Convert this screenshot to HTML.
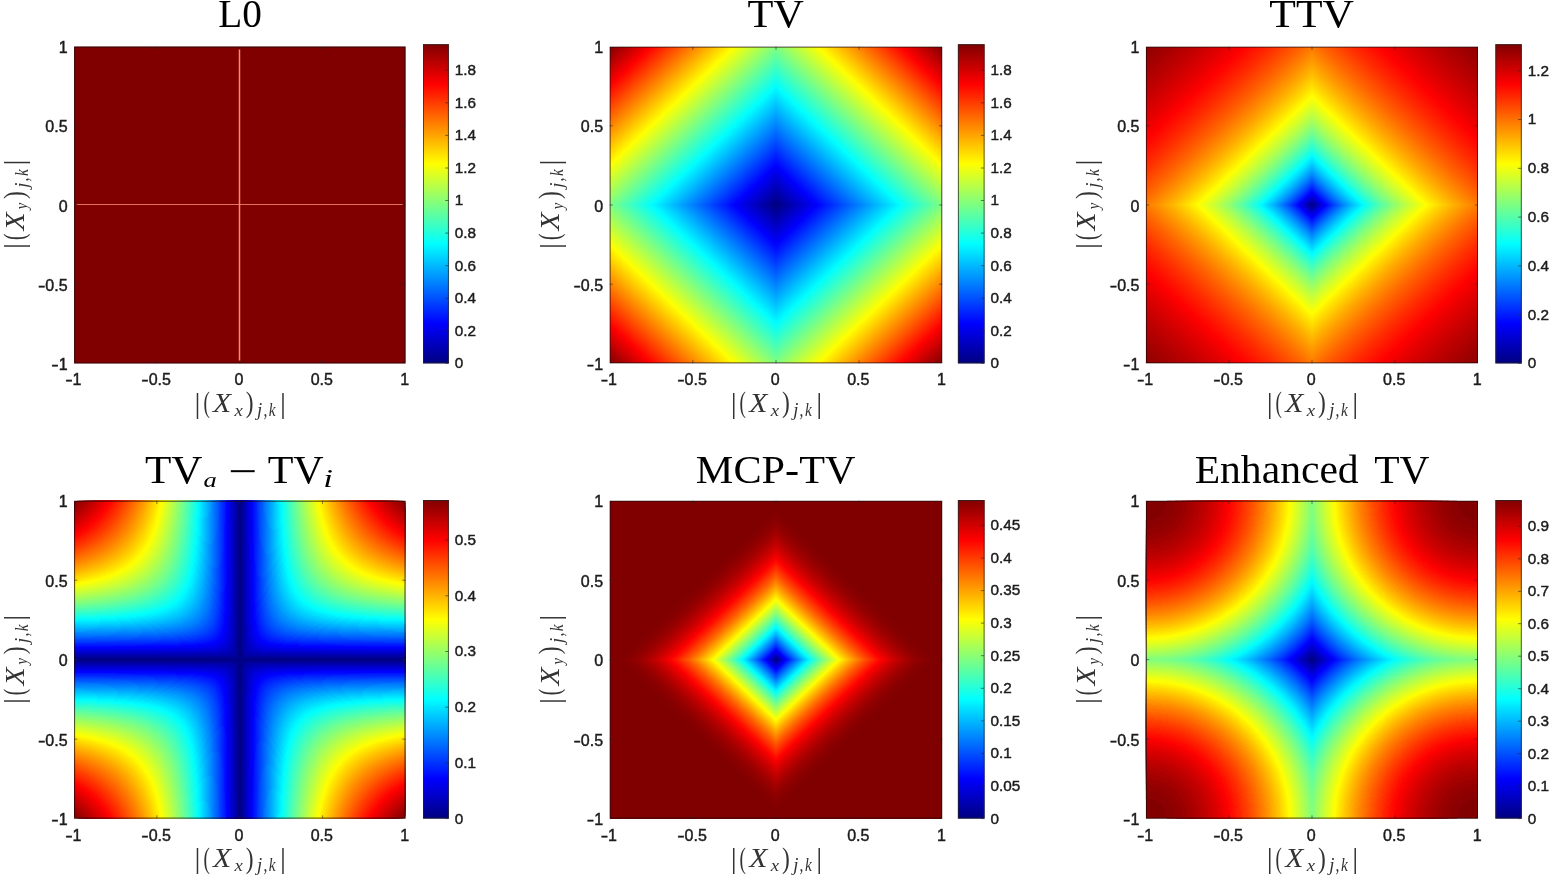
<!DOCTYPE html>
<html lang="en"><head><meta charset="utf-8"><title>Regularizer level sets</title>
<style>html,body{margin:0;padding:0;background:#fff}body{width:1551px;height:879px;overflow:hidden}svg{display:block}.t{font-family:"Liberation Sans",sans-serif;font-size:16px;fill:#1c1c1c;stroke:#1c1c1c;stroke-width:0.45px}.c{font-size:15.3px}.ti{font-family:"Liberation Serif",serif;font-size:39.5px;fill:#000}.lb{font-family:"Liberation Serif",serif;font-size:26.5px;fill:#333}</style></head><body>
<svg width="1551" height="879" viewBox="0 0 1551 879">
<rect width="1551" height="879" fill="#fff"/>
<rect x="74.1" y="46.6" width="331.4" height="316.8" fill="#800000"/>
<path d="M76.7 204.5H402.9" stroke="#e4705c" stroke-width="1.2" fill="none"/>
<path d="M239.5 49.2V360.8" stroke="#f88c6e" stroke-width="1.5" fill="none"/>
<defs>
<linearGradient id="g2_0" x1="0" y1="1" x2="1" y2="0"><stop offset="0.0000" stop-color="#000080"/><stop offset="0.0104" stop-color="#00008a"/><stop offset="0.0208" stop-color="#000095"/><stop offset="0.0312" stop-color="#00009f"/><stop offset="0.0417" stop-color="#0000aa"/><stop offset="0.0521" stop-color="#0000b5"/><stop offset="0.0625" stop-color="#0000bf"/><stop offset="0.0729" stop-color="#0000ca"/><stop offset="0.0833" stop-color="#0000d4"/><stop offset="0.0938" stop-color="#0000df"/><stop offset="0.1042" stop-color="#0000ea"/><stop offset="0.1146" stop-color="#0000f4"/><stop offset="0.1250" stop-color="#0000ff"/><stop offset="0.1250" stop-color="#0000ff"/><stop offset="0.1354" stop-color="#000bff"/><stop offset="0.1458" stop-color="#0015ff"/><stop offset="0.1562" stop-color="#0020ff"/><stop offset="0.1667" stop-color="#002aff"/><stop offset="0.1771" stop-color="#0035ff"/><stop offset="0.1875" stop-color="#0040ff"/><stop offset="0.1979" stop-color="#004aff"/><stop offset="0.2083" stop-color="#0055ff"/><stop offset="0.2188" stop-color="#0060ff"/><stop offset="0.2292" stop-color="#006aff"/><stop offset="0.2396" stop-color="#0075ff"/><stop offset="0.2500" stop-color="#0080ff"/><stop offset="0.2604" stop-color="#008aff"/><stop offset="0.2708" stop-color="#0095ff"/><stop offset="0.2812" stop-color="#009fff"/><stop offset="0.2917" stop-color="#00aaff"/><stop offset="0.3021" stop-color="#00b5ff"/><stop offset="0.3125" stop-color="#00bfff"/><stop offset="0.3229" stop-color="#00caff"/><stop offset="0.3333" stop-color="#00d4ff"/><stop offset="0.3438" stop-color="#00dfff"/><stop offset="0.3542" stop-color="#00eaff"/><stop offset="0.3646" stop-color="#00f4ff"/><stop offset="0.3750" stop-color="#00ffff"/><stop offset="0.3750" stop-color="#00ffff"/><stop offset="0.3854" stop-color="#0bfff4"/><stop offset="0.3958" stop-color="#15ffea"/><stop offset="0.4062" stop-color="#20ffdf"/><stop offset="0.4167" stop-color="#2bffd4"/><stop offset="0.4271" stop-color="#35ffca"/><stop offset="0.4375" stop-color="#40ffbf"/><stop offset="0.4479" stop-color="#4affb5"/><stop offset="0.4583" stop-color="#55ffaa"/><stop offset="0.4688" stop-color="#60ff9f"/><stop offset="0.4792" stop-color="#6aff95"/><stop offset="0.4896" stop-color="#75ff8a"/><stop offset="0.5000" stop-color="#80ff80"/><stop offset="0.5104" stop-color="#8aff75"/><stop offset="0.5208" stop-color="#95ff6a"/><stop offset="0.5312" stop-color="#9fff60"/><stop offset="0.5417" stop-color="#aaff55"/><stop offset="0.5521" stop-color="#b5ff4a"/><stop offset="0.5625" stop-color="#bfff40"/><stop offset="0.5729" stop-color="#caff35"/><stop offset="0.5833" stop-color="#d5ff2a"/><stop offset="0.5938" stop-color="#dfff20"/><stop offset="0.6042" stop-color="#eaff15"/><stop offset="0.6146" stop-color="#f4ff0b"/><stop offset="0.6250" stop-color="#ffff00"/><stop offset="0.6250" stop-color="#ffff00"/><stop offset="0.6354" stop-color="#fff400"/><stop offset="0.6458" stop-color="#ffea00"/><stop offset="0.6562" stop-color="#ffdf00"/><stop offset="0.6667" stop-color="#ffd500"/><stop offset="0.6771" stop-color="#ffca00"/><stop offset="0.6875" stop-color="#ffbf00"/><stop offset="0.6979" stop-color="#ffb500"/><stop offset="0.7083" stop-color="#ffaa00"/><stop offset="0.7188" stop-color="#ff9f00"/><stop offset="0.7292" stop-color="#ff9500"/><stop offset="0.7396" stop-color="#ff8a00"/><stop offset="0.7500" stop-color="#ff8000"/><stop offset="0.7604" stop-color="#ff7500"/><stop offset="0.7708" stop-color="#ff6a00"/><stop offset="0.7812" stop-color="#ff6000"/><stop offset="0.7917" stop-color="#ff5500"/><stop offset="0.8021" stop-color="#ff4a00"/><stop offset="0.8125" stop-color="#ff4000"/><stop offset="0.8229" stop-color="#ff3500"/><stop offset="0.8333" stop-color="#ff2a00"/><stop offset="0.8438" stop-color="#ff2000"/><stop offset="0.8542" stop-color="#ff1500"/><stop offset="0.8646" stop-color="#ff0b00"/><stop offset="0.8750" stop-color="#ff0000"/><stop offset="0.8854" stop-color="#f40000"/><stop offset="0.8958" stop-color="#ea0000"/><stop offset="0.9062" stop-color="#df0000"/><stop offset="0.9167" stop-color="#d50000"/><stop offset="0.9271" stop-color="#ca0000"/><stop offset="0.9375" stop-color="#bf0000"/><stop offset="0.9479" stop-color="#b50000"/><stop offset="0.9583" stop-color="#aa0000"/><stop offset="0.9688" stop-color="#9f0000"/><stop offset="0.9792" stop-color="#950000"/><stop offset="0.9896" stop-color="#8a0000"/><stop offset="1.0000" stop-color="#800000"/></linearGradient>
<linearGradient id="g2_1" x1="1" y1="1" x2="0" y2="0" href="#g2_0"/>
<linearGradient id="g2_2" x1="0" y1="0" x2="1" y2="1" href="#g2_0"/>
<linearGradient id="g2_3" x1="1" y1="0" x2="0" y2="1" href="#g2_0"/>
</defs>
<g shape-rendering="crispEdges">
<rect x="775.95" y="46.60" width="166.35" height="158.40" fill="url(#g2_0)"/>
<rect x="609.60" y="46.60" width="166.35" height="158.40" fill="url(#g2_1)"/>
<rect x="775.95" y="205.00" width="166.35" height="158.40" fill="url(#g2_2)"/>
<rect x="609.60" y="205.00" width="166.35" height="158.40" fill="url(#g2_3)"/>
</g>
<defs>
<linearGradient id="g3_0" x1="0" y1="1" x2="1" y2="0"><stop offset="0.0000" stop-color="#000080"/><stop offset="0.0104" stop-color="#0000a1"/><stop offset="0.0208" stop-color="#0000c2"/><stop offset="0.0312" stop-color="#0000e0"/><stop offset="0.0417" stop-color="#0000fe"/><stop offset="0.0421" stop-color="#0000ff"/><stop offset="0.0521" stop-color="#001bff"/><stop offset="0.0625" stop-color="#0036ff"/><stop offset="0.0729" stop-color="#0050ff"/><stop offset="0.0833" stop-color="#0069ff"/><stop offset="0.0938" stop-color="#0081ff"/><stop offset="0.1042" stop-color="#0098ff"/><stop offset="0.1146" stop-color="#00aeff"/><stop offset="0.1250" stop-color="#00c3ff"/><stop offset="0.1354" stop-color="#00d8ff"/><stop offset="0.1458" stop-color="#00ebff"/><stop offset="0.1562" stop-color="#00feff"/><stop offset="0.1566" stop-color="#00ffff"/><stop offset="0.1667" stop-color="#12ffed"/><stop offset="0.1771" stop-color="#23ffdc"/><stop offset="0.1875" stop-color="#35ffca"/><stop offset="0.1979" stop-color="#45ffba"/><stop offset="0.2083" stop-color="#55ffaa"/><stop offset="0.2188" stop-color="#65ff9a"/><stop offset="0.2292" stop-color="#74ff8b"/><stop offset="0.2396" stop-color="#82ff7d"/><stop offset="0.2500" stop-color="#91ff6e"/><stop offset="0.2604" stop-color="#9eff61"/><stop offset="0.2708" stop-color="#acff53"/><stop offset="0.2812" stop-color="#b9ff46"/><stop offset="0.2917" stop-color="#c5ff3a"/><stop offset="0.3021" stop-color="#d1ff2e"/><stop offset="0.3125" stop-color="#ddff22"/><stop offset="0.3229" stop-color="#e9ff16"/><stop offset="0.3333" stop-color="#f4ff0b"/><stop offset="0.3438" stop-color="#ffff00"/><stop offset="0.3438" stop-color="#ffff00"/><stop offset="0.3542" stop-color="#fff400"/><stop offset="0.3646" stop-color="#ffea00"/><stop offset="0.3750" stop-color="#ffe000"/><stop offset="0.3854" stop-color="#ffd600"/><stop offset="0.3958" stop-color="#ffcd00"/><stop offset="0.4062" stop-color="#ffc300"/><stop offset="0.4167" stop-color="#ffba00"/><stop offset="0.4271" stop-color="#ffb100"/><stop offset="0.4375" stop-color="#ffa900"/><stop offset="0.4479" stop-color="#ffa000"/><stop offset="0.4583" stop-color="#ff9800"/><stop offset="0.4688" stop-color="#ff9000"/><stop offset="0.4792" stop-color="#ff8800"/><stop offset="0.4896" stop-color="#ff8000"/><stop offset="0.5000" stop-color="#ff7900"/><stop offset="0.5104" stop-color="#ff7100"/><stop offset="0.5208" stop-color="#ff6a00"/><stop offset="0.5312" stop-color="#ff6300"/><stop offset="0.5417" stop-color="#ff5c00"/><stop offset="0.5521" stop-color="#ff5500"/><stop offset="0.5625" stop-color="#ff4f00"/><stop offset="0.5729" stop-color="#ff4800"/><stop offset="0.5833" stop-color="#ff4200"/><stop offset="0.5938" stop-color="#ff3b00"/><stop offset="0.6042" stop-color="#ff3500"/><stop offset="0.6146" stop-color="#ff2f00"/><stop offset="0.6250" stop-color="#ff2900"/><stop offset="0.6354" stop-color="#ff2400"/><stop offset="0.6458" stop-color="#ff1e00"/><stop offset="0.6562" stop-color="#ff1900"/><stop offset="0.6667" stop-color="#ff1300"/><stop offset="0.6771" stop-color="#ff0e00"/><stop offset="0.6875" stop-color="#ff0900"/><stop offset="0.6979" stop-color="#ff0300"/><stop offset="0.7049" stop-color="#ff0000"/><stop offset="0.7083" stop-color="#fd0000"/><stop offset="0.7188" stop-color="#f80000"/><stop offset="0.7292" stop-color="#f40000"/><stop offset="0.7396" stop-color="#ef0000"/><stop offset="0.7500" stop-color="#ea0000"/><stop offset="0.7604" stop-color="#e50000"/><stop offset="0.7708" stop-color="#e10000"/><stop offset="0.7812" stop-color="#dd0000"/><stop offset="0.7917" stop-color="#d80000"/><stop offset="0.8021" stop-color="#d40000"/><stop offset="0.8125" stop-color="#d00000"/><stop offset="0.8229" stop-color="#cb0000"/><stop offset="0.8333" stop-color="#c70000"/><stop offset="0.8438" stop-color="#c30000"/><stop offset="0.8542" stop-color="#bf0000"/><stop offset="0.8646" stop-color="#bb0000"/><stop offset="0.8750" stop-color="#b80000"/><stop offset="0.8854" stop-color="#b40000"/><stop offset="0.8958" stop-color="#b00000"/><stop offset="0.9062" stop-color="#ad0000"/><stop offset="0.9167" stop-color="#a90000"/><stop offset="0.9271" stop-color="#a50000"/><stop offset="0.9375" stop-color="#a20000"/><stop offset="0.9479" stop-color="#9e0000"/><stop offset="0.9583" stop-color="#9b0000"/><stop offset="0.9688" stop-color="#980000"/><stop offset="0.9792" stop-color="#940000"/><stop offset="0.9896" stop-color="#910000"/><stop offset="1.0000" stop-color="#8e0000"/></linearGradient>
<linearGradient id="g3_1" x1="1" y1="1" x2="0" y2="0" href="#g3_0"/>
<linearGradient id="g3_2" x1="0" y1="0" x2="1" y2="1" href="#g3_0"/>
<linearGradient id="g3_3" x1="1" y1="0" x2="0" y2="1" href="#g3_0"/>
</defs>
<g shape-rendering="crispEdges">
<rect x="1311.95" y="46.60" width="166.05" height="158.40" fill="url(#g3_0)"/>
<rect x="1145.90" y="46.60" width="166.05" height="158.40" fill="url(#g3_1)"/>
<rect x="1311.95" y="205.00" width="166.05" height="158.40" fill="url(#g3_2)"/>
<rect x="1145.90" y="205.00" width="166.05" height="158.40" fill="url(#g3_3)"/>
</g>
<clipPath id="c4"><rect x="74.1" y="500.7" width="331.4" height="317.9"/></clipPath>
<g clip-path="url(#c4)" shape-rendering="crispEdges">
<rect x="74.1" y="500.7" width="331.4" height="317.9" fill="#830000"/>
<g transform="translate(239.8 659.6)">
<g id="q4">
<path fill="#8b0000" d="M-0.8 -0.8L169 -0.8L169 153.5L164.2 157.9L160.1 162.1L-0.8 162.1Z"/>
<path fill="#930000" d="M-0.8 -0.8L169 -0.8L169 151.2L165.8 154L162.9 156.6L160.1 159.4L157.6 162.1L-0.8 162.1Z"/>
<path fill="#9b0000" d="M-0.8 -0.8L169 -0.8L169 149L165.3 152L161.7 155.3L158.4 158.6L155.3 162.1L-0.8 162.1Z"/>
<path fill="#a30000" d="M-0.8 -0.8L169 -0.8L169 146.7L164.6 150.3L160.5 154L156.7 157.9L153 162.1L-0.8 162.1Z"/>
<path fill="#ab0000" d="M-0.8 -0.8L169 -0.8L169 144.5L163.9 148.5L159.1 152.8L154.8 157.2L150.7 162.1L-0.8 162.1Z"/>
<path fill="#b30000" d="M-0.8 -0.8L169 -0.8L169 142.4L165.9 144.6L163 147L160.3 149.3L157.8 151.6L155.2 154.2L152.9 156.7L150.6 159.4L148.4 162.1L-0.8 162.1Z"/>
<path fill="#bb0000" d="M-0.8 -0.8L169 -0.8L169 140.3L165.8 142.5L162.5 145L159.3 147.7L156.5 150.4L153.7 153.2L151.2 155.9L148.6 159L146.2 162.1L-0.8 162.1Z"/>
<path fill="#c30000" d="M-0.8 -0.8L169 -0.8L169 138.2L165.3 140.7L161.7 143.4L158.4 146.2L155.2 149.1L152.3 152L149.5 155.1L146.7 158.5L144 162.1L-0.8 162.1Z"/>
<path fill="#cb0000" d="M-0.8 -0.8L169 -0.8L169 136.1L165 138.8L161.3 141.5L157.5 144.6L154 147.8L150.8 151L147.5 154.7L144.7 158.2L141.9 162.1L-0.8 162.1Z"/>
<path fill="#d30000" d="M-0.8 -0.8L169 -0.8L169 134.1L164.6 137L160.4 140L156.5 143.1L152.7 146.6L149.2 150.2L145.8 154L142.7 158L139.8 162.1L-0.8 162.1Z"/>
<path fill="#db0000" d="M-0.8 -0.8L169 -0.8L169 132.1L164.2 135.1L159.5 138.4L155.2 141.8L151.3 145.4L147.5 149.3L144.2 153.2L140.9 157.5L137.7 162.1L-0.8 162.1Z"/>
<path fill="#e30000" d="M-0.8 -0.8L169 -0.8L169 130.1L163.7 133.3L158.9 136.7L154.2 140.4L150 144.2L145.9 148.4L142.3 152.7L139 157.1L135.7 162.1L-0.8 162.1Z"/>
<path fill="#eb0000" d="M-0.8 -0.8L169 -0.8L169 128.2L163.3 131.5L158.1 135.1L153.2 138.9L148.7 142.9L144.4 147.4L140.6 151.9L137 156.9L133.7 162.1L-0.8 162.1Z"/>
<path fill="#f30000" d="M-0.8 -0.8L169 -0.8L169 126.3L162.9 129.8L157.5 133.4L152.4 137.2L150 139.3L147.5 141.6L145.2 143.9L143.1 146.2L139 151.1L135.3 156.3L131.7 162.1L-0.8 162.1Z"/>
<path fill="#fb0000" d="M-0.8 -0.8L169 -0.8L169 124.4L165.8 126.2L162.5 128L159.5 129.9L156.7 131.8L154 133.7L151.2 135.9L148.7 138L146.2 140.4L143.9 142.7L141.5 145.3L139.4 147.7L137.3 150.5L135.3 153.2L133.3 156.1L131.5 159L129.7 162.1L-0.8 162.1Z"/>
<path fill="#ff0400" d="M-0.8 -0.8L169 -0.8L169 122.6L165.5 124.4L162.1 126.3L158.9 128.2L155.8 130.2L152.8 132.4L150.1 134.5L147.4 136.9L144.8 139.2L142.3 141.8L140 144.2L137.8 146.9L135.6 149.7L133.7 152.4L131.6 155.5L129.7 158.7L127.8 162.1L-0.8 162.1Z"/>
<path fill="#ff0c00" d="M-0.8 -0.8L169 -0.8L169 120.8L165.4 122.6L161.7 124.5L158.5 126.5L155 128.7L152 130.8L149.2 133L146.3 135.4L143.5 138L141 140.5L138.6 143.1L136.2 146L134 148.9L131.8 152L129.7 155.3L127.8 158.6L125.9 162.1L-0.8 162.1Z"/>
<path fill="#ff1400" d="M-0.8 -0.8L169 -0.8L169 119L165 120.9L161.3 122.8L157.9 124.8L154.4 127L151.2 129.2L147.9 131.7L145 134.1L142.3 136.7L139.4 139.6L137 142.3L134.6 145.2L132.4 148.1L130.1 151.4L128 154.7L126.1 158.2L124 162.1L-0.8 162.1Z"/>
<path fill="#ff1c00" d="M-0.8 -0.8L169 -0.8L169 117.2L165 119.1L160.9 121.1L157.2 123.2L153.6 125.4L150 127.9L146.9 130.2L143.9 132.8L141 135.4L138.2 138.2L135.6 141.1L133.1 144.2L130.8 147.4L128.5 150.7L126.3 154.4L124.1 158.2L122.2 162.1L-0.8 162.1Z"/>
<path fill="#ff2400" d="M-0.8 -0.8L169 -0.8L169 115.5L164.7 117.4L160.5 119.5L156.5 121.7L152.8 123.9L149.2 126.4L145.9 128.8L142.7 131.4L139.8 134.1L137 136.9L134.2 140.1L131.7 143.1L129.2 146.6L126.9 150.1L124.5 154L122.4 157.9L120.4 162.1L-0.8 162.1Z"/>
<path fill="#ff2c00" d="M-0.8 -0.8L169 -0.8L169 113.7L164.6 115.7L160.1 117.8L156 120L152 122.4L148.3 124.8L144.7 127.5L141.5 130.2L138.4 133L135.4 136L132.5 139.2L129.8 142.7L127.3 146.2L125.1 149.7L122.8 153.6L120.6 157.9L118.6 162.1L-0.8 162.1Z"/>
<path fill="#ff3400" d="M-0.8 -0.8L169 -0.8L169 112.1L164.2 114.1L159.5 116.2L155.2 118.5L151.2 120.9L147.5 123.2L143.8 126L140.2 128.9L137 131.8L134 134.9L130.9 138.4L128.2 141.9L125.7 145.4L123.3 149.3L121.1 153.2L118.9 157.5L116.8 162.1L-0.8 162.1Z"/>
<path fill="#ff3c00" d="M-0.8 -0.8L169 -0.8L169 110.4L164.1 112.4L159.3 114.5L154.8 116.8L150.4 119.3L146.3 121.9L142.7 124.6L139 127.5L135.8 130.5L132.6 133.7L129.7 137.1L126.8 140.7L124.2 144.6L121.7 148.5L119.4 152.8L117.1 157.4L115.1 162.1L-0.8 162.1Z"/>
<path fill="#ff4400" d="M-0.8 -0.8L169 -0.8L169 108.7L163.7 110.8L158.9 112.9L154 115.3L149.6 117.8L145.5 120.4L141.5 123.2L137.8 126.2L134.6 129.2L131.3 132.5L128.5 135.7L125.5 139.6L122.8 143.5L120.2 147.7L117.7 152.4L115.5 157.1L113.3 162.1L-0.8 162.1Z"/>
<path fill="#ff4c00" d="M-0.8 -0.8L169 -0.8L169 107.1L163.7 109.1L158.5 111.3L153.6 113.7L148.9 116.2L144.7 118.8L140.6 121.7L136.7 124.8L133.3 127.9L129.9 131.4L126.9 134.9L123.9 138.8L121.2 142.8L118.5 147.4L116 152L113.7 157.1L111.6 162.1L-0.8 162.1Z"/>
<path fill="#ff5400" d="M-0.8 -0.8L169 -0.8L169 105.5L163.3 107.5L158.1 109.7L152.8 112.2L148.2 114.7L143.7 117.4L139.4 120.4L135.4 123.6L131.9 126.7L128.5 130.3L125.2 134.1L122.3 138L119.6 142.1L117 146.6L114.4 151.6L112.1 156.7L110 162.1L-0.8 162.1Z"/>
<path fill="#ff5c00" d="M-0.8 -0.8L169 -0.8L169 103.9L162.9 106L157.3 108.3L152 110.8L147.1 113.3L142.7 116L138.2 119.1L134.2 122.3L130.6 125.6L127.2 129.1L123.9 133L120.8 137.1L117.9 141.5L115.3 146.2L112.7 151.2L110.4 156.7L108.3 162.1L-0.8 162.1Z"/>
<path fill="#ff6400" d="M-0.8 -0.8L169 -0.8L169 102.3L162.5 104.5L156.9 106.8L151.3 109.2L146.3 111.8L141.5 114.7L137.4 117.5L133.1 120.9L129.3 124.3L125.8 127.9L122.4 131.9L119.4 136.1L116.4 140.7L113.6 145.8L111.1 150.9L108.8 156.3L106.7 162.1L-0.8 162.1Z"/>
<path fill="#ff6c00" d="M-0.8 -0.8L169 -0.8L169 100.8L162.5 102.9L156.5 105.2L150.8 107.7L145.5 110.4L140.6 113.2L136.2 116.2L132.1 119.4L128.1 123L124.4 126.7L120.9 131L117.8 135.3L114.8 140L112.1 145L109.5 150.5L107.3 155.9L105.1 162.1L-0.8 162.1Z"/>
<path fill="#ff7400" d="M-0.8 -0.8L169 -0.8L169 99.2L162.1 101.4L156 103.7L150.3 106.1L144.8 108.9L139.8 111.7L135.3 114.7L130.9 118.1L126.8 121.7L123.1 125.6L119.6 129.8L116.4 134.1L113.5 138.9L110.7 144.1L108.1 149.7L105.7 155.5L103.5 162.1L-0.8 162.1Z"/>
<path fill="#ff7c00" d="M-0.8 -0.8L169 -0.8L169 97.7L161.9 99.9L155.4 102.2L149.6 104.7L143.9 107.4L138.6 110.4L133.9 113.5L129.4 117L125.5 120.5L121.7 124.4L118.2 128.7L114.9 133.4L111.9 138.3L109 143.7L106.5 149.3L104.1 155.5L101.9 162.1L-0.8 162.1Z"/>
<path fill="#ff8300" d="M-0.8 -0.8L169 -0.8L169 96.2L161.9 98.4L155.1 100.7L148.7 103.3L143.1 106L137.8 108.9L132.9 112.1L128.5 115.5L124.1 119.4L120.4 123.2L116.7 127.7L113.3 132.6L110.3 137.6L107.5 143.1L104.9 148.9L102.5 155.2L100.3 162.1L-0.8 162.1Z"/>
<path fill="#ff8b00" d="M-0.8 -0.8L169 -0.8L169 94.8L161.3 97L154.4 99.3L148 101.9L142.2 104.6L136.6 107.6L131.7 110.8L127.1 114.3L122.8 118.1L119 122.1L115.5 126.4L112.2 131L109 136.5L106.2 141.9L103.5 148.1L101.1 154.7L98.8 162.1L-0.8 162.1Z"/>
<path fill="#ff9300" d="M-0.8 -0.8L169 -0.8L169 93.3L161.3 95.4L154 97.8L147.5 100.3L141.5 103.1L135.8 106.1L130.9 109.2L128.5 111L126.1 112.8L123.9 114.7L121.6 116.8L119.6 118.8L117.5 121L113.9 125.5L110.7 130.2L109 133L107.4 135.8L104.6 141.5L102 147.7L99.5 154.7L97.3 162.1L-0.8 162.1Z"/>
<path fill="#ff9b00" d="M-0.8 -0.8L169 -0.8L169 91.9L160.9 94L153.6 96.3L146.7 98.9L140.6 101.6L135 104.6L129.7 107.9L127.3 109.7L124.8 111.5L122.5 113.5L120.4 115.5L118.4 117.5L116.3 119.7L114.3 122.1L112.5 124.4L110.9 126.7L109.1 129.5L106 134.9L103.1 140.7L100.4 147.4L98 154.4L95.8 162.1L-0.8 162.1Z"/>
<path fill="#ffa300" d="M-0.8 -0.8L169 -0.8L169 90.4L160.9 92.5L153.2 94.9L145.9 97.6L139.7 100.3L136.6 101.8L133.8 103.4L128.5 106.7L126.1 108.4L123.6 110.2L121.2 112.3L119 114.3L117.1 116.2L114.9 118.6L113 120.9L111.1 123.4L109.3 126L107.5 128.7L104.5 134.1L101.5 140.4L98.9 147L96.5 154.3L94.3 162.1L-0.8 162.1Z"/>
<path fill="#ffab00" d="M-0.8 -0.8L169 -0.8L169 89L160.5 91.1L152.4 93.6L145.1 96.2L138.6 99L135.4 100.6L132.5 102.1L127.3 105.4L124.8 107.1L122.4 108.9L120 111L117.6 113.1L115.5 115.3L113.5 117.5L111.5 120L109.6 122.5L107.8 125L106.2 127.6L104.6 130.4L103 133.4L100.1 139.6L97.4 146.6L95 154L92.8 162.1L-0.8 162.1Z"/>
<path fill="#ffb300" d="M-0.8 -0.8L169 -0.8L169 87.6L160.1 89.8L152 92.1L144.7 94.7L141.3 96L137.8 97.6L134.6 99.1L131.6 100.7L128.9 102.3L126.1 104.1L123.6 105.8L121.1 107.7L118.8 109.7L116.3 111.9L114.3 114L112.2 116.2L110.2 118.6L108.2 121.3L106.4 124L104.7 126.7L103.1 129.5L101.5 132.6L98.7 138.8L96 145.8L93.6 153.6L91.3 162.1L-0.8 162.1Z"/>
<path fill="#ffbb00" d="M-0.8 -0.8L169 -0.8L169 86.2L160.1 88.3L151.6 90.7L143.9 93.3L140.2 94.8L137 96.2L134 97.6L130.9 99.2L128.1 100.8L125.1 102.6L122.4 104.5L120 106.3L117.4 108.5L115.1 110.6L113 112.7L110.9 115.1L108.9 117.4L106.9 120.1L105.1 122.9L103.4 125.6L101.7 128.5L100.1 131.7L97.3 138L95.9 141.5L94.6 145.4L92.1 153.6L89.9 162.1L-0.8 162.1Z"/>
<path fill="#ffc300" d="M-0.8 -0.8L169 -0.8L169 84.9L159.3 87.1L150.8 89.4L143.1 92L139.6 93.3L136.2 94.7L132.9 96.3L129.7 97.9L126.8 99.5L124 101.3L121.5 103L118.8 105L116.3 107.1L113.9 109.3L111.6 111.6L109.5 113.9L107.4 116.5L105.6 119L103.8 121.7L102.1 124.4L100.3 127.5L98.8 130.6L97.3 133.9L95.9 137.2L94.6 140.7L93.2 144.6L90.8 152.8L88.5 162.1L-0.8 162.1Z"/>
<path fill="#ffcb00" d="M-0.8 -0.8L169 -0.8L169 83.5L159.7 85.5L150.8 87.9L146.7 89.1L142.7 90.5L139 91.8L135.4 93.3L132.1 94.9L128.9 96.4L125.6 98.2L122.8 100L120.1 101.9L117.5 103.8L115.1 105.7L112.6 108.1L110.2 110.4L108.2 112.7L106.2 115.2L104.2 117.9L102.4 120.5L100.5 123.6L98.9 126.7L97.3 129.9L95.7 133.4L94.3 136.9L92.9 140.7L91.6 144.6L89.2 153.2L87.1 162.1L-0.8 162.1Z"/>
<path fill="#ffd300" d="M-0.8 -0.8L169 -0.8L169 82.2L158.9 84.3L149.7 86.7L145.5 87.9L141.5 89.3L137.8 90.6L134.2 92.1L130.7 93.7L127.6 95.2L124.4 97L121.6 98.7L118.8 100.6L116.1 102.6L113.5 104.8L111.2 106.9L108.9 109.2L106.6 111.8L104.6 114.4L102.6 117L100.9 119.7L99 122.9L97.4 126L95.9 129.1L94.3 132.6L92.9 136.1L91.6 139.8L90.3 143.9L87.9 152.4L85.7 162.1L-0.8 162.1Z"/>
<path fill="#ffdb00" d="M-0.8 -0.8L169 -0.8L169 80.9L158.5 83L149.2 85.3L145.1 86.5L141 87.9L137 89.3L133.3 90.7L129.7 92.4L126.5 94L123.4 95.6L120.4 97.4L117.5 99.3L114.7 101.5L112.3 103.5L109.8 105.7L107.5 108.1L105.4 110.5L103.3 113.1L101.3 115.8L99.6 118.6L97.7 121.7L96.1 124.8L94.4 128.2L92.9 131.8L91.6 135.3L90.2 139.2L88.9 143.5L87.6 147.7L86.4 152.4L84.3 162.1L-0.8 162.1Z"/>
<path fill="#ffe300" d="M-0.8 -0.8L169 -0.8L169 79.6L158.4 81.6L153.3 82.8L148.8 84L144.3 85.2L140.2 86.5L136.4 87.9L132.5 89.4L128.9 90.9L125.6 92.5L122.4 94.2L119.4 96L116.5 98L113.8 99.9L111.1 102.2L108.6 104.4L106.2 106.9L104.2 109.2L102.1 111.7L100.1 114.5L98.2 117.4L96.5 120.5L94.8 123.6L93.2 127.1L91.6 130.8L90.2 134.5L88.9 138.4L87.5 142.7L86.3 147L85.1 151.9L82.9 162.1L-0.8 162.1Z"/>
<path fill="#ffeb00" d="M-0.8 -0.8L169 -0.8L169 78.3L158.1 80.3L148.3 82.6L143.9 83.8L139.6 85.1L135.4 86.6L131.7 88L128.3 89.4L124.8 91.1L121.6 92.8L118.4 94.6L115.5 96.5L112.7 98.6L110 100.7L107.4 103.1L105 105.5L102.7 108.1L100.6 110.8L98.7 113.5L96.7 116.6L94.9 119.7L93.2 123.1L91.7 126.4L90.3 129.9L88.8 133.9L87.4 138L86.1 142.3L84.9 147L83.7 151.6L81.6 162.1L-0.8 162.1Z"/>
<path fill="#fff300" d="M-0.8 -0.8L169 -0.8L169 77L158.1 79L152.9 80.1L147.9 81.3L143.5 82.4L139 83.8L134.9 85.1L130.7 86.7L127 88.2L123.6 89.8L120.4 91.5L117.1 93.4L114.2 95.2L111.5 97.3L108.7 99.5L106.1 101.9L103.8 104.2L101.4 106.9L99.3 109.6L97.3 112.4L95.4 115.5L93.6 118.6L92 121.8L90.4 125.4L88.9 129.1L87.5 133L86.1 137.2L84.7 141.9L83.5 146.6L82.3 151.6L80.3 162.1L-0.8 162.1Z"/>
<path fill="#fffb00" d="M-0.8 -0.8L169 -0.8L169 75.7L157.5 77.7L152 78.9L147.1 80L142.3 81.3L137.8 82.6L133.6 84L129.7 85.4L126.1 86.9L122.4 88.6L119.2 90.2L115.9 92.1L112.9 94.1L109.8 96.3L107.3 98.4L104.7 100.7L102.4 103L100.1 105.7L98.1 108.2L96 111.2L94.1 114.3L92.3 117.4L90.6 120.9L89 124.4L87.6 128.1L86.1 132.2L84.7 136.6L83.4 141.1L82.2 145.8L81.1 151L78.9 162.1L-0.8 162.1Z"/>
<path fill="#fbff04" d="M-0.8 -0.8L169 -0.8L169 74.5L157.3 76.5L152 77.5L146.7 78.7L141.9 79.9L137.2 81.2L132.9 82.6L128.9 84.1L125.2 85.5L121.6 87.1L117.9 89L114.7 90.8L111.5 92.9L108.6 95L105.9 97.2L103.4 99.5L100.9 102L98.7 104.6L96.5 107.5L94.4 110.4L92.6 113.5L90.8 116.7L89.1 120.1L87.6 123.8L86 127.9L84.6 131.8L83.3 136.1L82 140.7L80.8 145.8L79.7 150.9L77.6 162.1L-0.8 162.1Z"/>
<path fill="#f3ff0c" d="M-0.8 -0.8L169 -0.8L169 73.2L156.9 75.2L151.2 76.3L145.9 77.5L141 78.7L136.2 80L131.7 81.4L127.8 82.8L124 84.3L120.4 85.9L116.7 87.7L113.5 89.6L110.2 91.6L107.4 93.7L104.6 96L102.1 98.2L99.7 100.7L97.3 103.4L95.3 106.1L93.2 109.1L91.2 112.4L89.6 115.5L87.9 119L86.2 122.9L84.7 126.8L83.3 131L81.9 135.7L80.7 140.3L79.5 145.4L78.4 150.5L76.3 162.1L-0.8 162.1Z"/>
<path fill="#ebff14" d="M-0.8 -0.8L169 -0.8L169 72L156.5 74L150.8 75L145.3 76.2L140.2 77.4L135.4 78.7L131 80.1L126.9 81.5L122.8 83.1L119.2 84.7L115.5 86.5L112.4 88.2L109.3 90.2L106.2 92.4L103.6 94.5L100.9 96.9L98.5 99.4L96.3 101.9L94 104.8L92 107.8L90.2 110.8L88.3 114.3L86.6 117.8L85 121.7L83.5 125.6L82.1 129.9L80.7 134.5L79.4 139.4L78.2 144.6L77.1 150.1L76.1 155.9L75.1 162.1L-0.8 162.1Z"/>
<path fill="#e3ff1c" d="M-0.8 -0.8L169 -0.8L169 70.8L162.1 71.8L156 72.7L150 73.9L144.7 74.9L139.4 76.2L134.9 77.4L130.5 78.7L126.1 80.2L122 81.7L117.9 83.5L114.5 85.1L111.1 87L107.9 89L105 91.1L102.2 93.3L99.6 95.6L97.3 98L95 100.7L92.8 103.5L90.7 106.5L88.8 109.8L87 113.1L85.2 117L83.6 120.9L82 125.2L80.7 129.4L79.4 133.7L78.1 138.8L77 143.9L75.8 149.7L74.7 155.9L73.8 162.1L-0.8 162.1Z"/>
<path fill="#dbff24" d="M-0.8 -0.8L169 -0.8L169 69.6L162.1 70.5L155.6 71.5L149.6 72.6L144.3 73.7L139 74.8L133.8 76.2L129.3 77.5L124.8 79L120.8 80.5L116.7 82.2L113.1 84L109.8 85.8L106.6 87.8L103.8 89.8L100.9 92.1L98.3 94.5L95.7 97.2L93.3 99.9L91.2 102.7L89.2 105.7L87.4 108.9L85.5 112.4L83.9 115.9L82.3 119.9L80.8 124L79.3 128.7L78 133.4L76.8 138.4L75.6 143.9L74.6 149.3L73.5 155.5L72.5 162.1L-0.8 162.1Z"/>
<path fill="#d3ff2c" d="M-0.8 -0.8L169 -0.8L169 68.4L162.1 69.3L155.2 70.3L149.2 71.4L143.5 72.5L138.2 73.6L132.9 74.9L128.1 76.3L123.7 77.7L119.6 79.3L115.8 80.9L112.3 82.5L108.6 84.5L105.4 86.5L102.4 88.6L99.5 91L96.9 93.3L94.4 95.8L92 98.7L89.9 101.5L88 104.4L86.1 107.7L84.3 111.2L82.5 115.1L80.9 119L79.4 123.2L78 127.9L76.6 133L75.4 138L74.3 143.5L73.2 149.3L72.2 155.5L71.3 162.1L-0.8 162.1Z"/>
<path fill="#cbff34" d="M-0.8 -0.8L169 -0.8L169 67.2L155.2 69.1L149.2 70.1L143.1 71.2L137.4 72.4L132.1 73.7L127.3 75L122.8 76.5L118.8 77.9L114.7 79.6L111.1 81.3L107.5 83.2L104.3 85.1L101.3 87.2L98.5 89.4L95.7 92L93.2 94.5L90.8 97.4L88.6 100.3L86.6 103.4L84.6 106.9L82.8 110.4L81.1 114.3L79.6 118.2L78.1 122.5L76.7 127.1L75.4 132.1L74.2 137.4L73 143.1L72 148.9L71 155.5L70.1 162.1L-0.8 162.1Z"/>
<path fill="#c3ff3c" d="M-0.8 -0.8L169 -0.8L169 66L161.7 66.9L154.8 67.9L148.3 68.9L142.4 70L136.8 71.1L131.7 72.3L126.9 73.6L122 75.1L117.5 76.7L113.5 78.4L109.8 80.1L106.2 82L103 84L100.1 85.9L97.2 88.2L94.4 90.7L91.9 93.3L89.6 96L87.3 99.1L85.2 102.2L83.3 105.7L81.5 109.2L79.9 113.1L78.3 117L76.8 121.7L75.4 126.4L74.2 131.1L73 136.5L71.8 142.3L70.7 148.5L69.8 155.1L68.8 162.1L-0.8 162.1Z"/>
<path fill="#bbff44" d="M-0.8 -0.8L169 -0.8L169 64.9L161.7 65.7L154.4 66.7L147.9 67.7L141.9 68.7L136.2 69.9L130.8 71.1L125.6 72.5L121.1 73.9L116.7 75.4L112.7 77L109 78.6L105.4 80.5L102.1 82.4L98.9 84.6L96.1 86.8L93.2 89.4L90.5 92.1L88.2 94.9L85.9 98L83.9 101.1L82 104.6L80.3 108.1L78.6 112L77 116.1L75.6 120.5L74.2 125.4L72.9 130.6L71.7 136.1L70.6 141.9L69.5 148.1L68.5 155.1L67.6 162.1L-0.8 162.1Z"/>
<path fill="#b3ff4c" d="M-0.8 -0.8L169 -0.8L169 63.7L161.3 64.6L154 65.5L147.5 66.5L141 67.6L135 68.8L129.7 70L124.8 71.2L120 72.7L115.5 74.2L111.5 75.8L107.8 77.4L104.1 79.3L100.5 81.4L97.4 83.6L94.4 85.9L91.8 88.2L89.2 91L86.9 93.7L84.7 96.7L82.7 99.8L80.7 103.4L79 106.9L77.3 110.8L75.7 115.1L74.2 119.7L72.9 124.4L71.7 129.5L70.4 135.3L69.3 141.4L68.3 147.7L67.3 154.7L66.4 162.1L-0.8 162.1Z"/>
<path fill="#abff54" d="M-0.8 -0.8L169 -0.8L169 62.6L160.9 63.4L153.6 64.4L146.7 65.3L140.2 66.4L134.2 67.6L128.6 68.8L123.6 70.1L118.8 71.5L114.3 73L110 74.6L106.2 76.3L102.5 78.2L99.3 80.1L96.1 82.3L93.2 84.6L90.4 87.1L88 89.6L85.5 92.5L83.3 95.6L81.3 98.7L79.4 102.2L77.5 106.1L75.9 110L74.4 114.3L72.9 119L71.6 124L70.3 129.5L69.2 134.9L68.1 141.1L67 147.7L66.1 154.7L65.2 162.1L-0.8 162.1Z"/>
<path fill="#a3ff5c" d="M-0.8 -0.8L169 -0.8L169 61.4L160.9 62.3L153.2 63.2L146.3 64.2L139.8 65.2L133.8 66.3L128.1 67.5L122.8 68.8L117.9 70.2L113.5 71.6L109 73.3L105 75.1L101.3 77L98 78.9L94.8 81.1L92 83.3L89.2 85.8L86.7 88.3L84.3 91.2L82 94.5L80 97.6L78.1 101.1L76.3 105L74.6 109.1L73 113.5L71.6 118.2L70.3 123.2L69 128.7L67.9 134.5L66.8 140.7L65.8 147.4L64.9 154.4L64 162.1L-0.8 162.1Z"/>
<path fill="#9bff64" d="M-0.8 -0.8L169 -0.8L169 60.3L160.9 61.1L153.2 62L145.9 63L139.4 64L133.3 65L127.7 66.2L122 67.6L117.1 68.9L112.6 70.4L108.2 72L104.2 73.7L100.5 75.5L96.9 77.6L93.7 79.7L90.7 82L88 84.5L85.5 87.1L83.1 89.9L80.9 92.9L78.7 96.4L76.8 99.9L75 103.8L73.4 107.9L71.8 112.4L70.4 117L69 122.5L67.8 127.9L66.7 133.7L65.6 140L64.6 147L63.7 154.4L62.9 162.1L-0.8 162.1Z"/>
<path fill="#93ff6c" d="M-0.8 -0.8L169 -0.8L169 59.2L160.5 60L152.8 60.9L145.5 61.8L138.6 62.8L132.1 64L126.5 65.1L120.8 66.4L115.9 67.7L111.3 69.2L107 70.8L103 72.5L99.3 74.3L95.7 76.3L92.4 78.5L89.6 80.7L86.7 83.2L84.1 85.9L81.8 88.6L79.6 91.7L77.4 95.2L75.6 98.7L73.8 102.6L72.2 106.7L70.6 111.2L69.2 115.9L67.9 121.3L66.7 126.7L65.5 133L64.4 139.6L63.5 146.6L62.6 154L61.7 162.1L-0.8 162.1Z"/>
<path fill="#8bff74" d="M-0.8 -0.8L169 -0.8L169 58.1L160.1 58.9L152 59.8L144.7 60.7L137.8 61.7L131.3 62.8L125.6 63.9L120 65.2L115.1 66.5L110.2 68L105.8 69.6L101.7 71.2L97.9 73.1L94.4 75.1L91.2 77.2L88 79.7L85.3 82L82.7 84.7L80.5 87.5L78.2 90.6L76.1 94.1L74.3 97.6L72.5 101.5L70.8 105.7L69.3 110.3L68 115.1L66.6 120.5L65.4 126L64.3 132.2L63.3 138.8L62.3 145.8L61.4 153.6L60.6 162.1L-0.8 162.1Z"/>
<path fill="#83ff7c" d="M-0.8 -0.8L169 -0.8L169 57L160.1 57.8L152 58.6L144.3 59.5L137.4 60.5L130.9 61.5L124.8 62.7L119.2 63.9L113.9 65.3L109 66.8L104.6 68.3L100.5 70L96.6 71.9L92.8 74L89.6 76.2L86.7 78.4L84 80.9L81.4 83.6L79 86.4L76.9 89.4L74.8 92.9L73 96.5L71.3 100.3L69.6 104.6L68.1 109.2L66.7 114.3L65.4 119.7L64.2 125.6L63.1 131.8L62 138.8L61.1 145.8L60.2 153.6L59.4 162.1L-0.8 162.1Z"/>
<path fill="#7cff83" d="M-0.8 -0.8L169 -0.8L169 55.9L160.1 56.7L151.6 57.5L143.9 58.4L136.6 59.4L129.7 60.5L123.6 61.6L117.9 62.8L112.7 64.2L107.8 65.6L103.4 67.1L99.3 68.8L95.3 70.7L91.7 72.7L88.4 74.9L85.5 77.1L82.7 79.6L80.3 82.1L77.8 85.1L75.6 88.2L73.5 91.7L71.5 95.6L69.8 99.5L68.3 103.8L66.8 108.5L65.4 113.5L64.1 119L63 124.8L61.9 131L60.9 138L60 145.4L59.1 153.6L58.3 162.1L-0.8 162.1Z"/>
<path fill="#74ff8b" d="M-0.8 -0.8L169 -0.8L169 54.8L159.7 55.6L151.2 56.4L143.1 57.3L135.8 58.3L128.9 59.3L122.8 60.4L117.1 61.6L111.6 63L106.6 64.4L102.1 66L97.9 67.6L94 69.5L90.4 71.5L87.4 73.5L84.3 75.8L81.5 78.3L79 80.9L76.5 84L74.3 87.1L72.2 90.6L70.3 94.5L68.6 98.4L67 102.6L65.6 107.3L64.2 112.4L63 117.8L61.8 123.6L60.7 130.2L59.7 137.2L58.8 145L58 153.2L57.2 162.1L-0.8 162.1Z"/>
<path fill="#6cff93" d="M-0.8 -0.8L169 -0.8L169 53.8L159.7 54.5L150.8 55.3L142.7 56.2L135 57.1L128.1 58.2L122 59.2L115.9 60.5L110.7 61.7L105.8 63.1L101.3 64.6L97.3 66.2L93.2 68L89.6 70L86.3 72L83.1 74.5L80.3 77L77.6 79.7L75.1 82.8L73 85.9L70.9 89.4L69 93.3L67.4 97.2L65.8 101.5L64.4 106.1L63 111.2L61.7 117L60.6 122.9L59.6 129.5L58.6 136.9L57.7 144.6L56.8 153.2L56.1 162.1L-0.8 162.1Z"/>
<path fill="#64ff9b" d="M-0.8 -0.8L169 -0.8L169 52.7L152.8 54L139 55.4L126.9 57.1L121.6 58L116.3 59L111.5 60.1L107 61.3L103 62.5L99.2 63.7L95.7 65.1L92.4 66.6L89.2 68.3L86.3 70L82.7 72.5L79.4 75.3L76.6 78.2L73.8 81.7L71.2 85.5L68.9 89.7L66.9 94.1L65 99.1L63.2 104.8L61.7 110.8L60.3 117.4L59 124.8L57.8 133L56.8 141.9L55.8 151.6L55 162.1L-0.8 162.1Z"/>
<path fill="#5cffa3" d="M-0.8 -0.8L169 -0.8L169 51.7L152.4 52.9L138.2 54.3L126 56L120.4 56.9L115.1 57.9L110.2 59L105.8 60.1L101.7 61.3L97.7 62.7L94 64.1L90.8 65.6L87.6 67.2L84.7 69L81.1 71.5L77.8 74.3L74.9 77.4L72.2 80.9L69.7 84.6L67.6 88.6L65.5 93.3L63.6 98.4L62 103.8L60.4 110L59.1 116.6L57.8 124L56.7 132.2L55.7 141.1L54.7 151.2L53.9 162.1L-0.8 162.1Z"/>
<path fill="#54ffab" d="M-0.8 -0.8L169 -0.8L169 50.6L152 51.9L137.4 53.3L124.8 54.9L119.2 55.8L113.9 56.8L108.7 57.9L104.2 59.1L100.1 60.2L96.1 61.6L92.4 63L89.1 64.5L85.9 66.2L83 68L79.4 70.6L76.1 73.5L73.2 76.6L70.6 80.1L68.1 84L66.1 87.9L64.1 92.5L62.3 97.6L60.7 103L59.2 109.4L57.8 116.2L56.6 123.6L55.5 131.8L54.5 141.1L53.6 151.2L52.8 162.1L-0.8 162.1Z"/>
<path fill="#4cffb3" d="M-0.8 -0.8L169 -0.8L169 49.6L151.6 50.8L136.6 52.2L129.7 53L123.6 53.8L117.5 54.8L112.3 55.8L107.4 56.8L102.5 58L98.5 59.2L94.4 60.6L90.8 62L87.6 63.5L84.3 65.2L81.5 66.9L77.8 69.6L74.8 72.3L71.9 75.4L69.2 78.9L66.8 82.8L64.6 87.1L62.7 91.7L61 96.8L59.4 102.2L58 108.5L56.6 115.5L55.4 123.2L54.3 131.8L53.4 140.7L52.5 150.9L51.7 162.1L-0.8 162.1Z"/>
<path fill="#44ffbb" d="M-0.8 -0.8L169 -0.8L169 48.6L150.8 49.8L135.4 51.2L122.4 52.8L116.7 53.6L111.1 54.7L106.2 55.7L101.3 56.9L96.9 58.2L93 59.5L89.2 61L85.9 62.4L82.7 64.1L79.9 65.9L76.5 68.4L73.4 71.2L70.5 74.3L67.9 77.7L65.5 81.6L63.4 85.9L61.5 90.6L59.8 95.6L58.1 101.5L56.8 107.7L55.5 114.7L54.3 122.2L53.3 130.6L52.3 140.2L51.4 150.5L50.6 162.1L-0.8 162.1Z"/>
<path fill="#3cffc3" d="M-0.8 -0.8L169 -0.8L169 47.6L150.4 48.7L134.6 50.1L127.7 50.9L121.2 51.7L115.5 52.6L109.8 53.6L105 54.6L100.1 55.7L95.7 57L91.6 58.3L87.7 59.9L84.3 61.4L81.1 63.1L78.2 64.9L74.6 67.6L71.6 70.4L68.9 73.5L66.3 77L64 80.8L62 84.9L60.1 89.8L58.4 94.9L56.9 100.7L55.5 106.9L54.3 113.9L53.1 122L52.1 130.6L51.2 140L50.3 150.5L49.6 162.1L-0.8 162.1Z"/>
<path fill="#34ffcb" d="M-0.8 -0.8L169 -0.8L169 46.6L150 47.7L134.2 49L126.9 49.8L120.4 50.6L114.3 51.5L108.6 52.5L103.4 53.5L98.5 54.7L94 55.9L90 57.3L86.3 58.7L82.7 60.4L79.4 62.1L76.6 63.9L73.2 66.5L70.1 69.4L67.3 72.6L64.9 76L62.7 79.7L60.7 84L58.9 88.6L57.2 94L55.6 99.9L54.3 106.1L53.1 113.2L52 121.3L51 129.9L50.1 139.6L49.3 150.5L48.5 162.1L-0.8 162.1Z"/>
<path fill="#2cffd3" d="M-0.8 -0.8L169 -0.8L169 45.6L149.6 46.7L132.9 48L125.6 48.8L118.8 49.6L112.7 50.5L107 51.4L101.7 52.5L96.9 53.6L92.4 54.9L88.4 56.2L84.7 57.6L81.1 59.3L77.9 61L75 62.9L71.8 65.3L68.9 68L66.2 71.1L63.6 74.7L61.4 78.5L59.4 82.8L57.6 87.7L55.9 92.9L54.5 98.7L53.1 105.4L51.9 112.7L50.8 120.5L49.9 129.5L49 139.2L48.2 150.1L47.5 162.1L-0.8 162.1Z"/>
<path fill="#24ffdb" d="M-0.8 -0.8L169 -0.8L169 44.6L149.2 45.7L132.1 47L124.8 47.7L117.9 48.5L111.8 49.4L105.8 50.4L100.5 51.4L95.7 52.5L91.2 53.7L86.7 55.2L82.7 56.8L79.4 58.3L76.2 60.1L73.5 61.8L70.1 64.4L67.2 67.2L64.5 70.4L62.1 73.9L59.9 77.7L58 82L56.3 86.7L54.6 92.1L53.2 98L51.9 104.6L50.7 112L49.7 119.7L48.8 128.7L47.9 138.8L47.1 150.1L46.5 162.1L-0.8 162.1Z"/>
<path fill="#1cffe3" d="M-0.8 -0.8L169 -0.8L169 43.6L148.3 44.7L131.3 45.9L123.6 46.7L116.7 47.5L110.2 48.4L104.6 49.3L99.3 50.3L94.4 51.4L90 52.6L85.5 54L81.9 55.4L78.2 57L75 58.8L72.1 60.6L68.9 63.1L65.8 66.1L63.2 69.2L60.8 72.7L58.7 76.6L56.8 80.9L55.1 85.5L53.5 91L52.1 96.8L50.8 103.4L49.6 110.8L48.6 119L47.7 128.3L46.8 138.4L46.1 149.7L45.4 162.1L-0.8 162.1Z"/>
<path fill="#14ffeb" d="M-0.8 -0.8L169 -0.8L169 42.6L147.9 43.7L130.5 44.9L122.8 45.6L115.9 46.4L109.4 47.2L103.3 48.2L97.7 49.2L92.8 50.3L88.4 51.5L84.2 52.9L80.3 54.3L76.7 56L73.4 57.8L70.5 59.6L67.3 62.2L64.4 64.9L61.9 68L59.5 71.5L57.4 75.4L55.5 79.7L53.7 84.7L52.2 90.2L50.8 96.4L49.5 103L48.5 110.4L47.5 118.6L46.6 127.5L45.8 138L45 149.7L44.4 162.1L-0.8 162.1Z"/>
<path fill="#0cfff3" d="M-0.8 -0.8L169 -0.8L169 41.6L147.1 42.7L129.3 43.9L121.6 44.6L114.3 45.4L107.7 46.3L101.7 47.2L96.2 48.2L91.2 49.3L86.6 50.5L82.3 51.9L78.6 53.3L75 55L71.7 56.7L68.9 58.6L65.7 61.2L62.8 64L60.2 67.2L58 70.7L55.9 74.6L54.1 78.9L52.4 84L50.9 89.4L49.5 95.6L48.4 102.2L47.3 109.6L46.3 118.2L45.5 127.5L44.7 138L44 149.3L43.4 162.1L-0.8 162.1Z"/>
<path fill="#04fffb" d="M-0.8 -0.8L169 -0.8L169 40.7L147.1 41.7L128.5 42.9L120.8 43.6L113.5 44.3L106.6 45.2L100.5 46.1L94.8 47.1L89.9 48.2L85.4 49.4L81.1 50.7L77.4 52.1L73.8 53.7L70.5 55.5L67.7 57.3L64.5 59.9L61.7 62.6L59.2 65.7L56.9 69.2L54.8 73.1L53 77.4L51.3 82.4L49.8 87.9L48.5 94.1L47.3 100.7L46.2 108.5L45.3 117L44.4 126.7L43.7 137.2L43 148.9L42.4 162.1L-0.8 162.1Z"/>
<path fill="#00fbff" d="M-0.8 -0.8L169 -0.8L169 39.7L146.3 40.7L127.3 41.9L119.2 42.6L111.9 43.3L105 44.2L98.9 45.1L93.2 46.1L88.4 47.1L83.9 48.3L79.4 49.7L75.8 51L72.2 52.7L69 54.4L66.1 56.3L62.8 58.9L60 61.8L57.6 64.9L55.4 68.4L53.4 72.3L51.6 76.6L50 81.6L48.6 87.1L47.3 93.3L46.2 99.9L45.1 107.7L44.2 116.4L43.4 126L42.6 136.9L42 148.9L41.4 162.1L-0.8 162.1Z"/>
<path fill="#00f3ff" d="M-0.8 -0.8L169 -0.8L169 38.8L145.9 39.7L126.9 40.9L118.4 41.5L110.7 42.3L103.8 43.1L97.7 44L92 45L86.7 46.1L82.3 47.2L77.9 48.6L74.2 50L70.5 51.6L67.6 53.3L64.6 55.2L61.6 57.6L58.8 60.5L56.2 63.7L54.1 67.2L52.1 71.1L50.4 75.4L48.8 80.5L47.4 85.9L46.1 92.1L45 99.1L44 106.9L43.1 115.5L42.3 125.2L41.6 136.1L41 148.5L40.4 162.1L-0.8 162.1Z"/>
<path fill="#00ebff" d="M-0.8 -0.8L169 -0.8L169 37.8L145.1 38.8L125.6 39.9L117.5 40.5L109.8 41.2L103 42L96.5 42.9L90.7 43.9L85.5 45L80.7 46.2L76.7 47.4L73 48.8L69.3 50.4L66.1 52.2L63.2 54L61.6 55.3L60 56.7L57.3 59.5L54.9 62.6L52.8 66.1L50.9 70L49 74.6L47.5 79.7L46.2 84.9L45 91.1L43.9 98L42.9 105.7L42.1 114.7L41.3 124.4L40.6 135.7L40 148.1L39.4 162.1L-0.8 162.1Z"/>
<path fill="#00e3ff" d="M-0.8 -0.8L169 -0.8L169 36.9L144.7 37.8L124.8 38.9L115.9 39.6L108.2 40.3L101.3 41L94.8 41.9L89.2 42.9L83.9 43.9L79.3 45.1L75 46.4L71.2 47.8L67.7 49.4L64.5 51.1L61.6 53L58.6 55.6L56 58.3L53.6 61.4L51.5 64.9L49.6 68.8L47.8 73.4L46.3 78.5L45 84L43.8 90.5L42.7 97.6L41.8 105.4L41 114.3L40.2 124.4L39.6 135.3L39 148.1L38.4 162.1L-0.8 162.1Z"/>
<path fill="#00dbff" d="M-0.8 -0.8L169 -0.8L169 35.9L143.9 36.8L123.6 37.9L115.1 38.5L107 39.3L99.9 40L93.6 40.9L88 41.8L82.7 42.8L77.8 44L73.4 45.3L69.7 46.7L66.1 48.3L62.8 50.1L60 52L57.2 54.4L55.6 56L54.3 57.5L52 60.6L50 64.1L48.2 68L46.5 72.7L45 77.7L43.8 83.2L42.7 89.4L41.7 96.4L40.7 104.6L39.9 113.5L39.2 123.6L38.5 134.9L38 147.7L37.5 162.1L-0.8 162.1Z"/>
<path fill="#00d3ff" d="M-0.8 -0.8L169 -0.8L169 35L143.5 35.9L123 36.9L114.3 37.5L106.2 38.2L98.9 39L92.4 39.8L86.3 40.8L81.1 41.8L76.2 43L72.2 44.2L68.5 45.5L64.9 47.1L61.6 48.9L58.8 50.8L55.8 53.3L53.2 56L50.9 59.1L48.9 62.6L47 66.6L45.4 71.1L44 76.2L42.7 81.6L41.6 87.9L40.6 95.2L39.7 103.4L38.9 112.4L38.2 122.5L37.6 134.1L37 147.4L36.5 162.1L-0.8 162.1Z"/>
<path fill="#00cbff" d="M-0.8 -0.8L169 -0.8L169 34.1L142.7 34.9L121.6 36L112.7 36.6L104.6 37.2L97.3 38L90.8 38.8L84.7 39.7L79.4 40.8L74.6 41.9L70.5 43.1L66.5 44.6L63.2 46L60 47.8L57.2 49.8L54.3 52.2L52.9 53.6L51.6 55.2L49.4 58.3L47.4 61.8L45.7 65.7L44.2 70L42.8 75L41.5 80.9L40.4 87.1L39.5 94.5L38.6 102.6L37.8 112L37.1 122.5L36.5 134.1L35.5 162.1L-0.8 162.1Z"/>
<path fill="#00c3ff" d="M-0.8 -0.8L169 -0.8L169 33.2L142.7 34L121 35L111.9 35.6L103.8 36.2L96.4 36.9L89.6 37.7L83.5 38.7L78.3 39.6L73.4 40.8L69.2 42L65.3 43.4L61.6 45L58.6 46.6L55.8 48.6L53.1 50.9L50.5 53.6L48.2 56.8L46.2 60.5L44.4 64.5L43 68.8L41.6 73.9L40.4 79.7L39.3 86.3L38.3 93.7L37.5 101.9L36.8 111.2L36.1 121.7L35.6 133.4L34.6 162.1L-0.8 162.1Z"/>
<path fill="#00bbff" d="M-0.8 -0.8L169 -0.8L169 32.3L141.5 33.1L119.6 34L110.7 34.6L102.1 35.2L94.8 35.9L88 36.7L81.9 37.7L76.6 38.6L72.2 39.6L67.7 40.9L63.6 42.3L60.4 43.8L57.2 45.5L54.3 47.5L51.5 50L49 52.7L47 55.6L45 59.2L43.4 63L41.8 67.6L40.4 72.7L39.3 78.5L38.2 85.1L37.3 92.5L36.5 100.7L35.8 110.4L35.1 120.9L34.6 133L33.6 162.1L-0.8 162.1Z"/>
<path fill="#00b3ff" d="M-0.8 -0.8L169 -0.8L169 31.4L141 32.1L118.8 33.1L109.4 33.6L100.9 34.2L93.2 35L86.7 35.7L80.7 36.6L75.4 37.5L70.5 38.6L66.1 39.9L62.3 41.2L58.8 42.7L55.9 44.3L53 46.3L50.3 48.6L47.8 51.3L45.7 54.4L43.8 57.9L42.1 61.8L40.6 66.5L39.3 71.5L38.1 77.4L37.1 84L36.2 91.4L35.4 99.9L34.8 109.2L34.1 120.1L33.6 132.2L32.7 162.1L-0.8 162.1Z"/>
<path fill="#00abff" d="M-0.8 -0.8L169 -0.8L169 30.5L140.2 31.2L117.5 32.1L107.8 32.7L99.3 33.3L92 33.9L85.1 34.7L79 35.6L73.6 36.5L68.9 37.6L64.5 38.8L60.8 40.1L57.2 41.7L54.3 43.3L51.5 45.2L48.9 47.4L46.5 50.1L44.4 53.3L42.5 56.8L40.9 60.6L39.4 65.3L38.1 70.4L37 76.2L36 82.8L35.2 90.2L34.4 98.7L33.7 108.5L33.2 119.4L32.6 131.8L31.8 162.1L-0.8 162.1Z"/>
<path fill="#00a3ff" d="M-0.8 -0.8L169 -0.8L169 29.6L139.8 30.3L116.7 31.2L107 31.7L98.5 32.3L90.8 32.9L83.9 33.7L77.8 34.5L72.6 35.4L67.7 36.4L63.2 37.6L59.6 38.9L56 40.4L53.1 42L50.3 43.9L47.6 46.3L45.2 49L43.1 52.1L41.2 55.6L39.6 59.5L38.2 64.1L37 69.2L35.9 75L35 81.6L34.1 89.4L33.4 98L32.7 107.7L32.2 119L31.7 131.4L30.8 162.1L-0.8 162.1Z"/>
<path fill="#009bff" d="M-0.8 -0.8L169 -0.8L169 28.7L139 29.4L115.5 30.2L105.8 30.7L96.9 31.3L89.2 32L82.3 32.7L76.2 33.5L70.5 34.5L65.7 35.5L61.6 36.6L57.6 38L54.3 39.4L51.5 41L48.6 42.9L46.2 45.1L45 46.4L43.8 47.9L41.7 50.9L40 54.4L38.4 58.3L37 63L35.8 68L34.8 73.9L33.9 80.5L33.1 88.2L32.4 96.8L31.7 106.9L31.2 118.2L30.7 131L29.9 162.1L-0.8 162.1Z"/>
<path fill="#0093ff" d="M-0.8 -0.8L169 -0.8L169 27.8L138.2 28.5L114.3 29.3L104.6 29.8L95.7 30.3L87.6 31L80.7 31.7L74.6 32.5L69 33.4L64 34.5L60 35.6L56 36.9L52.7 38.4L49.7 40L47 41.9L44.5 44.3L42.2 47L40.2 50.1L38.5 53.6L37.1 57.5L35.7 62.2L34.6 67.2L33.6 73L32.8 79.7L32 87.5L31.3 96.4L30.7 106.1L30.2 117.4L29.7 130.6L29 162.1L-0.8 162.1Z"/>
<path fill="#008bff" d="M-0.8 -0.8L169 -0.8L169 27L137.8 27.6L113.5 28.4L103.4 28.8L94 29.4L86.3 30L79.2 30.7L73 31.5L67.7 32.3L62.8 33.3L58.4 34.5L54.7 35.8L51.1 37.3L48.3 38.9L45.8 40.6L43.4 42.8L41.1 45.5L39.1 48.6L37.4 52.1L36 56L34.7 60.6L33.6 65.7L32.6 71.5L31.7 78.1L31 85.9L30.3 94.9L29.8 105L29.2 116.6L28.8 129.9L28.1 162.1L-0.8 162.1Z"/>
<path fill="#0083ff" d="M-0.8 -0.8L169 -0.8L169 26.1L137 26.7L111.9 27.5L101.3 27.9L92.4 28.5L84.3 29.1L77.4 29.7L71.3 30.5L65.7 31.4L60.8 32.4L56.8 33.5L53.1 34.7L49.8 36.1L46.9 37.7L44.2 39.6L41.8 41.9L39.7 44.4L37.8 47.4L36.2 50.9L34.8 54.8L33.5 59.5L32.4 64.5L31.5 70.4L30.7 77L30 84.7L29.3 93.7L28.8 103.8L28.3 115.5L27.9 129.1L27.2 162.1L-0.8 162.1Z"/>
<path fill="#007cff" d="M-0.8 -0.8L169 -0.8L169 25.2L136.2 25.8L111.1 26.5L100.5 27L91.2 27.5L83.1 28.1L76.2 28.7L69.7 29.5L64.5 30.3L59.6 31.3L55.5 32.3L51.9 33.5L48.4 35L45.6 36.5L43 38.4L40.5 40.6L38.5 43.1L36.6 46.3L34.9 49.8L33.6 53.6L32.4 57.9L31.3 63.4L30.4 69.2L29.6 76.2L28.9 84L28.3 92.9L27.8 103L26.9 128.7L26.3 162.1L-0.8 162.1Z"/>
<path fill="#0074ff" d="M-0.8 -0.8L169 -0.8L169 24.4L135.4 24.9L109.4 25.6L90 26.5L81.9 27.1L74.6 27.7L68.5 28.4L62.8 29.3L58 30.2L53.9 31.3L50.3 32.5L47 33.8L44.2 35.4L41.5 37.3L40.1 38.5L39 39.6L38 40.8L36.9 42.3L35.3 45.1L33.7 48.6L32.4 52.5L31.2 56.9L30.2 62.2L29.3 68L28.6 75L27.9 82.8L27.3 91.7L26.8 102.2L26 127.9L25.4 162.1L-0.8 162.1Z"/>
<path fill="#006cff" d="M-0.8 -0.8L169 -0.8L169 23.5L134.6 24L108.6 24.7L88.4 25.6L80.3 26.1L73 26.8L66.5 27.5L61.2 28.3L56.6 29.1L52.3 30.2L48.6 31.4L45.4 32.8L42.6 34.3L40.1 36.1L38.9 37.2L37.7 38.4L35.8 40.8L34.1 43.8L32.6 47L31.3 50.9L30.1 55.6L29.1 60.6L28.3 66.5L27.6 73.3L26.9 81.2L26.4 90.6L25.9 101.1L25.1 127.1L24.5 162.1L-0.8 162.1Z"/>
<path fill="#0064ff" d="M-0.8 -0.8L169 -0.8L169 22.7L134.2 23.2L107.4 23.8L87.1 24.7L79 25.2L71.7 25.8L65.5 26.4L60 27.2L55.1 28.1L50.8 29.1L47 30.4L43.8 31.7L40.9 33.3L38.7 35L36.5 37.1L34.5 39.6L32.8 42.5L31.4 45.9L30.1 49.8L29 54L28 59.5L27.2 65.3L26.5 72.3L25.9 80.1L25.4 89.4L24.9 99.9L24.2 126.4L23.6 162.1L-0.8 162.1Z"/>
<path fill="#005cff" d="M-0.8 -0.8L169 -0.8L169 21.8L132.9 22.3L105.9 22.9L85.5 23.7L77 24.2L69.7 24.8L63.2 25.5L58 26.3L53.1 27.1L49 28.1L45.4 29.3L42.2 30.7L39.4 32.3L37.3 33.8L36.1 34.9L34.9 36.1L33.2 38.5L31.6 41.2L30.1 44.7L28.9 48.6L27.9 52.9L27 57.9L26.2 64.1L25.5 70.7L24.9 78.9L24.4 88.2L24 99.1L23.3 126L22.8 162.1L-0.8 162.1Z"/>
<path fill="#0054ff" d="M-0.8 -0.8L169 -0.8L169 21L132.5 21.4L105 22L84.3 22.8L75.8 23.3L68.5 23.8L62 24.5L56.8 25.2L51.9 26L47.8 27L44.2 28.1L40.9 29.5L38.5 30.8L36.1 32.5L33.9 34.6L32 37L30.4 39.9L29 43.1L27.8 47L26.8 51.3L25.9 56.4L25.2 62.6L24.5 69.6L23.9 77.7L23.5 87.1L23 98L22.4 125.2L21.9 162.1L-0.8 162.1Z"/>
<path fill="#004cff" d="M-0.8 -0.8L169 -0.8L169 20.2L131.7 20.6L103.8 21.1L82.7 21.9L74.2 22.3L66.9 22.9L60.4 23.5L55.1 24.2L50.3 25L46.2 25.9L42.6 27.1L39.4 28.4L36.9 29.8L34.6 31.5L32.6 33.4L30.8 35.8L29.2 38.6L27.8 42L26.6 45.9L25.7 50.1L24.8 55.6L24.1 61.4L23.5 68.4L22.9 76.6L22.5 85.9L22.1 96.8L21.5 124.4L21 162.1L-0.8 162.1Z"/>
<path fill="#0044ff" d="M-0.8 -0.8L169 -0.8L169 19.3L130.9 19.7L102.5 20.2L81.1 21L72.6 21.4L65.3 21.9L58.8 22.5L53.5 23.2L48.6 24L44.8 24.9L40.9 26L38.1 27.2L35.7 28.5L33.2 30.2L31.2 32.3L29.5 34.6L28 37.3L26.7 40.4L25.6 44.3L24.6 48.6L23.8 53.6L23.1 59.9L22.5 66.9L22 75L21.5 84.7L21.2 95.6L20.6 123.6L20.2 162.1L-0.8 162.1Z"/>
<path fill="#003cff" d="M-0.8 -0.8L169 -0.8L169 18.5L129.7 18.9L100.5 19.4L79 20.1L70.5 20.5L63.3 21L57.2 21.5L51.9 22.2L47 23L43 23.9L39.6 24.9L36.5 26.1L33.9 27.6L31.8 29.1L29.9 31.1L28.1 33.4L26.7 36.1L25.5 39.3L24.4 43.1L23.5 47.4L22.7 52.7L22 58.7L21.5 65.7L21 73.9L20.3 94.5L19.7 122.9L19.3 162.1L-0.8 162.1Z"/>
<path fill="#0034ff" d="M-0.8 -0.8L169 -0.8L169 17.7L128.9 18L99.3 18.5L77.4 19.2L68.9 19.6L61.6 20L55.2 20.6L49.9 21.2L45.4 21.9L41.3 22.8L38.1 23.8L35.3 24.9L32.5 26.4L30.4 28L28.5 29.9L26.8 32.3L25.4 35L24.3 38.1L23.2 42L22.4 46.3L21.7 51.3L21 57.1L20.5 64.1L20.1 72.3L19.3 93.3L18.8 122.1L18.4 162.1L-0.8 162.1Z"/>
<path fill="#002cff" d="M-0.8 -0.8L169 -0.8L169 16.9L128.5 17.2L98.5 17.6L76.2 18.2L67.7 18.6L60.4 19.1L53.9 19.6L48.6 20.2L44.2 20.9L40.1 21.7L36.9 22.6L34 23.7L31.2 25.2L29.2 26.7L27.5 28.4L25.8 30.7L24.3 33.4L23.2 36.5L22.2 40L21.4 44.3L20.7 49.4L20.1 55.6L19.5 62.6L19.1 71.1L18.4 92.1L17.9 121.7L17.6 162.1L-0.8 162.1Z"/>
<path fill="#0024ff" d="M-0.8 -0.8L169 -0.8L169 16.1L126.9 16.4L96.5 16.8L74.2 17.4L65.7 17.7L58.4 18.1L52 18.6L46.6 19.2L42.2 19.9L38.1 20.8L34.9 21.7L32 22.8L29.7 24.1L27.7 25.6L25.8 27.6L24.3 29.7L23.1 32.3L22 35.4L21.1 38.9L20.3 43.1L19.6 48.2L19.1 54L18.6 61L18.2 69.6L17.5 91L17.1 120.9L16.8 162.1L-0.8 162.1Z"/>
<path fill="#001cff" d="M-0.8 -0.8L169 -0.8L169 15.3L126.5 15.5L95.3 15.9L73 16.5L64 16.8L56.8 17.2L50.3 17.7L45 18.2L40.5 18.9L36.9 19.6L33.6 20.5L30.8 21.6L28.4 22.9L26.4 24.4L24.7 26.1L23.1 28.4L21.9 30.9L20.9 33.8L20 37.3L19.2 41.6L18.6 46.6L18 52.9L17.6 59.9L17.2 68.4L16.6 89.8L16.2 119.7L15.9 162.1L-0.8 162.1Z"/>
<path fill="#0014ff" d="M-0.8 -0.8L169 -0.8L169 14.5L124.8 14.7L93.6 15.1L71.3 15.6L55.1 16.3L48.6 16.7L43.4 17.3L39 17.9L35.3 18.6L32 19.5L29.2 20.6L27 21.8L25.1 23.1L23.5 24.7L22.1 26.8L20.9 29.1L19.8 32.3L18.9 35.8L18.2 40L17.6 45.1L17.1 50.9L16.7 57.9L16.3 66.5L15.8 87.9L15.4 118.6L15.1 162.1L-0.8 162.1Z"/>
<path fill="#000cff" d="M-0.8 -0.8L169 -0.8L169 13.7L124 13.9L92.4 14.2L69.7 14.7L53.5 15.3L47.4 15.7L42.2 16.2L37.7 16.8L34 17.5L30.8 18.3L28 19.3L25.9 20.4L23.9 21.8L22.3 23.4L21.5 24.5L20.8 25.6L19.7 28L18.7 30.7L17.9 34.2L17.2 38.1L16.6 43.1L16.1 49L15.7 56L15.4 64.1L14.9 86.3L14.5 117.4L14.2 162.1L-0.8 162.1Z"/>
<path fill="#0004ff" d="M-0.8 -0.8L169 -0.8L169 12.9L122.8 13.1L90.4 13.4L67.7 13.8L51.5 14.4L45.4 14.8L40.1 15.3L35.7 15.9L32 16.5L28.8 17.4L26.4 18.3L24.2 19.4L22.3 20.8L20.7 22.5L19.5 24.5L18.4 26.8L17.4 29.9L16.7 33.4L16.1 37.3L15.5 42.4L15.1 48.2L14.5 63.4L14 85.5L13.7 117L13.4 162.1L-0.8 162.1Z"/>
<path fill="#0000fb" d="M-0.8 -0.8L169 -0.8L169 12.1L121.6 12.3L88.8 12.6L65.7 13L49.5 13.5L43.4 13.9L38.1 14.4L34.1 14.9L30.4 15.5L27.6 16.2L25.1 17.1L22.8 18.3L21.1 19.5L19.7 21L18.4 22.9L17.3 25.3L16.5 28L15.7 31.5L15.1 35.4L14.6 40.2L14.2 45.9L13.8 52.9L13.6 61.4L13.1 83.6L12.8 115.9L12.6 162.1L-0.8 162.1Z"/>
<path fill="#0000f3" d="M-0.8 -0.8L169 -0.8L169 11.3L120.8 11.5L87.1 11.7L64 12.1L47.8 12.6L41.8 13L36.5 13.4L32.4 13.9L28.8 14.5L25.9 15.2L23.5 16L21.5 17L19.8 18.3L18.3 19.8L17.1 21.8L16.2 23.7L15.4 26.4L14.6 29.9L14.1 33.8L13.6 38.5L13.2 44.3L12.6 59.9L12.2 82L12 114.7L11.8 162.1L-0.8 162.1Z"/>
<path fill="#0000eb" d="M-0.8 -0.8L169 -0.8L169 10.5L119.6 10.7L85.5 10.9L62 11.2L45.8 11.7L39.7 12L34.8 12.4L30.8 12.9L27.2 13.4L24.3 14.1L21.9 15L20 15.9L18.4 17.1L17 18.6L15.8 20.6L15 22.5L14.2 25.3L13.6 28.4L13.1 32.3L12.6 36.9L12.3 42.8L11.7 57.9L11.4 80.5L11.1 113.5L11 162.1L-0.8 162.1Z"/>
<path fill="#0000e3" d="M-0.8 -0.8L169 -0.8L169 9.7L118.4 9.9L83.5 10.1L59.6 10.4L43.8 10.8L37.7 11.1L32.8 11.5L28.8 11.9L25.5 12.4L22.7 13.1L20.3 13.9L18.7 14.8L17.1 15.9L15.8 17.3L14.7 19L13.8 21.3L13.1 23.7L12.5 26.8L12.1 30.7L11.7 35.4L11.3 40.8L10.9 56L10.5 78.5L10.3 112.4L10.2 162.1L-0.8 162.1Z"/>
<path fill="#0000db" d="M-0.8 -0.8L169 -0.8L169 9L115.9 9.1L80.7 9.3L57.2 9.6L41.3 10L30.8 10.6L26.8 11L23.5 11.5L21.1 12L18.8 12.8L17 13.7L15.7 14.8L14.3 16.3L13.4 17.9L12.7 19.8L12.1 22.1L11.5 25.3L11 29.1L10.7 33.8L10.4 39.3L10 54.4L9.7 77L9.5 111.2L9.4 162.1L-0.8 162.1Z"/>
<path fill="#0000d3" d="M-0.8 -0.8L169 -0.8L169 8.2L78.6 8.5L55.1 8.7L39.3 9.1L28.8 9.6L25.1 10L21.9 10.5L19.5 11L17.4 11.7L15.8 12.5L14.3 13.6L13.3 14.8L12.4 16.3L11.6 18.3L11 20.8L10.5 23.7L10.1 27.2L9.7 31.9L9.5 37.3L9.1 52.5L8.8 75L8.6 162.1L-0.8 162.1Z"/>
<path fill="#0000cb" d="M-0.8 -0.8L169 -0.8L169 7.4L76.6 7.7L53.1 7.9L37.3 8.2L27.2 8.7L23.5 9L20.3 9.4L17.8 10L15.8 10.6L14.2 11.4L13 12.4L12 13.6L11.1 15.1L10.4 17.1L9.9 19.4L9.4 22.1L9.1 25.6L8.6 35.4L8.2 50.1L8 73.1L7.8 162.1L-0.8 162.1Z"/>
<path fill="#0000c3" d="M-0.8 -0.8L169 -0.8L169 6.7L74.2 6.9L50.3 7.1L34.9 7.3L25.1 7.8L21.5 8.1L18.7 8.4L16.2 8.9L14.6 9.4L13 10.2L11.8 11.1L10.9 12L10 13.6L9.3 15.5L8.9 17.5L8.5 20.2L8.1 23.7L7.7 33L7.4 47.8L7.2 70.7L7 162.1L-0.8 162.1Z"/>
<path fill="#0000bb" d="M-0.8 -0.8L169 -0.8L169 5.9L72.6 6.1L48.6 6.2L33.2 6.5L23.1 6.9L19.9 7.1L17 7.4L15 7.8L13 8.4L11.8 8.9L10.5 9.8L9.6 10.9L8.9 12L8.3 13.6L7.8 15.9L7.4 18.6L7.2 21.8L6.8 30.7L6.5 45.1L6.3 68L6.2 162.1L-0.8 162.1Z"/>
<path fill="#0000b3" d="M-0.8 -0.8L169 -0.8L169 5.2L69.7 5.3L45.8 5.4L30.8 5.6L21.5 5.9L15.4 6.4L13.4 6.8L11.8 7.2L10.4 7.8L9.2 8.5L8.5 9.3L7.7 10.7L7.3 12L6.8 14L6.5 16.3L6.3 19.4L5.9 28.4L5.7 42.4L5.5 65.7L5.4 162.1L-0.8 162.1Z"/>
<path fill="#0000ab" d="M-0.8 -0.8L169 -0.8L169 4.4L66.5 4.5L42.6 4.6L28 4.8L19.1 5L13.4 5.5L11.4 5.8L10 6.2L8.9 6.6L7.9 7.4L7.2 8.1L6.6 9.3L6.1 10.8L5.8 12.4L5.3 17.5L5 26L4.8 40L4.7 63L4.6 162.1L-0.8 162.1Z"/>
<path fill="#0000a3" d="M-0.8 -0.8L169 -0.8L169 3.7L63.2 3.8L25.1 4L16.6 4.2L11.4 4.5L9.7 4.8L8.5 5.1L7.3 5.6L6.5 6.2L5.9 7L5.3 8.1L5 9.3L4.7 10.9L4.4 15.5L4.1 23.7L3.9 59.9L3.8 162.1L-0.8 162.1Z"/>
<path fill="#00009b" d="M-0.8 -0.8L169 -0.8L169 2.9L59.6 3L22.3 3.1L14.2 3.3L9.7 3.6L8.1 3.8L6.9 4.1L6.1 4.4L5.3 4.9L4.8 5.4L4.4 6.2L4 7.4L3.8 8.9L3.5 13.2L3.3 20.6L3.1 56L3.1 162.1L-0.8 162.1Z"/>
<path fill="#000093" d="M-0.8 -0.8L169 -0.8L169 2.2L53.9 2.2L18.2 2.3L11 2.5L7.1 2.7L5.7 2.9L4.9 3.1L4.2 3.5L3.8 3.9L3.5 4.3L3.1 5L2.8 7.4L2.5 11.6L2.4 18.6L2.3 53.6L2.3 162.1L-0.8 162.1Z"/>
<path fill="#00008b" d="M-0.8 -0.8L169 -0.8L169 1.5L14.2 1.5L8.1 1.6L4.9 1.8L3.3 2.1L2.8 2.3L2.4 2.7L2 3.6L1.8 5.4L1.7 8.9L1.6 15.1L1.5 162.1L-0.8 162.1Z"/>
<path fill="#000083" d="M-0.8 -0.8L169 -0.7L169 0.7L9.7 0.8L2.8 0.9L1.6 1.1L1.2 1.3L1 1.9L0.9 3.1L0.8 10.5L0.8 162.1L-0.8 162.1Z"/>
</g>
<use href="#q4" transform="scale(-1 1)"/><use href="#q4" transform="scale(1 -1)"/><use href="#q4" transform="scale(-1 -1)"/>
</g></g>
<defs>
<linearGradient id="g5_0" x1="0" y1="1" x2="1" y2="0"><stop offset="0.0000" stop-color="#000080"/><stop offset="0.0104" stop-color="#0000aa"/><stop offset="0.0208" stop-color="#0000d4"/><stop offset="0.0312" stop-color="#0000fd"/><stop offset="0.0316" stop-color="#0000ff"/><stop offset="0.0417" stop-color="#0027ff"/><stop offset="0.0521" stop-color="#004eff"/><stop offset="0.0625" stop-color="#0074ff"/><stop offset="0.0729" stop-color="#0099ff"/><stop offset="0.0833" stop-color="#00beff"/><stop offset="0.0938" stop-color="#00e1ff"/><stop offset="0.1026" stop-color="#00ffff"/><stop offset="0.1042" stop-color="#05fffa"/><stop offset="0.1146" stop-color="#27ffd8"/><stop offset="0.1250" stop-color="#48ffb7"/><stop offset="0.1354" stop-color="#67ff98"/><stop offset="0.1458" stop-color="#86ff79"/><stop offset="0.1562" stop-color="#a4ff5b"/><stop offset="0.1667" stop-color="#c1ff3e"/><stop offset="0.1771" stop-color="#deff21"/><stop offset="0.1875" stop-color="#f9ff06"/><stop offset="0.1899" stop-color="#ffff00"/><stop offset="0.1979" stop-color="#ffeb00"/><stop offset="0.2083" stop-color="#ffd200"/><stop offset="0.2188" stop-color="#ffb900"/><stop offset="0.2292" stop-color="#ffa200"/><stop offset="0.2396" stop-color="#ff8b00"/><stop offset="0.2500" stop-color="#ff7500"/><stop offset="0.2604" stop-color="#ff6000"/><stop offset="0.2708" stop-color="#ff4d00"/><stop offset="0.2812" stop-color="#ff3a00"/><stop offset="0.2917" stop-color="#ff2800"/><stop offset="0.3021" stop-color="#ff1700"/><stop offset="0.3125" stop-color="#ff0600"/><stop offset="0.3168" stop-color="#ff0000"/><stop offset="0.3229" stop-color="#f60000"/><stop offset="0.3333" stop-color="#e80000"/><stop offset="0.3438" stop-color="#da0000"/><stop offset="0.3542" stop-color="#ce0000"/><stop offset="0.3646" stop-color="#c20000"/><stop offset="0.3750" stop-color="#b80000"/><stop offset="0.3854" stop-color="#ae0000"/><stop offset="0.3958" stop-color="#a50000"/><stop offset="0.4062" stop-color="#9d0000"/><stop offset="0.4167" stop-color="#960000"/><stop offset="0.4271" stop-color="#900000"/><stop offset="0.4375" stop-color="#8b0000"/><stop offset="0.4479" stop-color="#870000"/><stop offset="0.4583" stop-color="#840000"/><stop offset="0.4688" stop-color="#810000"/><stop offset="0.4792" stop-color="#800000"/><stop offset="0.4896" stop-color="#800000"/><stop offset="0.5000" stop-color="#800000"/><stop offset="0.5104" stop-color="#800000"/><stop offset="0.5208" stop-color="#800000"/><stop offset="0.5312" stop-color="#800000"/><stop offset="0.5417" stop-color="#800000"/><stop offset="0.5521" stop-color="#800000"/><stop offset="0.5625" stop-color="#800000"/><stop offset="0.5729" stop-color="#800000"/><stop offset="0.5833" stop-color="#800000"/><stop offset="0.5938" stop-color="#800000"/><stop offset="0.6042" stop-color="#800000"/><stop offset="0.6146" stop-color="#800000"/><stop offset="0.6250" stop-color="#800000"/><stop offset="0.6354" stop-color="#800000"/><stop offset="0.6458" stop-color="#800000"/><stop offset="0.6562" stop-color="#800000"/><stop offset="0.6667" stop-color="#800000"/><stop offset="0.6771" stop-color="#800000"/><stop offset="0.6875" stop-color="#800000"/><stop offset="0.6979" stop-color="#800000"/><stop offset="0.7083" stop-color="#800000"/><stop offset="0.7188" stop-color="#800000"/><stop offset="0.7292" stop-color="#800000"/><stop offset="0.7396" stop-color="#800000"/><stop offset="0.7500" stop-color="#800000"/><stop offset="0.7604" stop-color="#800000"/><stop offset="0.7708" stop-color="#800000"/><stop offset="0.7812" stop-color="#800000"/><stop offset="0.7917" stop-color="#800000"/><stop offset="0.8021" stop-color="#800000"/><stop offset="0.8125" stop-color="#800000"/><stop offset="0.8229" stop-color="#800000"/><stop offset="0.8333" stop-color="#800000"/><stop offset="0.8438" stop-color="#800000"/><stop offset="0.8542" stop-color="#800000"/><stop offset="0.8646" stop-color="#800000"/><stop offset="0.8750" stop-color="#800000"/><stop offset="0.8854" stop-color="#800000"/><stop offset="0.8958" stop-color="#800000"/><stop offset="0.9062" stop-color="#800000"/><stop offset="0.9167" stop-color="#800000"/><stop offset="0.9271" stop-color="#800000"/><stop offset="0.9375" stop-color="#800000"/><stop offset="0.9479" stop-color="#800000"/><stop offset="0.9583" stop-color="#800000"/><stop offset="0.9688" stop-color="#800000"/><stop offset="0.9792" stop-color="#800000"/><stop offset="0.9896" stop-color="#800000"/><stop offset="1.0000" stop-color="#800000"/></linearGradient>
<linearGradient id="g5_1" x1="1" y1="1" x2="0" y2="0" href="#g5_0"/>
<linearGradient id="g5_2" x1="0" y1="0" x2="1" y2="1" href="#g5_0"/>
<linearGradient id="g5_3" x1="1" y1="0" x2="0" y2="1" href="#g5_0"/>
</defs>
<g shape-rendering="crispEdges">
<rect x="775.95" y="500.70" width="166.35" height="158.95" fill="url(#g5_0)"/>
<rect x="609.60" y="500.70" width="166.35" height="158.95" fill="url(#g5_1)"/>
<rect x="775.95" y="659.65" width="166.35" height="158.95" fill="url(#g5_2)"/>
<rect x="609.60" y="659.65" width="166.35" height="158.95" fill="url(#g5_3)"/>
</g>
<clipPath id="c6"><rect x="1145.9" y="500.7" width="332.1" height="317.9"/></clipPath>
<g clip-path="url(#c6)" shape-rendering="crispEdges">
<rect x="1145.9" y="500.7" width="332.1" height="317.9" fill="#830000"/>
<g transform="translate(1312 659.6)">
<g id="q6">
<path fill="#8b0000" d="M-0.8 -0.8L169.4 -0.8L169.4 139.3L166.9 139.1L164.5 139.1L162.1 139.5L159.6 140.1L157.2 141L155.2 142L153.1 143.4L151.3 145L149.5 147L148.3 148.7L147.1 150.9L146.3 152.8L145.7 155.1L145.4 157.5L145.3 159.8L145.6 162.1L-0.8 162.1Z"/>
<path fill="#930000" d="M-0.8 -0.8L169.4 -0.8L169.4 131L166.1 130.9L162.9 131L159.6 131.5L156.4 132.4L153.1 133.7L150.3 135.2L147.4 137.2L145.2 139.2L143 141.6L141 144.2L139.5 147L138.3 149.7L137.4 152.8L136.9 155.9L136.7 159L136.9 162.1L-0.8 162.1Z"/>
<path fill="#9b0000" d="M-0.8 -0.8L169.4 -0.8L169.4 124.7L165.7 124.5L161.7 124.8L157.6 125.5L153.9 126.5L150.3 128L146.9 129.9L143.4 132.2L140.5 134.7L137.8 137.6L135.7 140.6L133.7 143.9L132.2 147.4L131.1 150.9L130.4 154.7L130.1 158.2L130.3 162.1L-0.8 162.1Z"/>
<path fill="#a30000" d="M-0.8 -0.8L169.4 -0.8L169.4 119.3L164.9 119.2L160.4 119.6L156 120.4L153.9 120.9L151.5 121.7L147.4 123.4L143.5 125.6L141.7 126.7L139.7 128.2L136.5 131L133.6 134.1L131 137.6L129.8 139.6L128.8 141.5L127 145.4L125.8 149.3L125.3 151.2L124.9 153.6L124.7 155.5L124.6 157.9L124.7 162.1L-0.8 162.1Z"/>
<path fill="#ab0000" d="M-0.8 -0.8L169.4 -0.8L169.4 114.6L166.9 114.5L164.5 114.5L162.1 114.7L159.6 115L157.2 115.3L154.8 115.9L152.3 116.5L149.9 117.3L147.6 118.2L145.4 119.2L143 120.4L140.9 121.6L138.9 122.9L136.9 124.4L135 126L133.2 127.5L131.6 129.2L130 131L128.4 133L127 134.9L125.8 136.9L124.5 139.2L123.5 141.3L122.5 143.5L121.7 145.8L121 148.1L120.5 150.5L120.1 152.8L119.8 155.1L119.7 157.5L119.6 159.8L119.8 162.1L-0.8 162.1Z"/>
<path fill="#b30000" d="M-0.8 -0.8L169.4 -0.8L169.4 110.4L166.5 110.3L163.7 110.3L161.2 110.5L158.4 110.8L156 111.2L153.1 111.9L150.3 112.7L147.8 113.5L145.4 114.5L143 115.6L140.5 116.9L138.3 118.2L136.1 119.6L134 121.1L131.9 122.9L130 124.7L127.9 126.7L126.3 128.6L124.7 130.6L123.3 132.6L121.9 134.9L120.6 137.1L119.4 139.6L118.4 141.9L117.6 144.2L116.8 147L116.2 149.5L115.7 152L115.4 154.7L115.2 157.1L115.2 159.4L115.3 162.1L-0.8 162.1Z"/>
<path fill="#bb0000" d="M-0.8 -0.8L169.4 -0.8L169.4 106.5L166.5 106.4L163.7 106.4L160.8 106.6L158 107L155.2 107.4L152.3 108.1L149.5 108.8L146.6 109.8L144 110.8L141.3 112L138.5 113.5L136.1 114.9L133.6 116.5L131.4 118.2L129.2 120L127.1 121.9L125.1 123.9L123.3 126L121.4 128.3L119.8 130.6L118.3 133L117 135.3L115.8 137.8L114.7 140.4L113.7 143.1L112.9 145.8L112.2 148.5L111.7 151.2L111.4 154L111.2 156.7L111.1 159.4L111.2 162.1L-0.8 162.1Z"/>
<path fill="#c30000" d="M-0.8 -0.8L169.4 -0.8L169.4 102.8L166.5 102.8L163.3 102.8L160 103L157.1 103.4L153.9 104L151.1 104.6L148.3 105.4L145 106.5L142.2 107.6L139.3 108.9L136.5 110.4L134 111.8L131.5 113.5L128.9 115.5L126.5 117.4L124.4 119.4L122.3 121.5L120.4 123.6L118.5 126L116.8 128.3L115.3 130.6L113.8 133.4L112.4 136.1L111.2 138.8L110.1 141.9L109.3 144.6L108.6 147.4L108 150.3L107.7 153.2L107.4 156.3L107.3 159L107.4 162.1L-0.8 162.1Z"/>
<path fill="#cb0000" d="M-0.8 -0.8L169.4 -0.8L169.4 99.4L166.1 99.3L162.9 99.4L159.6 99.7L156.4 100.1L153.1 100.6L149.9 101.4L146.9 102.2L143.8 103.3L140.5 104.6L137.7 105.9L134.8 107.4L132 109L129.3 110.8L126.7 112.7L124.3 114.7L121.9 117L119.5 119.4L117.4 121.7L115.6 124L113.7 126.6L112.1 129.2L110.5 132.1L109.1 134.9L107.9 137.6L106.8 140.5L105.9 143.5L105.1 146.6L104.5 149.7L104.1 152.8L103.9 155.9L103.8 159L103.9 162.1L-0.8 162.1Z"/>
<path fill="#d30000" d="M-0.8 -0.8L169.4 -0.8L169.4 96.2L166.1 96.1L162.5 96.2L159.2 96.5L155.6 96.9L152.3 97.5L149.1 98.3L145.8 99.2L142.5 100.3L139.3 101.6L136.1 103L133.2 104.5L130.4 106.2L127.5 108.1L124.7 110.2L122 112.4L119.5 114.7L117.2 117L114.9 119.5L112.9 122.1L111 124.8L109.2 127.5L107.6 130.3L106.1 133.4L104.8 136.5L103.6 139.6L102.7 142.7L101.9 145.8L101.3 148.9L100.8 152.4L100.5 155.5L100.4 159L100.5 162.1L-0.8 162.1Z"/>
<path fill="#db0000" d="M-0.8 -0.8L169.4 -0.8L169.4 93.1L165.7 93.1L162.1 93.2L158.4 93.5L155.2 93.9L151.9 94.5L148.3 95.3L144.6 96.3L141.3 97.4L138.1 98.7L134.7 100.3L131.6 101.9L128.4 103.8L125.5 105.7L122.7 107.8L119.9 110L117.4 112.4L114.9 114.8L112.6 117.4L110.4 120.1L108.5 122.9L106.5 126L104.8 128.9L103.2 132.1L101.8 135.3L100.6 138.4L99.6 141.9L98.7 145.3L98.1 148.5L97.6 151.6L97.3 155.1L97.2 158.6L97.3 162.1L-0.8 162.1Z"/>
<path fill="#e30000" d="M-0.8 -0.8L169.4 -0.8L169.4 90.2L165.3 90.1L161.7 90.3L158 90.6L154.3 91L150.7 91.7L147 92.6L143.4 93.6L140.1 94.8L136.5 96.2L133.2 97.7L130 99.4L126.7 101.3L123.6 103.4L120.6 105.6L117.8 107.9L115.1 110.4L112.4 113.1L110 115.9L107.6 118.8L105.6 121.7L103.6 124.8L102 127.8L100.3 131L99 134.1L97.8 137.2L96.7 140.7L95.8 144.2L95.1 147.7L94.6 151.2L94.3 154.7L94.2 158.2L94.2 162.1L-0.8 162.1Z"/>
<path fill="#eb0000" d="M-0.8 -0.8L169.4 -0.8L169.4 87.4L165.7 87.3L161.7 87.4L157.6 87.8L153.9 88.3L149.9 89L146.2 89.9L142.6 90.9L138.9 92.2L135.3 93.7L131.8 95.2L128.4 97.1L125.1 99L121.9 101.1L118.8 103.4L115.8 105.9L113 108.5L110.3 111.2L107.6 114.2L105.4 117L103.2 120.1L101.2 123.2L99.4 126.4L97.8 129.5L96.3 133.1L95 136.5L93.9 140L93 143.5L92.2 147.4L91.7 150.9L91.3 154.7L91.2 158.2L91.3 162.1L-0.8 162.1Z"/>
<path fill="#f30000" d="M-0.8 -0.8L169.4 -0.8L169.4 84.7L165.3 84.6L161.2 84.8L157.2 85.1L153.1 85.6L149.5 86.3L145.4 87.3L141.3 88.5L137.7 89.7L134 91.2L130.4 92.9L126.7 94.8L123.5 96.8L120.2 98.9L117 101.3L114 103.8L111 106.5L108.3 109.2L105.6 112.3L103.2 115.3L100.8 118.6L98.7 121.9L96.9 125.2L95.1 128.7L93.6 132.2L92.2 135.9L91.1 139.6L90.2 143.1L89.4 147L88.9 150.5L88.5 154.4L88.4 158.2L88.5 162.1L-0.8 162.1Z"/>
<path fill="#fb0000" d="M-0.8 -0.8L169.4 -0.8L169.4 82.1L164.9 82L160.8 82.2L156.8 82.5L152.7 83.1L148.7 83.8L144.6 84.8L140.7 85.9L136.9 87.2L132.8 88.9L129.2 90.6L125.5 92.5L122.2 94.5L118.6 96.8L115.4 99.2L112.2 101.9L109.2 104.6L106.4 107.3L103.6 110.5L101.1 113.6L98.7 116.9L96.6 120.1L94.6 123.6L92.9 127.1L91.1 131L89.8 134.7L88.6 138.4L87.6 142.3L86.8 146.2L86.2 150.1L85.8 154L85.7 157.9L85.7 162.1L-0.8 162.1Z"/>
<path fill="#ff0400" d="M-0.8 -0.8L169.4 -0.8L169.4 79.5L164.9 79.5L160.8 79.6L156.4 80L152.3 80.6L147.8 81.4L143.8 82.4L139.7 83.6L135.7 85L131.6 86.6L127.9 88.3L124.3 90.3L120.5 92.5L117 94.8L113.7 97.2L110.5 99.9L107.2 102.9L104.4 105.7L101.5 108.9L99.1 112L96.6 115.5L94.3 119L92.2 122.6L90.3 126.4L88.6 130.2L87.2 134.1L86 138L85 141.9L84.2 145.8L83.6 149.7L83.2 154L83 158.2L83.1 162.1L-0.8 162.1Z"/>
<path fill="#ff0c00" d="M-0.8 -0.8L169.4 -0.8L169.4 77.1L164.9 77L160.4 77.2L156 77.6L151.9 78.2L147.8 78.9L143.4 80L138.9 81.2L134.8 82.7L130.8 84.3L126.7 86.2L122.8 88.2L119 90.5L115.4 92.9L112.1 95.4L108.9 98L105.5 101.1L102.4 104.2L99.5 107.4L96.8 110.8L94.3 114.3L92.1 117.8L89.8 121.7L88.1 125.2L86.4 129.1L84.9 133L83.5 137.2L82.5 141.4L81.6 145.4L81.1 149.3L80.7 153.6L80.5 157.9L80.5 162.1L-0.8 162.1Z"/>
<path fill="#ff1400" d="M-0.8 -0.8L169.4 -0.8L169.4 74.7L164.9 74.7L160 74.9L155.6 75.3L151.1 75.9L146.6 76.7L142.2 77.8L137.7 79.1L133.6 80.6L129.6 82.2L125.5 84.1L121.4 86.3L117.5 88.6L113.7 91.1L110.3 93.7L106.8 96.6L103.6 99.5L100.5 102.6L97.5 106.1L94.6 109.6L92.2 113L89.9 116.6L87.7 120.5L85.7 124.4L84 128.3L82.5 132.4L81.2 136.5L80.1 140.7L79.2 145L78.6 149.3L78.2 153.6L78 157.9L78.1 162.1L-0.8 162.1Z"/>
<path fill="#ff1c00" d="M-0.8 -0.8L169.4 -0.8L169.4 72.4L164.5 72.4L160 72.5L155.2 73L150.7 73.6L146.2 74.4L141.8 75.5L137.3 76.8L132.8 78.4L128.7 80.1L124.3 82.1L120.2 84.3L116.2 86.7L112.5 89.1L108.9 91.8L105.2 94.9L102 97.8L98.7 101.1L95.9 104.3L93 107.8L90.3 111.6L87.8 115.5L85.6 119.4L83.6 123.2L81.7 127.5L80.1 131.8L78.8 136.1L77.7 140.4L76.8 144.6L76.2 148.9L75.8 153.2L75.6 157.5L75.6 162.1L-0.8 162.1Z"/>
<path fill="#ff2400" d="M-0.8 -0.8L169.4 -0.8L169.4 70.2L164.5 70.1L159.6 70.3L154.8 70.7L150.3 71.4L145.5 72.3L140.9 73.4L136.5 74.7L132 76.3L127.5 78.1L123.3 80.1L119 82.3L115 84.7L110.9 87.5L107.3 90.2L103.6 93.2L100.3 96.2L97 99.5L93.9 103L91 106.7L88.3 110.4L85.8 114.3L83.6 118.2L81.6 122.1L79.7 126.4L78.1 130.6L76.7 134.9L75.6 139.2L74.6 143.9L73.9 148.1L73.4 152.8L73.2 157.5L73.3 162.1L-0.8 162.1Z"/>
<path fill="#ff2c00" d="M-0.8 -0.8L169.4 -0.8L169.4 68L164.5 67.9L159.6 68.1L154.8 68.5L149.9 69.2L145 70.2L140.5 71.2L135.7 72.7L131.2 74.2L126.7 76L122.3 78.1L117.8 80.5L113.9 82.8L109.8 85.5L106 88.3L102.3 91.4L98.7 94.7L95.4 98L92.2 101.6L89.4 105.1L86.5 109L84.1 112.8L81.6 117L79.4 121.3L77.6 125.6L75.9 129.9L74.4 134.5L73.3 138.8L72.3 143.5L71.6 148.1L71.2 152.8L70.9 157.5L71 162.1L-0.8 162.1Z"/>
<path fill="#ff3400" d="M-0.8 -0.8L169.4 -0.8L169.4 65.8L164.5 65.8L159.2 66L154.3 66.4L149.5 67.1L144.6 68L139.7 69.2L134.8 70.7L130.2 72.3L125.5 74.2L121 76.3L116.9 78.5L112.5 81.1L108.5 83.8L104.4 86.8L100.7 89.8L97.1 93.2L93.5 96.8L90.4 100.3L87.3 104.1L84.5 108.1L82 112L79.5 116.2L77.4 120.5L75.5 124.8L73.8 129.1L72.3 133.7L71.1 138.4L70.1 143.1L69.4 147.7L68.9 152.4L68.7 157.5L68.8 162.1L-0.8 162.1Z"/>
<path fill="#ff3c00" d="M-0.8 -0.8L169.4 -0.8L169.4 63.7L164.1 63.7L159.2 63.9L153.9 64.4L149.1 65.1L143.8 66.1L139 67.2L134 68.7L129.4 70.4L124.7 72.3L120.2 74.4L115.8 76.7L111.3 79.4L107.2 82.1L103.1 85.1L99.1 88.4L95.5 91.7L92 95.2L88.6 99.1L85.5 103L82.7 106.9L80 111L77.6 115.3L75.3 119.7L73.4 124L71.7 128.7L70.2 133.4L68.9 138L68 142.7L67.2 147.4L66.7 152.4L66.5 157.1L66.6 162.1L-0.8 162.1Z"/>
<path fill="#ff4400" d="M-0.8 -0.8L169.4 -0.8L169.4 61.7L164.1 61.6L158.8 61.9L153.5 62.4L148.7 63L143.4 64.1L138.5 65.3L133.6 66.7L128.7 68.4L123.9 70.4L119 72.7L114.5 75L110.1 77.7L105.9 80.5L101.7 83.6L97.9 86.7L94.1 90.2L90.6 93.7L87.1 97.6L84 101.5L80.9 105.7L78.1 110L75.7 114.3L73.5 118.6L71.5 123.2L69.7 127.9L68.2 132.6L66.9 137.2L65.9 142.3L65.1 147L64.6 152L64.4 157.1L64.4 162.1L-0.8 162.1Z"/>
<path fill="#ff4c00" d="M-0.8 -0.8L169.4 -0.8L169.4 59.7L164.1 59.6L158.8 59.8L153.5 60.3L148.3 61.1L143 62.1L138.1 63.3L132.8 64.8L127.9 66.5L123.1 68.5L118.3 70.7L113.7 73.2L109.3 75.8L104.8 78.8L100.7 81.7L96.6 85.1L92.6 88.8L88.9 92.5L85.4 96.4L82.3 100.3L79.2 104.6L76.4 108.9L73.9 113.2L71.6 117.8L69.5 122.5L67.7 127.1L66.1 132.2L64.9 136.9L63.8 141.9L63 147L62.5 152L62.3 157.1L62.3 162.1L-0.8 162.1Z"/>
<path fill="#ff5400" d="M-0.8 -0.8L169.4 -0.8L169.4 57.7L163.7 57.7L158.4 57.9L153.1 58.4L147.8 59.1L142.6 60.2L137.3 61.5L132.2 63L127.1 64.7L122.3 66.7L117.4 69L112.6 71.5L108 74.2L103.6 77.2L99.1 80.5L95 83.8L91 87.5L87.3 91.2L83.8 95.2L80.6 99.1L77.5 103.4L74.7 107.7L72.1 112.4L69.7 117L67.6 121.7L65.8 126.5L64.2 131.4L62.9 136.5L61.8 141.5L61 146.6L60.5 151.6L60.2 157.1L60.3 162.1L-0.8 162.1Z"/>
<path fill="#ff5c00" d="M-0.8 -0.8L169.4 -0.8L169.4 55.8L163.7 55.7L158.4 56L152.7 56.5L147.4 57.3L142.2 58.3L136.9 59.6L131.6 61.1L126.3 63L121 65.1L116.2 67.4L111.4 70L106.8 72.7L102.4 75.6L97.9 78.9L93.8 82.3L89.8 86L86 89.8L82.5 93.7L79 98L75.9 102.2L72.9 106.9L70.3 111.5L67.9 116.2L65.8 120.9L63.8 126L62.2 131L60.9 136.1L59.8 141.1L59 146.2L58.5 151.6L58.2 156.7L58.2 162.1L-0.8 162.1Z"/>
<path fill="#ff6400" d="M-0.8 -0.8L169.4 -0.8L169.4 53.9L163.7 53.8L158 54.1L152.3 54.6L147 55.4L141.3 56.5L136.1 57.8L130.8 59.4L125.5 61.2L120.3 63.4L115.4 65.7L110.5 68.3L105.6 71.2L101.1 74.1L96.7 77.4L92.5 80.9L88.2 84.7L84.4 88.6L80.8 92.6L77.5 96.8L74.3 101.1L71.3 105.7L68.6 110.4L66.2 115.1L64 120.1L62 125.2L60.4 130.2L59 135.3L57.9 140.7L57.1 145.8L56.5 151.2L56.2 156.7L56.3 162.1L-0.8 162.1Z"/>
<path fill="#ff6c00" d="M-0.8 -0.8L169.4 -0.8L169.4 52L163.7 52L158 52.2L152.3 52.8L146.6 53.6L140.9 54.7L135.7 56L130 57.7L124.7 59.5L119.4 61.7L114.2 64.1L109.3 66.8L104.6 69.6L99.9 72.7L95.5 76L91 79.7L86.9 83.4L82.9 87.5L79.2 91.6L75.6 96L72.6 100.3L69.5 105L66.9 109.6L64.3 114.7L62.2 119.5L60.1 124.8L58.5 129.9L57.1 134.9L56 140.4L55.1 145.8L54.6 151.2L54.3 156.7L54.3 162.1L-0.8 162.1Z"/>
<path fill="#ff7400" d="M-0.8 -0.8L169.4 -0.8L169.4 50.2L163.3 50.2L157.6 50.4L151.9 51L146.2 51.8L140.5 52.9L134.8 54.3L129.3 56L123.9 57.9L118.6 60.1L113.3 62.5L108.5 65.1L103.6 68L98.9 71.1L94.2 74.6L89.8 78.3L85.6 82L81.6 86L77.9 90.2L74.3 94.6L71.1 99.1L68 103.8L65.3 108.5L62.7 113.5L60.5 118.6L58.5 123.7L56.7 129.1L55.3 134.5L54.1 140L53.2 145.4L52.7 150.9L52.4 156.3L52.4 162.1L-0.8 162.1Z"/>
<path fill="#ff7c00" d="M-0.8 -0.8L169.4 -0.8L169.4 48.4L163.3 48.4L157.6 48.6L151.5 49.2L145.8 50L140.1 51.1L134.4 52.5L128.8 54.2L123.1 56.3L117.8 58.4L112.5 60.9L107.2 63.7L102.4 66.6L97.5 69.9L93 73.2L88.5 76.9L84.2 80.9L80 85.1L76.4 89.2L72.7 93.7L69.4 98.4L66.2 103.2L63.4 108.1L60.9 113.1L58.6 118.2L56.7 123.2L54.9 128.7L53.4 134.1L52.3 139.6L51.4 145L50.8 150.9L50.5 156.3L50.5 162.1L-0.8 162.1Z"/>
<path fill="#ff8300" d="M-0.8 -0.8L169.4 -0.8L169.4 46.6L163.3 46.6L157.6 46.8L151.5 47.4L145.8 48.2L140 49.4L134 50.8L128.4 52.5L122.7 54.5L117.2 56.8L111.7 59.3L106.4 62.1L101.5 65L96.7 68.3L91.8 71.9L87.3 75.6L82.9 79.6L78.9 83.6L75.1 87.9L71.3 92.5L67.9 97.2L64.9 101.9L62 106.9L59.3 112.1L56.9 117.4L54.9 122.9L53.1 128.3L51.6 133.9L50.4 139.6L49.5 145L48.9 150.9L48.7 156.3L48.7 162.1L-0.8 162.1Z"/>
<path fill="#ff8b00" d="M-0.8 -0.8L169.4 -0.8L169.4 44.9L163.3 44.8L157.2 45.1L151.1 45.7L145 46.6L138.9 47.8L133.2 49.2L127.5 50.9L121.9 52.9L116.4 55.2L110.9 57.8L105.6 60.6L100.3 63.7L95.5 67L90.6 70.6L86.1 74.3L81.6 78.3L77.6 82.4L73.5 87L69.9 91.5L66.3 96.4L63 101.5L60.1 106.5L57.6 111.6L55.2 116.8L53.2 122.1L51.3 127.9L49.9 133.4L48.6 139.2L47.8 144.6L47.1 150.5L46.8 156.3L46.9 162.1L-0.8 162.1Z"/>
<path fill="#ff9300" d="M-0.8 -0.8L169.4 -0.8L169.4 43.1L163.3 43.1L157.2 43.4L151.1 44L145 44.9L138.9 46L132.8 47.5L127.1 49.2L121.3 51.3L115.6 53.6L110.1 56.2L104.8 59L99.5 62.2L94.2 65.7L89.5 69.2L84.9 73L80.4 77.1L76.3 81.2L72.3 85.7L68.6 90.2L65 95.2L61.7 100.3L58.7 105.4L56.1 110.6L53.6 116.1L51.5 121.7L49.7 127.1L48.1 133L46.9 138.8L45.9 144.6L45.3 150.5L45.1 156.3L45.1 162.1L-0.8 162.1Z"/>
<path fill="#ff9b00" d="M-0.8 -0.8L169.4 -0.8L169.4 41.4L162.9 41.4L156.8 41.7L150.7 42.3L144.6 43.2L138.5 44.4L132.4 45.9L126.3 47.7L120.6 49.7L114.9 52.1L109.3 54.7L104 57.5L98.7 60.7L93.5 64.1L88.5 67.8L83.7 71.8L79.2 75.8L75 80.1L70.8 84.7L67 89.4L63.4 94.5L60.1 99.5L57.2 104.6L54.4 110L52 115.5L49.9 120.9L48 126.7L46.4 132.6L45.1 138.4L44.2 144.2L43.6 150.1L43.3 155.9L43.3 162.1L-0.8 162.1Z"/>
<path fill="#ffa300" d="M-0.8 -0.8L169.4 -0.8L169.4 39.8L164.1 39.8L158.8 39.9L153.5 40.3L148.7 40.9L143.4 41.7L138.5 42.7L133.4 43.9L128.4 45.3L123.5 46.9L118.6 48.7L113.7 50.8L109.2 52.9L104.7 55.2L99.9 57.9L95.6 60.6L91.4 63.5L85.5 68L80 72.8L74.7 77.9L69.9 83.2L65.4 88.7L61.3 94.5L57.4 100.7L54 106.9L50.9 113.5L48.3 120.1L46.1 126.7L44.3 133.7L43 140.7L42.1 147.7L41.6 154.7L41.6 162.1L-0.8 162.1Z"/>
<path fill="#ffab00" d="M-0.8 -0.8L169.4 -0.8L169.4 38.1L164.1 38.1L158.8 38.3L153.5 38.7L148.3 39.3L143 40.1L137.7 41.2L132.4 42.5L127.3 43.9L122.3 45.6L117.4 47.4L112.5 49.5L107.6 51.8L103.2 54.1L98.7 56.8L94.2 59.5L89.8 62.6L84.1 67L78.5 71.9L73.3 77L68.3 82.4L63.8 88.1L59.5 94.1L55.7 100.3L52.3 106.5L49.2 113.1L46.6 119.7L44.4 126.7L42.6 133.7L41.2 140.7L40.3 147.7L39.9 154.7L39.8 162.1L-0.8 162.1Z"/>
<path fill="#ffb300" d="M-0.8 -0.8L169.4 -0.8L169.4 36.5L163.7 36.5L158.4 36.7L152.7 37.1L147.4 37.8L142.2 38.6L136.9 39.7L131.6 41L126.3 42.5L121 44.3L116.2 46.2L111.3 48.3L106.4 50.6L101.5 53.2L97.1 55.8L92.6 58.7L88.1 61.8L82.2 66.5L76.8 71.2L71.5 76.4L66.6 81.9L62.2 87.5L57.8 93.7L53.9 99.9L50.6 106.1L47.6 112.7L45 119.4L42.7 126.4L40.9 133.4L39.6 140.4L38.6 147.7L38.2 154.7L38.1 162.1L-0.8 162.1Z"/>
<path fill="#ffbb00" d="M-0.8 -0.8L169.4 -0.8L169.4 34.9L163.7 34.9L158 35.1L152.3 35.6L147 36.2L141.3 37.1L136.1 38.2L130.8 39.5L125.5 41.1L120.6 42.8L115.4 44.8L110.1 47L105.2 49.4L100.3 52L95.6 54.8L91 57.8L86.4 61L80.5 65.7L75.1 70.5L69.9 75.8L65 81.2L60.5 86.9L56.3 92.9L52.5 99.1L48.9 105.7L45.9 112.4L43.2 119.4L41 126.4L39.2 133.4L37.9 140.4L37 147.7L36.5 154.7L36.5 162.1L-0.8 162.1Z"/>
<path fill="#ffc300" d="M-0.8 -0.8L169.4 -0.8L169.4 33.3L163.7 33.3L158 33.5L152.3 34L146.6 34.7L140.9 35.6L135.3 36.8L129.6 38.2L124.3 39.8L119 41.6L113.7 43.7L108.5 46L103.6 48.4L98.7 51.1L93.8 54L89.1 57.1L84.5 60.5L78.5 65.3L73.1 70.2L67.8 75.6L63 81.1L58.5 86.9L54.4 92.9L50.6 99.1L47.1 105.7L44.1 112.4L41.5 119.4L39.3 126.4L37.5 133.4L36.2 140.4L35.3 147.7L34.8 154.7L34.8 162.1L-0.8 162.1Z"/>
<path fill="#ffcb00" d="M-0.8 -0.8L169.4 -0.8L169.4 31.8L163.3 31.8L157.6 32L151.9 32.5L146.2 33.2L140.5 34.1L134.8 35.3L129.2 36.7L123.5 38.4L117.8 40.4L112.5 42.5L107.2 44.9L102.1 47.4L97.1 50.2L92.2 53.2L87.4 56.4L82.9 59.7L77 64.5L71.5 69.5L66.2 75L61.4 80.5L56.9 86.4L52.7 92.5L49 98.7L45.5 105.4L42.5 112L39.9 119L37.7 126L35.9 133L34.6 140L33.7 147.4L33.2 154.7L33.2 162.1L-0.8 162.1Z"/>
<path fill="#ffd300" d="M-0.8 -0.8L169.4 -0.8L169.4 30.2L163.3 30.2L157.6 30.4L151.5 30.9L145.8 31.7L139.9 32.6L134 33.9L128.4 35.3L122.7 37.1L117 39.1L111.7 41.2L106.4 43.5L101 46.3L95.9 49.1L91 52.1L86.1 55.4L81.2 59L75.5 63.7L69.9 68.9L64.6 74.4L59.7 80.1L55.2 85.9L51.1 92.1L47.4 98.4L43.9 105L41 111.6L38.3 118.6L36.1 125.6L34.3 133L33 140L32.1 147.4L31.6 154.7L31.6 162.1L-0.8 162.1Z"/>
<path fill="#ffdb00" d="M-0.8 -0.8L169.4 -0.8L169.4 28.7L163.3 28.7L157.2 28.9L151.1 29.5L145.4 30.2L139.3 31.2L133.6 32.4L127.5 34L121.8 35.8L116.2 37.7L110.5 40L104.8 42.6L99.5 45.3L94.4 48.2L89.4 51.3L84.5 54.6L79.6 58.3L73.9 63L68.2 68.3L63 73.9L58.1 79.6L53.6 85.5L49.4 91.7L45.6 98.4L42.3 104.8L39.3 111.6L36.6 118.6L34.5 125.6L32.7 133L31.4 140L30.5 147.4L30 154.7L30 162.1L-0.8 162.1Z"/>
<path fill="#ffe300" d="M-0.8 -0.8L169.4 -0.8L169.4 27.2L163.3 27.2L157.2 27.4L151.1 27.9L145 28.7L138.9 29.7L132.8 31.1L126.7 32.6L121 34.4L115.1 36.5L109.3 38.9L103.6 41.5L98.3 44.2L93 47.2L87.8 50.5L82.9 53.9L78.1 57.5L72.3 62.4L66.8 67.6L61.6 73.1L56.7 78.9L52 85.1L47.9 91.4L44 98L40.6 104.6L37.7 111.2L35.1 118.2L33 125.2L31.2 132.6L29.8 140L28.9 147.4L28.4 154.7L28.4 162.1L-0.8 162.1Z"/>
<path fill="#ffeb00" d="M-0.8 -0.8L169.4 -0.8L169.4 25.7L163.3 25.7L156.8 26L150.7 26.5L144.6 27.3L138.5 28.3L132.4 29.6L126.3 31.2L120.2 33.1L114.1 35.3L108.5 37.6L102.8 40.2L97.1 43.1L91.8 46.2L86.5 49.5L81.6 52.9L76.7 56.8L70.7 61.8L65.4 66.9L60.1 72.4L55 78.5L50.4 84.7L46.3 91L42.5 97.6L39.1 104.2L36.1 111.2L33.5 118.2L31.4 125.2L29.6 132.6L28.2 140L27.3 147.4L26.9 154.7L26.9 162.1L-0.8 162.1Z"/>
<path fill="#fff300" d="M-0.8 -0.8L169.4 -0.8L169.4 24.2L162.9 24.2L156.4 24.5L149.9 25.1L143.8 25.9L137.7 27L131.3 28.4L125.1 30L119.2 31.9L113.3 34L107.2 36.5L101.5 39.2L96.2 42L90.6 45.2L85.3 48.6L80 52.3L75.1 56.1L69.3 61L63.8 66.4L58.6 71.9L53.6 77.9L49.1 84L44.7 90.6L40.9 97.2L37.6 103.8L34.6 110.8L32 117.8L29.9 124.8L28.1 132.2L26.7 139.6L25.8 147L25.4 154.4L25.3 162.1L-0.8 162.1Z"/>
<path fill="#fffb00" d="M-0.8 -0.8L169.4 -0.8L169.4 22.8L162.9 22.8L156.4 23.1L149.9 23.6L143.4 24.5L136.9 25.6L130.8 27L124.3 28.7L118.2 30.7L112.1 32.9L106.2 35.4L100.3 38.1L94.6 41.1L89 44.5L83.7 47.9L78.4 51.6L73.5 55.5L67.6 60.6L62.2 65.9L56.9 71.5L52 77.5L47.5 83.6L43.2 90.2L39.4 96.8L36.1 103.4L33.1 110.4L30.5 117.4L28.3 124.8L26.5 132.2L25.2 139.6L24.3 147L23.8 154.4L23.8 162.1L-0.8 162.1Z"/>
<path fill="#fbff04" d="M-0.8 -0.8L169.4 -0.8L169.4 21.3L162.5 21.3L156 21.6L149.5 22.2L143 23.1L136.5 24.2L130 25.7L123.5 27.5L117.4 29.4L111.3 31.7L105.2 34.2L99.1 37.1L93.4 40.1L87.7 43.5L82.3 47L77.2 50.7L72 54.8L66.2 59.9L60.7 65.3L55.3 71.1L50.5 77L46 83.2L41.8 89.6L38.2 96L34.6 103L31.6 110L29.1 117L26.8 124.4L25.1 131.8L23.7 139.2L22.8 147L22.3 154.4L22.3 162.1L-0.8 162.1Z"/>
<path fill="#f3ff0c" d="M-0.8 -0.8L169.4 -0.8L169.4 19.9L162.5 19.9L156 20.2L149.1 20.8L142.6 21.7L136.1 22.9L129.6 24.3L123.1 26.1L116.6 28.2L110.1 30.6L104 33.2L97.9 36.1L92.2 39.2L86.5 42.6L80.9 46.3L75.6 50.1L70.7 54L64.9 59.1L59.3 64.6L54 70.4L49.2 76.4L44.7 82.5L40.5 89L36.7 95.6L33.2 102.6L30.2 109.6L27.5 117L25.3 124.4L23.6 131.8L22.2 139.2L21.3 147L20.8 154.4L20.8 162.1L-0.8 162.1Z"/>
<path fill="#ebff14" d="M-0.8 -0.8L169.4 -0.8L169.4 18.5L162.5 18.5L155.6 18.8L148.9 19.4L142.2 20.3L135.3 21.6L128.8 23.1L122.3 24.9L115.8 27L109.3 29.4L103.2 32L97.1 34.9L91.2 38.1L85.3 41.6L79.6 45.4L74.2 49.4L69.1 53.5L63.2 58.7L57.7 64.2L52.5 70L47.5 76.1L43 82.4L38.8 89L35 95.6L31.6 102.6L28.6 109.6L26 117L23.8 124.4L22 131.8L20.7 139.2L19.8 147L19.4 154.4L19.3 162.1L-0.8 162.1Z"/>
<path fill="#e3ff1c" d="M-0.8 -0.8L169.4 -0.8L169.4 17.1L162.5 17.1L155.6 17.4L148.7 18L141.8 19L134.8 20.2L128.2 21.8L121.4 23.6L114.9 25.8L108.5 28.2L102 31L95.9 34L89.8 37.3L84 40.8L78.2 44.7L72.7 48.7L67.4 53L61.6 58.3L56.1 63.8L50.8 69.7L45.9 75.8L41.4 82.1L37.3 88.6L33.6 95.2L30.2 102.2L27.2 109.2L24.6 116.6L22.4 124L20.6 131.4L19.3 138.8L18.4 146.6L17.9 154.4L17.9 162.1L-0.8 162.1Z"/>
<path fill="#dbff24" d="M-0.8 -0.8L169.4 -0.8L169.4 15.7L162.1 15.7L155.2 16.1L148.3 16.7L141.3 17.6L134.4 18.9L127.5 20.5L120.6 22.4L114.1 24.6L107.6 27L101.1 29.8L94.6 33L88.5 36.4L82.6 40L76.8 43.9L71.1 48.2L65.9 52.5L60.1 57.7L54.6 63.4L49.4 69.2L44.4 75.4L39.8 82L35.8 88.4L32 95.2L28.6 102.2L25.7 109.2L23.1 116.6L20.9 124L19.2 131.4L17.9 138.8L16.9 146.6L16.5 154.4L16.4 162.1L-0.8 162.1Z"/>
<path fill="#d3ff2c" d="M-0.8 -0.8L169.4 -0.8L169.4 14.3L162.1 14.4L155.2 14.7L147.8 15.4L140.9 16.3L134 17.6L127.1 19.2L120.2 21.1L113.3 23.4L106.8 25.9L100.2 28.8L93.8 31.9L87.5 35.4L81.2 39.2L75.6 43.1L69.9 47.4L64.6 51.8L58.7 57.1L53.2 62.7L47.9 68.7L43.1 74.9L38.6 81.2L34.5 87.9L30.6 94.9L27.2 101.9L24.3 108.9L21.7 116.2L19.5 123.7L17.7 131.4L16.4 138.8L15.5 146.6L15 154.4L15 162.1L-0.8 162.1Z"/>
<path fill="#cbff34" d="M-0.8 -0.8L169.4 -0.8L169.4 13L162.1 13L154.8 13.3L147.4 14L140.5 15L133.5 16.3L126.3 18L119.4 19.9L112.5 22.2L105.7 24.9L99.1 27.8L92.6 31L86.1 34.6L80 38.4L74.2 42.4L68.6 46.6L63 51.3L57.1 56.8L51.6 62.4L46.4 68.4L41.5 74.6L37 81.2L32.9 87.7L29.2 94.5L25.8 101.5L22.9 108.5L20.3 115.9L18.2 123.2L16.3 131L15 138.8L14.1 146.6L13.6 154.4L13.6 162.1L-0.8 162.1Z"/>
<path fill="#c3ff3c" d="M-0.8 -0.8L169.4 -0.8L169.4 11.6L162.1 11.6L154.8 12L147.4 12.7L140.1 13.7L132.8 15.1L125.9 16.7L118.6 18.8L111.7 21.1L105 23.7L98.3 26.6L91.8 29.9L85.3 33.5L79.2 37.3L73.1 41.5L67.4 45.9L61.7 50.6L55.9 56L50.3 61.8L45.1 67.8L40.2 74.1L35.8 80.5L31.7 87.1L27.8 94.1L24.4 101.3L21.4 108.5L18.8 115.9L16.7 123.2L14.9 131L13.6 138.8L12.7 146.6L12.2 154.4L12.2 162.1L-0.8 162.1Z"/>
<path fill="#bbff44" d="M-0.8 -0.8L169.4 -0.8L169.4 10.3L161.7 10.3L154.3 10.7L146.6 11.4L139.3 12.5L132 13.9L124.7 15.6L117.4 17.8L110.5 20.1L103.6 22.8L96.7 25.9L90.2 29.2L83.7 32.9L77.6 36.7L71.5 41L65.7 45.5L60.1 50.2L54.4 55.6L48.7 61.5L43.5 67.6L38.7 73.9L34.1 80.5L30.1 87.1L26.3 94.1L23 101.1L20 108.5L17.4 115.9L15.3 123.2L13.5 131L12.2 138.8L11.3 146.6L10.8 154.4L10.8 162.1L-0.8 162.1Z"/>
<path fill="#b3ff4c" d="M-0.8 -0.8L169.4 -0.8L169.4 9L161.7 9L153.9 9.4L146.2 10.2L138.9 11.2L131.6 12.6L124.3 14.4L117 16.5L109.7 19L102.8 21.7L95.8 24.9L89 28.4L82.5 32.1L76.1 36.1L70 40.4L64.2 45L58.6 49.8L53.7 54.4L49.1 59.1L44.7 64.1L40.5 69.2L36.4 74.6L32.8 80.1L29.3 85.8L26.2 91.4L24 95.6L22.2 99.5L20.3 103.8L18.6 108.1L17.1 112.4L15.7 116.6L14.5 120.9L13.3 125.6L12.2 130.2L11.4 134.5L10.7 139.2L10.1 143.9L9.8 148.1L9.5 152.8L9.4 157.5L9.4 162.1L-0.8 162.1Z"/>
<path fill="#abff54" d="M-0.8 -0.8L169.4 -0.8L169.4 7.7L161.7 7.7L153.9 8.1L146.2 8.8L138.5 9.9L130.8 11.4L123.5 13.2L116.2 15.4L108.9 17.9L102 20.6L95 23.8L88.1 27.3L81.5 31.1L75.1 35.2L68.8 39.6L63 44.2L57.3 49.2L52.4 53.8L47.5 58.8L43.1 63.9L38.8 69.2L34.8 74.6L30.9 80.5L27.4 86.3L24.2 92.1L22.3 96L20.3 100.3L18.5 104.6L16.9 108.9L15.4 113.1L14 117.4L12.8 121.7L11.7 126.4L10.8 130.6L9.9 135.3L9.3 139.6L8.7 144.2L8.4 148.5L8.1 153.2L8 157.5L8 162.1L-0.8 162.1Z"/>
<path fill="#a3ff5c" d="M-0.8 -0.8L169.4 -0.8L169.4 6.4L161.7 6.4L153.9 6.8L146.2 7.5L138.5 8.6L130.8 10.1L123.1 12L115.8 14.1L108.3 16.7L101.1 19.6L93.8 22.9L87 26.4L80.4 30.2L73.9 34.4L67.7 38.9L61.7 43.5L55.9 48.6L50.8 53.5L45.9 58.6L41.4 63.8L37 69.4L32.9 75L29.1 80.9L25.6 86.7L22.3 92.9L20.3 97.1L18.5 101.1L16.8 105.4L15.2 109.6L13.7 113.9L12.4 118.2L11.2 122.5L10.2 126.7L9.3 131L8.5 135.3L7.9 139.6L7.4 144.2L7 148.9L6.7 153.2L6.6 157.9L6.7 162.1L-0.8 162.1Z"/>
<path fill="#9bff64" d="M-0.8 -0.8L169.4 -0.8L169.4 5.1L161.2 5.1L153.5 5.5L145.8 6.3L138.1 7.4L130.4 8.9L122.7 10.8L114.9 13L107.6 15.6L100.3 18.5L93 21.8L86.1 25.4L79.2 29.4L72.7 33.6L66.2 38.3L60.2 43.1L54.4 48.2L49.2 53.3L44.3 58.5L39.7 63.7L35.2 69.6L31 75.4L27 81.6L23.5 87.9L20.3 94.1L18.3 98.3L16.6 102.2L15 106.1L13.5 110.4L12.2 114.3L10.9 118.6L9.8 122.9L8.7 127.1L7.9 131.4L7.1 135.7L6.5 140L6 144.6L5.6 148.9L5.4 153.2L5.3 157.5L5.3 162.1L-0.8 162.1Z"/>
<path fill="#93ff6c" d="M-0.8 -0.8L169.4 -0.8L169.4 3.8L161.2 3.8L153.1 4.3L145 5.1L137.3 6.2L129.6 7.8L121.7 9.7L113.9 12L106.4 14.6L99.1 17.6L91.8 21L84.9 24.6L78 28.7L71.3 33L65 37.6L58.9 42.5L52.9 47.8L47.7 52.9L42.7 58.3L37.8 64.1L33.2 70L29.2 75.8L25.2 82.1L21.5 88.6L18.2 95.2L14.8 103L13.3 106.9L11.8 111.2L10.6 115.1L9.3 119.4L8.2 123.6L7.2 127.9L6.4 132.2L5.6 136.5L5.1 140.7L4.6 145L4.3 149.3L4 153.6L3.9 157.9L4 162.1L-0.8 162.1Z"/>
<path fill="#8bff74" d="M-0.8 -0.8L169.4 -0.8L169.4 2.5L161.2 2.6L153.1 3L145 3.8L136.9 5L128.8 6.6L121 8.6L113.3 10.9L105.6 13.6L98.3 16.6L91 20L83.7 23.8L76.8 27.9L70.2 32.3L63.8 36.9L57.5 42L51.6 47.3L46.3 52.5L40.9 58.3L36 64.1L31.3 70.4L27.1 76.6L23.2 83L19.5 89.7L16.2 96.4L13 104.2L11.4 108.4L10 112.4L7.6 120.5L5.7 128.7L4.3 136.9L3.7 141.1L3.2 145.4L2.7 153.6L2.6 157.9L2.6 162.1L-0.8 162.1Z"/>
<path fill="#83ff7c" d="M-0.8 -0.8L169.4 -0.8L169.4 1.3L160.8 1.3L152.7 1.8L144.6 2.6L136.5 3.8L128.4 5.4L120.6 7.4L112.9 9.7L105.1 12.4L97.5 15.6L90.2 19L82.9 22.8L76 26.9L69.1 31.5L62.7 36.1L56.5 41.2L50.4 46.7L44.7 52.3L39.4 58.1L34.4 64.1L29.8 70.4L25.6 76.6L21.5 83.2L17.8 90.2L14.5 97.2L11.7 103.8L9.3 110.4L7.1 117.4L5.3 124.4L4.3 129.1L3.4 133.7L2.7 138.4L2.1 143.1L1.7 147.7L1.4 152.4L1.3 157.1L1.3 162.1L-0.8 162.1Z"/>
<path fill="#7cff83" d="M-0.8 -0.8L149.4 -0.8L156.4 -0.3L163.3 0L156 0.3L147 1L138.9 2.1L131.2 3.5L123.5 5.3L115.8 7.5L108 10L100.7 12.8L93.6 15.9L86.5 19.4L79.5 23.3L72.7 27.5L66.3 31.9L60.1 36.5L54.1 41.6L48.3 46.8L43.1 52.2L37.8 58L32.8 64.1L28.2 70.4L24 76.7L19.9 83.5L16.3 90.2L13 97.3L10.2 104.2L7.5 111.6L5.3 119L3.5 126.4L2.1 133.7L1 141.5L0.3 149.3L0 157L-0.2 150.5L-0.8 143.4ZM168.8 0L169.4 0ZM0 161L0 162.1Z"/>
<path fill="#74ff8b" d="M-0.8 -0.8L139.4 -0.8L145.1 0L137.7 1.1L131.2 2.3L124.3 3.8L117.8 5.6L111.3 7.6L104.8 9.9L98.4 12.4L92.2 15.2L86.1 18.2L80 21.6L74.3 25L68.6 28.8L63 32.8L57.7 36.9L52.6 41.2L47.5 45.9L42.7 50.7L38.2 55.6L33.9 60.6L29.7 66.1L25.8 71.5L22.3 77L18.8 82.8L15.7 88.6L12.9 94.5L10.2 100.7L7.8 106.9L5.7 113.1L3.9 119.4L2.3 126L1 132.6L0 139L-0.8 133.7Z"/>
<path fill="#6cff93" d="M-0.8 -0.8L132.3 -0.8L136.6 0L129.6 1.4L123.7 2.7L117.8 4.3L111.5 6.2L105.6 8.3L99.5 10.6L93.6 13.2L87.9 15.9L82.1 19L76.8 22L71.5 25.3L66.2 28.9L61.1 32.6L56.1 36.5L51.2 40.8L46.7 44.9L42.2 49.4L37.9 54L33.9 58.7L30.1 63.5L26.4 68.5L22.8 73.9L19.5 79.1L16.5 84.4L13.7 89.8L11 95.5L8.6 101.1L6.4 106.9L4.5 112.7L2.8 118.6L1.2 124.8L0 130.8L-0.8 126.8Z"/>
<path fill="#64ff9b" d="M-0.8 -0.8L126.4 -0.8L130 0L123.4 1.5L117.8 3L112.1 4.7L106.4 6.7L100.7 8.8L95.5 11L89.9 13.6L84.5 16.3L79.2 19.2L74.2 22.1L69.1 25.4L64.2 28.8L59.5 32.3L54.8 36L50.4 39.8L45.9 44L41.6 48.2L37.6 52.5L33.7 57L30.1 61.4L26.6 66.1L23.2 71L20 75.8L17 80.9L14.2 86L11.5 91.4L9 96.8L6.9 102L4.9 107.5L3 113.1L1.4 119L0 124.5L-0.8 121.2Z"/>
<path fill="#5cffa3" d="M-0.8 -0.8L121.3 -0.8L124.4 0L118.2 1.6L112.9 3.2L107.6 4.9L102.4 6.9L97.1 9L91.8 11.3L86.5 13.9L81.6 16.4L76.8 19.2L71.9 22.1L67 25.3L62.2 28.7L57.7 32.1L53.2 35.8L49.2 39.3L45 43.1L41 47L37 51.3L33.3 55.5L29.7 59.9L26.4 64.2L23.1 68.8L20 73.5L17.2 78.1L14.5 82.8L11.8 87.9L9.4 92.9L7.2 98L5.2 103L3.2 108.5L1.5 113.9L0 119.2L-0.8 116.3Z"/>
<path fill="#54ffab" d="M-0.8 -0.8L116.7 -0.8L119.6 0L113.3 1.8L108.5 3.4L103.2 5.3L98.3 7.2L93.3 9.3L88.3 11.6L83.6 14L78.8 16.6L74 19.4L69.5 22.2L65 25.3L60.5 28.4L56.1 31.9L52 35.2L47.9 38.7L44 42.4L40.1 46.3L36.4 50.1L32.9 54.1L29.4 58.3L26.1 62.6L23 66.9L19.9 71.4L17.1 75.8L14.4 80.5L11.8 85.1L9.5 89.8L7.3 94.5L5.2 99.5L3.3 104.6L1.5 109.6L0 114.5L-0.8 111.9Z"/>
<path fill="#4cffb3" d="M-0.8 -0.8L112.6 -0.8L115.1 0L109.3 1.9L104.6 3.5L99.9 5.2L95 7.2L90.2 9.4L85.6 11.6L80.8 14.1L76.4 16.6L71.9 19.3L67.4 22.1L63 25.2L58.9 28.1L54.8 31.3L50.8 34.6L46.8 38.1L43.1 41.6L39.4 45.2L35.8 49L32.4 52.9L29.1 56.8L26 60.7L22.8 64.9L19.9 69.2L17.1 73.5L14.5 77.7L11.9 82.4L9.7 86.7L7.4 91.4L5.3 96L3.4 100.7L1.7 105.4L0 110.2L-0.8 107.8Z"/>
<path fill="#44ffbb" d="M-0.8 -0.8L108.7 -0.8L111.1 0L101.1 3.5L96.3 5.4L91.8 7.4L87.3 9.4L82.9 11.7L78.4 14.1L73.9 16.6L69.5 19.4L65.4 22L61.3 24.9L57.3 27.9L53.2 31L49.6 34.1L45.9 37.3L42.3 40.7L38.6 44.3L35.3 47.8L32.1 51.3L28.8 55.2L25.7 59.1L22.7 63L19.9 67L17.1 71.1L14.5 75.4L12 79.7L9.7 84L7.5 88.2L5.5 92.5L3.5 97.2L1.6 101.9L0 106.3L-0.8 104.1Z"/>
<path fill="#3cffc3" d="M-0.8 -0.8L105 -0.8L107.3 0L97.9 3.5L93.4 5.4L89 7.4L84.5 9.5L80.4 11.6L76.1 14L71.9 16.5L67.8 19L63.8 21.7L59.8 24.5L56.1 27.3L52.2 30.3L48.5 33.4L45 36.5L41.4 39.8L38.1 43.1L34.7 46.6L31.5 50.1L28.4 53.7L25.4 57.5L22.4 61.4L19.6 65.3L17.1 69L14.5 73.1L12.2 77L9.7 81.2L7.5 85.5L5.4 89.8L3.5 94.1L1.7 98.4L0 102.7L-0.8 100.6Z"/>
<path fill="#34ffcb" d="M-0.8 -0.8L101.6 -0.8L103.7 0L94.6 3.6L90.4 5.4L86.1 7.4L77.9 11.6L73.9 13.9L69.9 16.3L62.2 21.4L54.7 26.8L51.2 29.6L47.5 32.7L44 35.8L40.6 38.9L37.4 42.1L34.2 45.5L31 49L28 52.3L25.2 55.8L22.3 59.5L19.5 63.3L17.1 66.9L14.5 70.7L12.2 74.5L9.9 78.5L7.7 82.5L5.7 86.4L3.7 90.7L1.8 94.9L0 99.3L-0.8 97.3Z"/>
<path fill="#2cffd3" d="M-0.8 -0.8L98.3 -0.8L100.4 0L91.4 3.7L83.6 7.4L75.6 11.6L67.8 16.2L60.5 21.1L53.2 26.5L46.3 32.2L39.8 38.1L33.6 44.3L27.6 51L21.9 58L16.7 65.3L11.9 72.7L7.4 80.5L3.5 88.2L0 96.1L-0.8 94.2Z"/>
<path fill="#24ffdb" d="M-0.8 -0.8L95.2 -0.8L97.2 0L88.5 3.7L81 7.4L73.5 11.4L66.1 15.9L58.9 20.8L52 26L45.3 31.5L38.9 37.3L32.9 43.3L27.1 49.8L21.7 56.4L16.6 63.4L12 70.4L7.6 77.7L3.7 85.2L0 93L-0.8 91.2Z"/>
<path fill="#1cffe3" d="M-0.8 -0.8L92.2 -0.8L94.1 0L85.7 3.7L78.5 7.4L71.1 11.5L64.2 15.8L57.3 20.5L50.5 25.6L44.3 30.8L38 36.5L32.2 42.4L26.6 48.6L21.2 55.2L16.3 61.8L11.5 68.8L7.3 75.8L3.5 82.8L0 90.1L-0.8 88.4Z"/>
<path fill="#14ffeb" d="M-0.8 -0.8L89.4 -0.8L91.2 0L83.3 3.7L76.4 7.2L69.3 11.3L62.5 15.5L55.7 20.3L49.2 25.2L43.1 30.4L37.2 35.8L31.4 41.6L26.1 47.4L20.9 53.6L16.2 59.9L11.6 66.5L7.5 73.1L3.6 80.1L0 87.3L-0.8 85.6Z"/>
<path fill="#0cfff3" d="M-0.8 -0.8L86.6 -0.8L88.3 0L80.8 3.6L73.9 7.2L67.1 11.3L60.5 15.5L54 20.1L47.9 24.8L41.8 29.9L36.3 35L30.9 40.4L25.5 46.3L20.7 52.1L15.9 58.3L11.5 64.5L7.3 71.1L3.5 77.7L0 84.6L-0.8 83Z"/>
<path fill="#04fffb" d="M-0.8 -0.8L84 -0.8L85.6 0L78.4 3.6L71.9 7.1L65.4 11L58.9 15.2L52.8 19.5L46.7 24.3L41 29.1L35.5 34.2L30.1 39.6L25 45.1L20.1 50.9L15.6 56.8L11.4 62.7L7.3 68.9L3.5 75.4L0 82L-0.8 80.4Z"/>
<path fill="#00fbff" d="M-0.8 -0.8L81.4 -0.8L83 0L75.6 3.8L69.5 7.2L63.4 10.9L57.3 14.9L51.2 19.3L45.6 23.7L40.1 28.4L34.6 33.4L29.6 38.5L24.5 43.9L19.9 49.4L15.4 55L11.1 61L7.3 66.9L3.5 73.1L0 79.5L-0.8 78Z"/>
<path fill="#00f3ff" d="M-0.8 -0.8L78.9 -0.8L80.4 0L73.5 3.6L67.4 7.1L61.3 10.9L55.7 14.7L50 18.8L44.3 23.3L39 27.9L33.8 32.6L28.8 37.6L24.1 42.8L19.5 48.1L15.1 53.6L11 59.2L7.2 64.9L3.5 70.7L0 77L-0.8 75.6Z"/>
<path fill="#00ebff" d="M-0.8 -0.8L76.4 -0.8L77.9 0L71.1 3.7L65.4 7L59.7 10.6L54.2 14.4L48.4 18.6L43.1 22.9L38.1 27.2L33 31.9L28.3 36.5L23.6 41.6L19.1 46.8L14.8 52.1L10.8 57.5L6.9 63.2L3.4 68.8L0 74.6L-0.8 73.2Z"/>
<path fill="#00e3ff" d="M-0.8 -0.8L74.1 -0.8L75.5 0L69.1 3.6L63.8 6.7L58.1 10.3L52.8 14L47.5 17.9L42.2 22.1L37.2 26.4L32.2 31.1L27.6 35.6L23.1 40.4L18.7 45.5L14.6 50.5L10.6 55.9L6.9 61.2L3.3 66.8L0 72.3L-0.8 71Z"/>
<path fill="#00dbff" d="M-0.8 -0.8L71.7 -0.8L73.2 0L67 3.5L61.7 6.7L56.5 10.1L51.2 13.8L45.9 17.8L41 21.7L36.2 25.9L31.4 30.3L26.8 34.9L22.3 39.6L18.2 44.3L14.2 49.2L10.3 54.4L6.7 59.5L3.3 64.7L0 70.1L-0.8 68.7Z"/>
<path fill="#00d3ff" d="M-0.8 -0.8L69.5 -0.8L70.9 0L64.9 3.5L59.7 6.7L54.5 10.1L49.6 13.6L44.7 17.3L39.8 21.3L35.2 25.3L30.6 29.5L26.3 33.8L21.9 38.4L17.9 43L13.9 47.8L10.2 52.7L6.7 57.5L3.3 62.6L0 67.9L-0.8 66.6Z"/>
<path fill="#00cbff" d="M-0.8 -0.8L67.3 -0.8L68.7 0L62.7 3.5L58.1 6.4L53.2 9.7L48.3 13.2L43.5 16.9L38.9 20.6L34.5 24.5L29.8 28.8L25.6 33L21.5 37.2L17.7 41.6L13.8 46.3L10.1 50.9L6.5 55.9L3.3 60.6L0 65.7L-0.8 64.5Z"/>
<path fill="#00c3ff" d="M-0.8 -0.8L65.1 -0.8L66.5 0L60.7 3.5L56.1 6.4L51.3 9.7L46.7 13L42.3 16.5L37.7 20.2L33.3 24L29.1 28L25.1 31.9L21.1 36.1L17.2 40.4L13.4 44.9L9.9 49.4L6.5 54L3.2 58.7L0 63.6L-0.8 62.4Z"/>
<path fill="#00bbff" d="M-0.8 -0.8L63 -0.8L64.3 0L58.9 3.3L54.4 6.2L50 9.3L45.5 12.6L41 16.1L36.6 19.8L32.5 23.3L28.3 27.2L24.4 31.1L20.3 35.3L16.7 39.4L13.2 43.5L9.7 47.8L6.2 52.5L3 57.1L0 61.6L-0.8 60.4Z"/>
<path fill="#00b3ff" d="M-0.8 -0.8L60.9 -0.8L62.2 0L56.9 3.3L52.6 6.2L48.1 9.3L43.9 12.4L39.8 15.7L35.8 19L31.7 22.6L27.6 26.4L23.6 30.3L19.9 34.2L16.3 38.2L12.7 42.4L9.4 46.5L6.1 50.8L3 55.2L0 59.6L-0.8 58.4Z"/>
<path fill="#00abff" d="M-0.8 -0.8L58.9 -0.8L60.2 0L54.8 3.4L50.8 6.1L46.7 9L42.7 12.1L38.6 15.3L34.5 18.7L30.6 22.1L26.8 25.7L23.2 29.3L19.5 33L16 36.9L12.6 40.8L9.4 44.8L6.1 49L3 53.3L0 57.6L-0.8 56.4Z"/>
<path fill="#00a3ff" d="M-0.8 -0.8L56.9 -0.8L58.2 0L49.4 5.8L45.5 8.6L41.4 11.7L37.4 14.9L33.4 18.3L29.7 21.6L26 25L22.3 28.6L18.8 32.3L15.4 35.9L12.2 39.6L9 43.5L6 47.4L2.9 51.6L0 55.7L-0.8 54.5Z"/>
<path fill="#009bff" d="M-0.8 -0.8L55 -0.8L56.2 0L47.5 5.8L39.8 11.6L35.9 14.8L32.2 17.9L25.2 24.3L21.8 27.6L18.3 31.2L15 34.8L11.8 38.5L8.6 42.4L5.7 46L2.9 49.8L0 53.8L-0.8 52.7Z"/>
<path fill="#0093ff" d="M-0.8 -0.8L53 -0.8L54.2 0L45.9 5.7L38.6 11.2L31.3 17.3L24.4 23.6L17.7 30.3L11.4 37.3L5.7 44.3L0 51.9L-0.8 50.8Z"/>
<path fill="#008bff" d="M-0.8 -0.8L51.2 -0.8L52.3 0L44.3 5.6L37.3 10.9L30.4 16.7L23.6 22.9L17.1 29.4L11 36.1L5.3 43.1L0 50.1L-0.8 49Z"/>
<path fill="#0083ff" d="M-0.8 -0.8L49.3 -0.8L50.5 0L42.7 5.4L36.2 10.5L29.3 16.3L22.9 22.1L16.7 28.4L11 34.6L5.3 41.4L0 48.3L-0.8 47.2Z"/>
<path fill="#007cff" d="M-0.8 -0.8L47.5 -0.8L48.6 0L41.4 5.1L34.9 10.1L28.4 15.6L22.2 21.4L16.3 27.3L10.6 33.5L5 40L0 46.5L-0.8 45.5Z"/>
<path fill="#0074ff" d="M-0.8 -0.8L45.7 -0.8L46.8 0L39.8 5L33.4 10.1L27.4 15.1L21.5 20.6L15.9 26.2L10.3 32.3L5 38.5L0 44.8L-0.8 43.8Z"/>
<path fill="#006cff" d="M-0.8 -0.8L43.9 -0.8L45 0L38.2 5L32.2 9.7L26.4 14.7L20.7 19.9L15.3 25.3L9.9 31.1L4.9 36.9L0 43.1L-0.8 42.1Z"/>
<path fill="#0064ff" d="M-0.8 -0.8L42.1 -0.8L43.2 0L36.6 4.9L31.1 9.3L25.2 14.4L19.9 19.3L14.7 24.5L9.6 29.9L4.5 35.8L0 41.4L-0.8 40.4Z"/>
<path fill="#005cff" d="M-0.8 -0.8L40.4 -0.8L41.5 0L34.9 4.9L29.7 9.2L24.4 13.7L19.1 18.6L14 23.7L9.3 28.8L4.5 34.2L0 39.7L-0.8 38.7Z"/>
<path fill="#0054ff" d="M-0.8 -0.8L38.7 -0.8L39.8 0L33.7 4.6L28.4 8.9L23.5 13.2L18.4 17.9L13.7 22.5L8.9 27.6L4.5 32.7L0 38.1L-0.8 37.1Z"/>
<path fill="#004cff" d="M-0.8 -0.8L37 -0.8L38.1 0L32.1 4.6L27.3 8.5L22.4 12.8L17.8 17.1L13.1 21.8L8.5 26.5L4.2 31.5L0 36.5L-0.8 35.5Z"/>
<path fill="#0044ff" d="M-0.8 -0.8L35.4 -0.8L36.4 0L30.9 4.3L26.2 8.1L21.5 12.2L17.1 16.4L12.6 20.8L8.1 25.5L4.1 30L0 34.9L-0.8 33.9Z"/>
<path fill="#003cff" d="M-0.8 -0.8L33.7 -0.8L34.7 0L29.3 4.3L25.1 7.8L20.7 11.6L16.3 15.8L11.8 20.2L7.7 24.5L3.9 28.8L0 33.3L-0.8 32.3Z"/>
<path fill="#0034ff" d="M-0.8 -0.8L32.1 -0.8L33.1 0L28 4L24 7.4L19.7 11.3L15.5 15.1L11.4 19.2L7.4 23.3L3.7 27.5L0 31.7L-0.8 30.8Z"/>
<path fill="#002cff" d="M-0.8 -0.8L30.5 -0.8L31.5 0L22.8 7.2L18.7 10.8L14.9 14.4L11 18.2L7.2 22.1L3.6 26L0 30.2L-0.8 29.2Z"/>
<path fill="#0024ff" d="M-0.8 -0.8L28.9 -0.8L29.9 0L21.5 7L14.2 13.6L10.6 17.2L6.9 21L3.3 24.9L0 28.6L-0.8 27.7Z"/>
<path fill="#001cff" d="M-0.8 -0.8L27.4 -0.8L28.3 0L20.5 6.6L13.4 13L6.5 20L0 27.1L-0.8 26.2Z"/>
<path fill="#0014ff" d="M-0.8 -0.8L25.8 -0.8L26.8 0L19.4 6.2L12.7 12.4L6.1 19L0 25.7L-0.8 24.8Z"/>
<path fill="#000cff" d="M-0.8 -0.8L24.3 -0.8L25.2 0L18.3 5.9L12.1 11.6L5.8 17.9L0 24.2L-0.8 23.3Z"/>
<path fill="#0004ff" d="M-0.8 -0.8L22.8 -0.8L23.7 0L17.1 5.7L11.4 11L5.6 16.7L0 22.7L-0.8 21.8Z"/>
<path fill="#0000fb" d="M-0.8 -0.8L21.3 -0.8L22.2 0L16 5.4L10.6 10.4L5.3 15.7L0 21.3L-0.8 20.4Z"/>
<path fill="#0000f3" d="M-0.8 -0.8L19.8 -0.8L20.7 0L15 5L9.9 9.7L4.9 14.7L0 19.9L-0.8 19Z"/>
<path fill="#0000eb" d="M-0.8 -0.8L18.3 -0.8L19.3 0L13.5 5L9 9.3L4.5 13.7L0 18.4L-0.8 17.6Z"/>
<path fill="#0000e3" d="M-0.8 -0.8L16.9 -0.8L17.8 0L12.6 4.6L8.4 8.5L4.1 12.8L0 17L-0.8 16.2Z"/>
<path fill="#0000db" d="M-0.8 -0.8L15.5 -0.8L16.3 0L11.6 4.3L7.7 7.9L3.9 11.6L0 15.7L-0.8 14.8Z"/>
<path fill="#0000d3" d="M-0.8 -0.8L14 -0.8L14.9 0L6.9 7.3L0 14.3L-0.8 13.5Z"/>
<path fill="#0000cb" d="M-0.8 -0.8L12.6 -0.8L13.5 0L6.4 6.6L0 12.9L-0.8 12.1Z"/>
<path fill="#0000c3" d="M-0.8 -0.8L11.2 -0.8L12.1 0L5.7 5.9L0 11.6L-0.8 10.8Z"/>
<path fill="#0000bb" d="M-0.8 -0.8L9.8 -0.8L10.7 0L4.9 5.4L0 10.3L-0.8 9.5Z"/>
<path fill="#0000b3" d="M-0.8 -0.8L8.5 -0.8L9.3 0L4.1 4.9L0 8.9L-0.8 8.1Z"/>
<path fill="#0000ab" d="M-0.8 -0.8L7.1 -0.8L8 0L0 7.6L-0.8 6.8Z"/>
<path fill="#0000a3" d="M-0.8 -0.8L5.8 -0.8L6.6 0L0 6.3L-0.8 5.5Z"/>
<path fill="#00009b" d="M-0.8 -0.8L4.4 -0.8L5.2 0L0 5L-0.8 4.3Z"/>
<path fill="#000093" d="M-0.8 -0.8L3.1 -0.8L3.9 0L0 3.8L-0.8 3Z"/>
<path fill="#00008b" d="M-0.8 -0.8L1.8 -0.8L2.6 0L0 2.5L-0.8 1.7Z"/>
<path fill="#000083" d="M-0.5 -0.8L0.5 -0.8L1.3 0L0 1.2L-0.8 0.5L-0.8 -0.5Z"/>
</g>
<use href="#q6" transform="scale(-1 1)"/><use href="#q6" transform="scale(1 -1)"/><use href="#q6" transform="scale(-1 -1)"/>
</g></g>
<defs><linearGradient id="jet" x1="0" y1="1" x2="0" y2="0"><stop offset="0.000" stop-color="#000080"/><stop offset="0.125" stop-color="#0000ff"/><stop offset="0.375" stop-color="#00ffff"/><stop offset="0.625" stop-color="#ffff00"/><stop offset="0.875" stop-color="#ff0000"/><stop offset="1.000" stop-color="#800000"/></linearGradient></defs>
<rect x="423.0" y="44.2" width="25.9" height="319.2" fill="url(#jet)"/>
<rect x="423.5" y="44.7" width="24.9" height="318.2" fill="none" stroke="#262626" stroke-opacity="0.75" stroke-width="1"/>
<path d="M448.4 363.4h-3.2" stroke="#262626" stroke-opacity="0.6" stroke-width="1"/>
<text class="t c" text-anchor="start" x="454.80" y="368.30">0</text>
<path d="M448.4 330.8h-3.2" stroke="#262626" stroke-opacity="0.6" stroke-width="1"/>
<text class="t c" text-anchor="start" x="454.80" y="335.73">0.2</text>
<path d="M448.4 298.3h-3.2" stroke="#262626" stroke-opacity="0.6" stroke-width="1"/>
<text class="t c" text-anchor="start" x="454.80" y="303.16">0.4</text>
<path d="M448.4 265.7h-3.2" stroke="#262626" stroke-opacity="0.6" stroke-width="1"/>
<text class="t c" text-anchor="start" x="454.80" y="270.59">0.6</text>
<path d="M448.4 233.1h-3.2" stroke="#262626" stroke-opacity="0.6" stroke-width="1"/>
<text class="t c" text-anchor="start" x="454.80" y="238.01">0.8</text>
<path d="M448.4 200.5h-3.2" stroke="#262626" stroke-opacity="0.6" stroke-width="1"/>
<text class="t c" text-anchor="start" x="454.80" y="205.44">1</text>
<path d="M448.4 168.0h-3.2" stroke="#262626" stroke-opacity="0.6" stroke-width="1"/>
<text class="t c" text-anchor="start" x="454.80" y="172.87">1.2</text>
<path d="M448.4 135.4h-3.2" stroke="#262626" stroke-opacity="0.6" stroke-width="1"/>
<text class="t c" text-anchor="start" x="454.80" y="140.30">1.4</text>
<path d="M448.4 102.8h-3.2" stroke="#262626" stroke-opacity="0.6" stroke-width="1"/>
<text class="t c" text-anchor="start" x="454.80" y="107.73">1.6</text>
<path d="M448.4 70.3h-3.2" stroke="#262626" stroke-opacity="0.6" stroke-width="1"/>
<text class="t c" text-anchor="start" x="454.80" y="75.16">1.8</text>
<rect x="957.9" y="44.2" width="26.7" height="319.2" fill="url(#jet)"/>
<rect x="958.4" y="44.7" width="25.7" height="318.2" fill="none" stroke="#262626" stroke-opacity="0.75" stroke-width="1"/>
<path d="M984.1 363.4h-3.2" stroke="#262626" stroke-opacity="0.6" stroke-width="1"/>
<text class="t c" text-anchor="start" x="990.50" y="368.30">0</text>
<path d="M984.1 330.8h-3.2" stroke="#262626" stroke-opacity="0.6" stroke-width="1"/>
<text class="t c" text-anchor="start" x="990.50" y="335.73">0.2</text>
<path d="M984.1 298.3h-3.2" stroke="#262626" stroke-opacity="0.6" stroke-width="1"/>
<text class="t c" text-anchor="start" x="990.50" y="303.16">0.4</text>
<path d="M984.1 265.7h-3.2" stroke="#262626" stroke-opacity="0.6" stroke-width="1"/>
<text class="t c" text-anchor="start" x="990.50" y="270.59">0.6</text>
<path d="M984.1 233.1h-3.2" stroke="#262626" stroke-opacity="0.6" stroke-width="1"/>
<text class="t c" text-anchor="start" x="990.50" y="238.01">0.8</text>
<path d="M984.1 200.5h-3.2" stroke="#262626" stroke-opacity="0.6" stroke-width="1"/>
<text class="t c" text-anchor="start" x="990.50" y="205.44">1</text>
<path d="M984.1 168.0h-3.2" stroke="#262626" stroke-opacity="0.6" stroke-width="1"/>
<text class="t c" text-anchor="start" x="990.50" y="172.87">1.2</text>
<path d="M984.1 135.4h-3.2" stroke="#262626" stroke-opacity="0.6" stroke-width="1"/>
<text class="t c" text-anchor="start" x="990.50" y="140.30">1.4</text>
<path d="M984.1 102.8h-3.2" stroke="#262626" stroke-opacity="0.6" stroke-width="1"/>
<text class="t c" text-anchor="start" x="990.50" y="107.73">1.6</text>
<path d="M984.1 70.3h-3.2" stroke="#262626" stroke-opacity="0.6" stroke-width="1"/>
<text class="t c" text-anchor="start" x="990.50" y="75.16">1.8</text>
<rect x="1495.4" y="44.2" width="26.4" height="319.2" fill="url(#jet)"/>
<rect x="1495.9" y="44.7" width="25.4" height="318.2" fill="none" stroke="#262626" stroke-opacity="0.75" stroke-width="1"/>
<path d="M1521.3 363.4h-3.2" stroke="#262626" stroke-opacity="0.6" stroke-width="1"/>
<text class="t c" text-anchor="start" x="1527.70" y="368.30">0</text>
<path d="M1521.3 314.6h-3.2" stroke="#262626" stroke-opacity="0.6" stroke-width="1"/>
<text class="t c" text-anchor="start" x="1527.70" y="319.53">0.2</text>
<path d="M1521.3 265.9h-3.2" stroke="#262626" stroke-opacity="0.6" stroke-width="1"/>
<text class="t c" text-anchor="start" x="1527.70" y="270.76">0.4</text>
<path d="M1521.3 217.1h-3.2" stroke="#262626" stroke-opacity="0.6" stroke-width="1"/>
<text class="t c" text-anchor="start" x="1527.70" y="221.99">0.6</text>
<path d="M1521.3 168.3h-3.2" stroke="#262626" stroke-opacity="0.6" stroke-width="1"/>
<text class="t c" text-anchor="start" x="1527.70" y="173.22">0.8</text>
<path d="M1521.3 119.5h-3.2" stroke="#262626" stroke-opacity="0.6" stroke-width="1"/>
<text class="t c" text-anchor="start" x="1527.70" y="124.45">1</text>
<path d="M1521.3 70.8h-3.2" stroke="#262626" stroke-opacity="0.6" stroke-width="1"/>
<text class="t c" text-anchor="start" x="1527.70" y="75.68">1.2</text>
<rect x="423.0" y="500.0" width="25.9" height="318.6" fill="url(#jet)"/>
<rect x="423.5" y="500.5" width="24.9" height="317.6" fill="none" stroke="#262626" stroke-opacity="0.75" stroke-width="1"/>
<path d="M448.4 818.6h-3.2" stroke="#262626" stroke-opacity="0.6" stroke-width="1"/>
<text class="t c" text-anchor="start" x="454.80" y="823.50">0</text>
<path d="M448.4 762.9h-3.2" stroke="#262626" stroke-opacity="0.6" stroke-width="1"/>
<text class="t c" text-anchor="start" x="454.80" y="767.80">0.1</text>
<path d="M448.4 707.2h-3.2" stroke="#262626" stroke-opacity="0.6" stroke-width="1"/>
<text class="t c" text-anchor="start" x="454.80" y="712.10">0.2</text>
<path d="M448.4 651.5h-3.2" stroke="#262626" stroke-opacity="0.6" stroke-width="1"/>
<text class="t c" text-anchor="start" x="454.80" y="656.40">0.3</text>
<path d="M448.4 595.8h-3.2" stroke="#262626" stroke-opacity="0.6" stroke-width="1"/>
<text class="t c" text-anchor="start" x="454.80" y="600.70">0.4</text>
<path d="M448.4 540.1h-3.2" stroke="#262626" stroke-opacity="0.6" stroke-width="1"/>
<text class="t c" text-anchor="start" x="454.80" y="545.00">0.5</text>
<rect x="957.9" y="500.0" width="26.7" height="318.6" fill="url(#jet)"/>
<rect x="958.4" y="500.5" width="25.7" height="317.6" fill="none" stroke="#262626" stroke-opacity="0.75" stroke-width="1"/>
<path d="M984.1 818.6h-3.2" stroke="#262626" stroke-opacity="0.6" stroke-width="1"/>
<text class="t c" text-anchor="start" x="990.50" y="823.50">0</text>
<path d="M984.1 786.0h-3.2" stroke="#262626" stroke-opacity="0.6" stroke-width="1"/>
<text class="t c" text-anchor="start" x="990.50" y="790.92">0.05</text>
<path d="M984.1 753.4h-3.2" stroke="#262626" stroke-opacity="0.6" stroke-width="1"/>
<text class="t c" text-anchor="start" x="990.50" y="758.35">0.1</text>
<path d="M984.1 720.9h-3.2" stroke="#262626" stroke-opacity="0.6" stroke-width="1"/>
<text class="t c" text-anchor="start" x="990.50" y="725.77">0.15</text>
<path d="M984.1 688.3h-3.2" stroke="#262626" stroke-opacity="0.6" stroke-width="1"/>
<text class="t c" text-anchor="start" x="990.50" y="693.19">0.2</text>
<path d="M984.1 655.7h-3.2" stroke="#262626" stroke-opacity="0.6" stroke-width="1"/>
<text class="t c" text-anchor="start" x="990.50" y="660.62">0.25</text>
<path d="M984.1 623.1h-3.2" stroke="#262626" stroke-opacity="0.6" stroke-width="1"/>
<text class="t c" text-anchor="start" x="990.50" y="628.04">0.3</text>
<path d="M984.1 590.6h-3.2" stroke="#262626" stroke-opacity="0.6" stroke-width="1"/>
<text class="t c" text-anchor="start" x="990.50" y="595.46">0.35</text>
<path d="M984.1 558.0h-3.2" stroke="#262626" stroke-opacity="0.6" stroke-width="1"/>
<text class="t c" text-anchor="start" x="990.50" y="562.89">0.4</text>
<path d="M984.1 525.4h-3.2" stroke="#262626" stroke-opacity="0.6" stroke-width="1"/>
<text class="t c" text-anchor="start" x="990.50" y="530.31">0.45</text>
<rect x="1495.4" y="500.0" width="26.4" height="318.6" fill="url(#jet)"/>
<rect x="1495.9" y="500.5" width="25.4" height="317.6" fill="none" stroke="#262626" stroke-opacity="0.75" stroke-width="1"/>
<path d="M1521.3 818.6h-3.2" stroke="#262626" stroke-opacity="0.6" stroke-width="1"/>
<text class="t c" text-anchor="start" x="1527.70" y="823.50">0</text>
<path d="M1521.3 786.1h-3.2" stroke="#262626" stroke-opacity="0.6" stroke-width="1"/>
<text class="t c" text-anchor="start" x="1527.70" y="791.02">0.1</text>
<path d="M1521.3 753.6h-3.2" stroke="#262626" stroke-opacity="0.6" stroke-width="1"/>
<text class="t c" text-anchor="start" x="1527.70" y="758.55">0.2</text>
<path d="M1521.3 721.2h-3.2" stroke="#262626" stroke-opacity="0.6" stroke-width="1"/>
<text class="t c" text-anchor="start" x="1527.70" y="726.07">0.3</text>
<path d="M1521.3 688.7h-3.2" stroke="#262626" stroke-opacity="0.6" stroke-width="1"/>
<text class="t c" text-anchor="start" x="1527.70" y="693.59">0.4</text>
<path d="M1521.3 656.2h-3.2" stroke="#262626" stroke-opacity="0.6" stroke-width="1"/>
<text class="t c" text-anchor="start" x="1527.70" y="661.11">0.5</text>
<path d="M1521.3 623.7h-3.2" stroke="#262626" stroke-opacity="0.6" stroke-width="1"/>
<text class="t c" text-anchor="start" x="1527.70" y="628.64">0.6</text>
<path d="M1521.3 591.3h-3.2" stroke="#262626" stroke-opacity="0.6" stroke-width="1"/>
<text class="t c" text-anchor="start" x="1527.70" y="596.16">0.7</text>
<path d="M1521.3 558.8h-3.2" stroke="#262626" stroke-opacity="0.6" stroke-width="1"/>
<text class="t c" text-anchor="start" x="1527.70" y="563.68">0.8</text>
<path d="M1521.3 526.3h-3.2" stroke="#262626" stroke-opacity="0.6" stroke-width="1"/>
<text class="t c" text-anchor="start" x="1527.70" y="531.21">0.9</text>
<rect x="74.6" y="47.1" width="330.4" height="315.8" fill="none" stroke="#200808" stroke-opacity="0.75" stroke-width="1"/>
<text class="t" text-anchor="middle" x="73.30" y="385.40"><tspan textLength="7.4" lengthAdjust="spacingAndGlyphs">-</tspan>1</text>
<text class="t" text-anchor="end" x="67.60" y="370.00"><tspan textLength="7.4" lengthAdjust="spacingAndGlyphs">-</tspan>1</text>
<text class="t" text-anchor="middle" x="156.15" y="385.40"><tspan textLength="7.4" lengthAdjust="spacingAndGlyphs">-</tspan>0.5</text>
<text class="t" text-anchor="end" x="67.60" y="290.80"><tspan textLength="7.4" lengthAdjust="spacingAndGlyphs">-</tspan>0.5</text>
<text class="t" text-anchor="middle" x="239.00" y="385.40">0</text>
<text class="t" text-anchor="end" x="67.60" y="211.60">0</text>
<text class="t" text-anchor="middle" x="321.85" y="385.40">0.5</text>
<text class="t" text-anchor="end" x="67.60" y="132.40">0.5</text>
<text class="t" text-anchor="middle" x="404.70" y="385.40">1</text>
<text class="t" text-anchor="end" x="67.60" y="53.20">1</text>
<path d="M156.9 363.4v-3.3M156.9 46.6v3.3M74.1 284.2h3.3M405.5 284.2h-3.3M239.8 363.4v-3.3M239.8 46.6v3.3M74.1 205.0h3.3M405.5 205.0h-3.3M322.6 363.4v-3.3M322.6 46.6v3.3M74.1 125.8h3.3M405.5 125.8h-3.3" stroke="#262626" stroke-opacity="0.55" stroke-width="1" fill="none"/>
<g transform="translate(239.8 412.0)"><text font-family="'Liberation Serif', serif" font-size="29.72" fill="#333" transform="translate(-45.19 0.80) scale(1.0000 1)">|</text><text font-family="'Liberation Serif', serif" font-size="28.53" fill="#333" transform="translate(-36.40 0.36) scale(0.6730 1)">(</text><text font-family="'Liberation Serif', serif" font-size="26.82" font-style="italic" fill="#333" transform="translate(-26.71 0.00) scale(1.1083 1)">X</text><text font-family="'Liberation Serif', serif" font-size="15.79" font-style="italic" fill="#333" transform="translate(-5.31 3.50) scale(1.1880 1)">x</text><text font-family="'Liberation Serif', serif" font-size="28.53" fill="#333" transform="translate(5.97 0.36) scale(0.8181 1)">)</text><text font-family="'Liberation Serif', serif" font-size="17.86" font-style="italic" fill="#333" transform="translate(17.24 3.90) scale(1.0452 1)">j</text><text font-family="'Liberation Serif', serif" font-size="21.03" font-style="italic" fill="#333" transform="translate(23.62 3.90) scale(0.7304 1)">,</text><text font-family="'Liberation Serif', serif" font-size="18.2" font-style="italic" fill="#333" transform="translate(28.96 3.90) scale(0.8367 1)">k</text><text font-family="'Liberation Serif', serif" font-size="29.72" fill="#333" transform="translate(40.31 0.80) scale(1.0000 1)">|</text></g>
<g transform="translate(23.6 203.7) rotate(-90)"><text font-family="'Liberation Serif', serif" font-size="29.72" fill="#333" transform="translate(-45.19 0.80) scale(1.0000 1)">|</text><text font-family="'Liberation Serif', serif" font-size="28.53" fill="#333" transform="translate(-36.40 0.36) scale(0.6730 1)">(</text><text font-family="'Liberation Serif', serif" font-size="26.82" font-style="italic" fill="#333" transform="translate(-26.71 0.00) scale(1.1083 1)">X</text><text font-family="'Liberation Serif', serif" font-size="15.79" font-style="italic" fill="#333" transform="translate(-5.65 3.50) scale(0.9149 1)">y</text><text font-family="'Liberation Serif', serif" font-size="28.53" fill="#333" transform="translate(4.67 0.36) scale(0.8181 1)">)</text><text font-family="'Liberation Serif', serif" font-size="17.86" font-style="italic" fill="#333" transform="translate(15.94 3.90) scale(1.0452 1)">j</text><text font-family="'Liberation Serif', serif" font-size="21.03" font-style="italic" fill="#333" transform="translate(22.32 3.90) scale(0.7304 1)">,</text><text font-family="'Liberation Serif', serif" font-size="18.2" font-style="italic" fill="#333" transform="translate(27.66 3.90) scale(0.8367 1)">k</text><text font-family="'Liberation Serif', serif" font-size="29.72" fill="#333" transform="translate(38.21 0.80) scale(1.0000 1)">|</text></g>
<rect x="610.1" y="47.1" width="331.7" height="315.8" fill="none" stroke="#200808" stroke-opacity="0.75" stroke-width="1"/>
<text class="t" text-anchor="middle" x="608.80" y="385.40"><tspan textLength="7.4" lengthAdjust="spacingAndGlyphs">-</tspan>1</text>
<text class="t" text-anchor="end" x="603.10" y="370.00"><tspan textLength="7.4" lengthAdjust="spacingAndGlyphs">-</tspan>1</text>
<text class="t" text-anchor="middle" x="691.98" y="385.40"><tspan textLength="7.4" lengthAdjust="spacingAndGlyphs">-</tspan>0.5</text>
<text class="t" text-anchor="end" x="603.10" y="290.80"><tspan textLength="7.4" lengthAdjust="spacingAndGlyphs">-</tspan>0.5</text>
<text class="t" text-anchor="middle" x="775.15" y="385.40">0</text>
<text class="t" text-anchor="end" x="603.10" y="211.60">0</text>
<text class="t" text-anchor="middle" x="858.33" y="385.40">0.5</text>
<text class="t" text-anchor="end" x="603.10" y="132.40">0.5</text>
<text class="t" text-anchor="middle" x="941.50" y="385.40">1</text>
<text class="t" text-anchor="end" x="603.10" y="53.20">1</text>
<path d="M692.8 363.4v-3.3M692.8 46.6v3.3M609.6 284.2h3.3M942.3 284.2h-3.3M776.0 363.4v-3.3M776.0 46.6v3.3M609.6 205.0h3.3M942.3 205.0h-3.3M859.1 363.4v-3.3M859.1 46.6v3.3M609.6 125.8h3.3M942.3 125.8h-3.3" stroke="#262626" stroke-opacity="0.55" stroke-width="1" fill="none"/>
<g transform="translate(776.0 412.0)"><text font-family="'Liberation Serif', serif" font-size="29.72" fill="#333" transform="translate(-45.19 0.80) scale(1.0000 1)">|</text><text font-family="'Liberation Serif', serif" font-size="28.53" fill="#333" transform="translate(-36.40 0.36) scale(0.6730 1)">(</text><text font-family="'Liberation Serif', serif" font-size="26.82" font-style="italic" fill="#333" transform="translate(-26.71 0.00) scale(1.1083 1)">X</text><text font-family="'Liberation Serif', serif" font-size="15.79" font-style="italic" fill="#333" transform="translate(-5.31 3.50) scale(1.1880 1)">x</text><text font-family="'Liberation Serif', serif" font-size="28.53" fill="#333" transform="translate(5.97 0.36) scale(0.8181 1)">)</text><text font-family="'Liberation Serif', serif" font-size="17.86" font-style="italic" fill="#333" transform="translate(17.24 3.90) scale(1.0452 1)">j</text><text font-family="'Liberation Serif', serif" font-size="21.03" font-style="italic" fill="#333" transform="translate(23.62 3.90) scale(0.7304 1)">,</text><text font-family="'Liberation Serif', serif" font-size="18.2" font-style="italic" fill="#333" transform="translate(28.96 3.90) scale(0.8367 1)">k</text><text font-family="'Liberation Serif', serif" font-size="29.72" fill="#333" transform="translate(40.31 0.80) scale(1.0000 1)">|</text></g>
<g transform="translate(559.1 203.7) rotate(-90)"><text font-family="'Liberation Serif', serif" font-size="29.72" fill="#333" transform="translate(-45.19 0.80) scale(1.0000 1)">|</text><text font-family="'Liberation Serif', serif" font-size="28.53" fill="#333" transform="translate(-36.40 0.36) scale(0.6730 1)">(</text><text font-family="'Liberation Serif', serif" font-size="26.82" font-style="italic" fill="#333" transform="translate(-26.71 0.00) scale(1.1083 1)">X</text><text font-family="'Liberation Serif', serif" font-size="15.79" font-style="italic" fill="#333" transform="translate(-5.65 3.50) scale(0.9149 1)">y</text><text font-family="'Liberation Serif', serif" font-size="28.53" fill="#333" transform="translate(4.67 0.36) scale(0.8181 1)">)</text><text font-family="'Liberation Serif', serif" font-size="17.86" font-style="italic" fill="#333" transform="translate(15.94 3.90) scale(1.0452 1)">j</text><text font-family="'Liberation Serif', serif" font-size="21.03" font-style="italic" fill="#333" transform="translate(22.32 3.90) scale(0.7304 1)">,</text><text font-family="'Liberation Serif', serif" font-size="18.2" font-style="italic" fill="#333" transform="translate(27.66 3.90) scale(0.8367 1)">k</text><text font-family="'Liberation Serif', serif" font-size="29.72" fill="#333" transform="translate(38.21 0.80) scale(1.0000 1)">|</text></g>
<rect x="1146.4" y="47.1" width="331.1" height="315.8" fill="none" stroke="#200808" stroke-opacity="0.75" stroke-width="1"/>
<text class="t" text-anchor="middle" x="1145.10" y="385.40"><tspan textLength="7.4" lengthAdjust="spacingAndGlyphs">-</tspan>1</text>
<text class="t" text-anchor="end" x="1139.40" y="370.00"><tspan textLength="7.4" lengthAdjust="spacingAndGlyphs">-</tspan>1</text>
<text class="t" text-anchor="middle" x="1228.13" y="385.40"><tspan textLength="7.4" lengthAdjust="spacingAndGlyphs">-</tspan>0.5</text>
<text class="t" text-anchor="end" x="1139.40" y="290.80"><tspan textLength="7.4" lengthAdjust="spacingAndGlyphs">-</tspan>0.5</text>
<text class="t" text-anchor="middle" x="1311.15" y="385.40">0</text>
<text class="t" text-anchor="end" x="1139.40" y="211.60">0</text>
<text class="t" text-anchor="middle" x="1394.17" y="385.40">0.5</text>
<text class="t" text-anchor="end" x="1139.40" y="132.40">0.5</text>
<text class="t" text-anchor="middle" x="1477.20" y="385.40">1</text>
<text class="t" text-anchor="end" x="1139.40" y="53.20">1</text>
<path d="M1228.9 363.4v-3.3M1228.9 46.6v3.3M1145.9 284.2h3.3M1478.0 284.2h-3.3M1312.0 363.4v-3.3M1312.0 46.6v3.3M1145.9 205.0h3.3M1478.0 205.0h-3.3M1395.0 363.4v-3.3M1395.0 46.6v3.3M1145.9 125.8h3.3M1478.0 125.8h-3.3" stroke="#262626" stroke-opacity="0.55" stroke-width="1" fill="none"/>
<g transform="translate(1312.0 412.0)"><text font-family="'Liberation Serif', serif" font-size="29.72" fill="#333" transform="translate(-45.19 0.80) scale(1.0000 1)">|</text><text font-family="'Liberation Serif', serif" font-size="28.53" fill="#333" transform="translate(-36.40 0.36) scale(0.6730 1)">(</text><text font-family="'Liberation Serif', serif" font-size="26.82" font-style="italic" fill="#333" transform="translate(-26.71 0.00) scale(1.1083 1)">X</text><text font-family="'Liberation Serif', serif" font-size="15.79" font-style="italic" fill="#333" transform="translate(-5.31 3.50) scale(1.1880 1)">x</text><text font-family="'Liberation Serif', serif" font-size="28.53" fill="#333" transform="translate(5.97 0.36) scale(0.8181 1)">)</text><text font-family="'Liberation Serif', serif" font-size="17.86" font-style="italic" fill="#333" transform="translate(17.24 3.90) scale(1.0452 1)">j</text><text font-family="'Liberation Serif', serif" font-size="21.03" font-style="italic" fill="#333" transform="translate(23.62 3.90) scale(0.7304 1)">,</text><text font-family="'Liberation Serif', serif" font-size="18.2" font-style="italic" fill="#333" transform="translate(28.96 3.90) scale(0.8367 1)">k</text><text font-family="'Liberation Serif', serif" font-size="29.72" fill="#333" transform="translate(40.31 0.80) scale(1.0000 1)">|</text></g>
<g transform="translate(1095.4 203.7) rotate(-90)"><text font-family="'Liberation Serif', serif" font-size="29.72" fill="#333" transform="translate(-45.19 0.80) scale(1.0000 1)">|</text><text font-family="'Liberation Serif', serif" font-size="28.53" fill="#333" transform="translate(-36.40 0.36) scale(0.6730 1)">(</text><text font-family="'Liberation Serif', serif" font-size="26.82" font-style="italic" fill="#333" transform="translate(-26.71 0.00) scale(1.1083 1)">X</text><text font-family="'Liberation Serif', serif" font-size="15.79" font-style="italic" fill="#333" transform="translate(-5.65 3.50) scale(0.9149 1)">y</text><text font-family="'Liberation Serif', serif" font-size="28.53" fill="#333" transform="translate(4.67 0.36) scale(0.8181 1)">)</text><text font-family="'Liberation Serif', serif" font-size="17.86" font-style="italic" fill="#333" transform="translate(15.94 3.90) scale(1.0452 1)">j</text><text font-family="'Liberation Serif', serif" font-size="21.03" font-style="italic" fill="#333" transform="translate(22.32 3.90) scale(0.7304 1)">,</text><text font-family="'Liberation Serif', serif" font-size="18.2" font-style="italic" fill="#333" transform="translate(27.66 3.90) scale(0.8367 1)">k</text><text font-family="'Liberation Serif', serif" font-size="29.72" fill="#333" transform="translate(38.21 0.80) scale(1.0000 1)">|</text></g>
<rect x="74.6" y="501.2" width="330.4" height="316.9" fill="none" stroke="#200808" stroke-opacity="0.75" stroke-width="1"/>
<text class="t" text-anchor="middle" x="73.30" y="840.60"><tspan textLength="7.4" lengthAdjust="spacingAndGlyphs">-</tspan>1</text>
<text class="t" text-anchor="end" x="67.60" y="825.20"><tspan textLength="7.4" lengthAdjust="spacingAndGlyphs">-</tspan>1</text>
<text class="t" text-anchor="middle" x="156.15" y="840.60"><tspan textLength="7.4" lengthAdjust="spacingAndGlyphs">-</tspan>0.5</text>
<text class="t" text-anchor="end" x="67.60" y="745.73"><tspan textLength="7.4" lengthAdjust="spacingAndGlyphs">-</tspan>0.5</text>
<text class="t" text-anchor="middle" x="239.00" y="840.60">0</text>
<text class="t" text-anchor="end" x="67.60" y="666.25">0</text>
<text class="t" text-anchor="middle" x="321.85" y="840.60">0.5</text>
<text class="t" text-anchor="end" x="67.60" y="586.77">0.5</text>
<text class="t" text-anchor="middle" x="404.70" y="840.60">1</text>
<text class="t" text-anchor="end" x="67.60" y="507.30">1</text>
<path d="M156.9 818.6v-3.3M156.9 500.7v3.3M74.1 739.1h3.3M405.5 739.1h-3.3M239.8 818.6v-3.3M239.8 500.7v3.3M74.1 659.6h3.3M405.5 659.6h-3.3M322.6 818.6v-3.3M322.6 500.7v3.3M74.1 580.2h3.3M405.5 580.2h-3.3" stroke="#262626" stroke-opacity="0.55" stroke-width="1" fill="none"/>
<g transform="translate(239.8 867.2)"><text font-family="'Liberation Serif', serif" font-size="29.72" fill="#333" transform="translate(-45.19 0.80) scale(1.0000 1)">|</text><text font-family="'Liberation Serif', serif" font-size="28.53" fill="#333" transform="translate(-36.40 0.36) scale(0.6730 1)">(</text><text font-family="'Liberation Serif', serif" font-size="26.82" font-style="italic" fill="#333" transform="translate(-26.71 0.00) scale(1.1083 1)">X</text><text font-family="'Liberation Serif', serif" font-size="15.79" font-style="italic" fill="#333" transform="translate(-5.31 3.50) scale(1.1880 1)">x</text><text font-family="'Liberation Serif', serif" font-size="28.53" fill="#333" transform="translate(5.97 0.36) scale(0.8181 1)">)</text><text font-family="'Liberation Serif', serif" font-size="17.86" font-style="italic" fill="#333" transform="translate(17.24 3.90) scale(1.0452 1)">j</text><text font-family="'Liberation Serif', serif" font-size="21.03" font-style="italic" fill="#333" transform="translate(23.62 3.90) scale(0.7304 1)">,</text><text font-family="'Liberation Serif', serif" font-size="18.2" font-style="italic" fill="#333" transform="translate(28.96 3.90) scale(0.8367 1)">k</text><text font-family="'Liberation Serif', serif" font-size="29.72" fill="#333" transform="translate(40.31 0.80) scale(1.0000 1)">|</text></g>
<g transform="translate(23.6 658.9) rotate(-90)"><text font-family="'Liberation Serif', serif" font-size="29.72" fill="#333" transform="translate(-45.19 0.80) scale(1.0000 1)">|</text><text font-family="'Liberation Serif', serif" font-size="28.53" fill="#333" transform="translate(-36.40 0.36) scale(0.6730 1)">(</text><text font-family="'Liberation Serif', serif" font-size="26.82" font-style="italic" fill="#333" transform="translate(-26.71 0.00) scale(1.1083 1)">X</text><text font-family="'Liberation Serif', serif" font-size="15.79" font-style="italic" fill="#333" transform="translate(-5.65 3.50) scale(0.9149 1)">y</text><text font-family="'Liberation Serif', serif" font-size="28.53" fill="#333" transform="translate(4.67 0.36) scale(0.8181 1)">)</text><text font-family="'Liberation Serif', serif" font-size="17.86" font-style="italic" fill="#333" transform="translate(15.94 3.90) scale(1.0452 1)">j</text><text font-family="'Liberation Serif', serif" font-size="21.03" font-style="italic" fill="#333" transform="translate(22.32 3.90) scale(0.7304 1)">,</text><text font-family="'Liberation Serif', serif" font-size="18.2" font-style="italic" fill="#333" transform="translate(27.66 3.90) scale(0.8367 1)">k</text><text font-family="'Liberation Serif', serif" font-size="29.72" fill="#333" transform="translate(38.21 0.80) scale(1.0000 1)">|</text></g>
<rect x="610.1" y="501.2" width="331.7" height="316.9" fill="none" stroke="#200808" stroke-opacity="0.75" stroke-width="1"/>
<text class="t" text-anchor="middle" x="608.80" y="840.60"><tspan textLength="7.4" lengthAdjust="spacingAndGlyphs">-</tspan>1</text>
<text class="t" text-anchor="end" x="603.10" y="825.20"><tspan textLength="7.4" lengthAdjust="spacingAndGlyphs">-</tspan>1</text>
<text class="t" text-anchor="middle" x="691.98" y="840.60"><tspan textLength="7.4" lengthAdjust="spacingAndGlyphs">-</tspan>0.5</text>
<text class="t" text-anchor="end" x="603.10" y="745.73"><tspan textLength="7.4" lengthAdjust="spacingAndGlyphs">-</tspan>0.5</text>
<text class="t" text-anchor="middle" x="775.15" y="840.60">0</text>
<text class="t" text-anchor="end" x="603.10" y="666.25">0</text>
<text class="t" text-anchor="middle" x="858.33" y="840.60">0.5</text>
<text class="t" text-anchor="end" x="603.10" y="586.77">0.5</text>
<text class="t" text-anchor="middle" x="941.50" y="840.60">1</text>
<text class="t" text-anchor="end" x="603.10" y="507.30">1</text>
<path d="M692.8 818.6v-3.3M692.8 500.7v3.3M609.6 739.1h3.3M942.3 739.1h-3.3M776.0 818.6v-3.3M776.0 500.7v3.3M609.6 659.6h3.3M942.3 659.6h-3.3M859.1 818.6v-3.3M859.1 500.7v3.3M609.6 580.2h3.3M942.3 580.2h-3.3" stroke="#262626" stroke-opacity="0.55" stroke-width="1" fill="none"/>
<g transform="translate(776.0 867.2)"><text font-family="'Liberation Serif', serif" font-size="29.72" fill="#333" transform="translate(-45.19 0.80) scale(1.0000 1)">|</text><text font-family="'Liberation Serif', serif" font-size="28.53" fill="#333" transform="translate(-36.40 0.36) scale(0.6730 1)">(</text><text font-family="'Liberation Serif', serif" font-size="26.82" font-style="italic" fill="#333" transform="translate(-26.71 0.00) scale(1.1083 1)">X</text><text font-family="'Liberation Serif', serif" font-size="15.79" font-style="italic" fill="#333" transform="translate(-5.31 3.50) scale(1.1880 1)">x</text><text font-family="'Liberation Serif', serif" font-size="28.53" fill="#333" transform="translate(5.97 0.36) scale(0.8181 1)">)</text><text font-family="'Liberation Serif', serif" font-size="17.86" font-style="italic" fill="#333" transform="translate(17.24 3.90) scale(1.0452 1)">j</text><text font-family="'Liberation Serif', serif" font-size="21.03" font-style="italic" fill="#333" transform="translate(23.62 3.90) scale(0.7304 1)">,</text><text font-family="'Liberation Serif', serif" font-size="18.2" font-style="italic" fill="#333" transform="translate(28.96 3.90) scale(0.8367 1)">k</text><text font-family="'Liberation Serif', serif" font-size="29.72" fill="#333" transform="translate(40.31 0.80) scale(1.0000 1)">|</text></g>
<g transform="translate(559.1 658.9) rotate(-90)"><text font-family="'Liberation Serif', serif" font-size="29.72" fill="#333" transform="translate(-45.19 0.80) scale(1.0000 1)">|</text><text font-family="'Liberation Serif', serif" font-size="28.53" fill="#333" transform="translate(-36.40 0.36) scale(0.6730 1)">(</text><text font-family="'Liberation Serif', serif" font-size="26.82" font-style="italic" fill="#333" transform="translate(-26.71 0.00) scale(1.1083 1)">X</text><text font-family="'Liberation Serif', serif" font-size="15.79" font-style="italic" fill="#333" transform="translate(-5.65 3.50) scale(0.9149 1)">y</text><text font-family="'Liberation Serif', serif" font-size="28.53" fill="#333" transform="translate(4.67 0.36) scale(0.8181 1)">)</text><text font-family="'Liberation Serif', serif" font-size="17.86" font-style="italic" fill="#333" transform="translate(15.94 3.90) scale(1.0452 1)">j</text><text font-family="'Liberation Serif', serif" font-size="21.03" font-style="italic" fill="#333" transform="translate(22.32 3.90) scale(0.7304 1)">,</text><text font-family="'Liberation Serif', serif" font-size="18.2" font-style="italic" fill="#333" transform="translate(27.66 3.90) scale(0.8367 1)">k</text><text font-family="'Liberation Serif', serif" font-size="29.72" fill="#333" transform="translate(38.21 0.80) scale(1.0000 1)">|</text></g>
<rect x="1146.4" y="501.2" width="331.1" height="316.9" fill="none" stroke="#200808" stroke-opacity="0.75" stroke-width="1"/>
<text class="t" text-anchor="middle" x="1145.10" y="840.60"><tspan textLength="7.4" lengthAdjust="spacingAndGlyphs">-</tspan>1</text>
<text class="t" text-anchor="end" x="1139.40" y="825.20"><tspan textLength="7.4" lengthAdjust="spacingAndGlyphs">-</tspan>1</text>
<text class="t" text-anchor="middle" x="1228.13" y="840.60"><tspan textLength="7.4" lengthAdjust="spacingAndGlyphs">-</tspan>0.5</text>
<text class="t" text-anchor="end" x="1139.40" y="745.73"><tspan textLength="7.4" lengthAdjust="spacingAndGlyphs">-</tspan>0.5</text>
<text class="t" text-anchor="middle" x="1311.15" y="840.60">0</text>
<text class="t" text-anchor="end" x="1139.40" y="666.25">0</text>
<text class="t" text-anchor="middle" x="1394.17" y="840.60">0.5</text>
<text class="t" text-anchor="end" x="1139.40" y="586.77">0.5</text>
<text class="t" text-anchor="middle" x="1477.20" y="840.60">1</text>
<text class="t" text-anchor="end" x="1139.40" y="507.30">1</text>
<path d="M1228.9 818.6v-3.3M1228.9 500.7v3.3M1145.9 739.1h3.3M1478.0 739.1h-3.3M1312.0 818.6v-3.3M1312.0 500.7v3.3M1145.9 659.6h3.3M1478.0 659.6h-3.3M1395.0 818.6v-3.3M1395.0 500.7v3.3M1145.9 580.2h3.3M1478.0 580.2h-3.3" stroke="#262626" stroke-opacity="0.55" stroke-width="1" fill="none"/>
<g transform="translate(1312.0 867.2)"><text font-family="'Liberation Serif', serif" font-size="29.72" fill="#333" transform="translate(-45.19 0.80) scale(1.0000 1)">|</text><text font-family="'Liberation Serif', serif" font-size="28.53" fill="#333" transform="translate(-36.40 0.36) scale(0.6730 1)">(</text><text font-family="'Liberation Serif', serif" font-size="26.82" font-style="italic" fill="#333" transform="translate(-26.71 0.00) scale(1.1083 1)">X</text><text font-family="'Liberation Serif', serif" font-size="15.79" font-style="italic" fill="#333" transform="translate(-5.31 3.50) scale(1.1880 1)">x</text><text font-family="'Liberation Serif', serif" font-size="28.53" fill="#333" transform="translate(5.97 0.36) scale(0.8181 1)">)</text><text font-family="'Liberation Serif', serif" font-size="17.86" font-style="italic" fill="#333" transform="translate(17.24 3.90) scale(1.0452 1)">j</text><text font-family="'Liberation Serif', serif" font-size="21.03" font-style="italic" fill="#333" transform="translate(23.62 3.90) scale(0.7304 1)">,</text><text font-family="'Liberation Serif', serif" font-size="18.2" font-style="italic" fill="#333" transform="translate(28.96 3.90) scale(0.8367 1)">k</text><text font-family="'Liberation Serif', serif" font-size="29.72" fill="#333" transform="translate(40.31 0.80) scale(1.0000 1)">|</text></g>
<g transform="translate(1095.4 658.9) rotate(-90)"><text font-family="'Liberation Serif', serif" font-size="29.72" fill="#333" transform="translate(-45.19 0.80) scale(1.0000 1)">|</text><text font-family="'Liberation Serif', serif" font-size="28.53" fill="#333" transform="translate(-36.40 0.36) scale(0.6730 1)">(</text><text font-family="'Liberation Serif', serif" font-size="26.82" font-style="italic" fill="#333" transform="translate(-26.71 0.00) scale(1.1083 1)">X</text><text font-family="'Liberation Serif', serif" font-size="15.79" font-style="italic" fill="#333" transform="translate(-5.65 3.50) scale(0.9149 1)">y</text><text font-family="'Liberation Serif', serif" font-size="28.53" fill="#333" transform="translate(4.67 0.36) scale(0.8181 1)">)</text><text font-family="'Liberation Serif', serif" font-size="17.86" font-style="italic" fill="#333" transform="translate(15.94 3.90) scale(1.0452 1)">j</text><text font-family="'Liberation Serif', serif" font-size="21.03" font-style="italic" fill="#333" transform="translate(22.32 3.90) scale(0.7304 1)">,</text><text font-family="'Liberation Serif', serif" font-size="18.2" font-style="italic" fill="#333" transform="translate(27.66 3.90) scale(0.8367 1)">k</text><text font-family="'Liberation Serif', serif" font-size="29.72" fill="#333" transform="translate(38.21 0.80) scale(1.0000 1)">|</text></g>
<text font-family="'Liberation Serif', serif" font-size="41.0" fill="#000" transform="translate(218.19 27.30) scale(0.9582 1)">L0</text>
<text font-family="'Liberation Serif', serif" font-size="41.0" fill="#000" transform="translate(747.44 27.30) scale(1.0339 1)">TV</text>
<text font-family="'Liberation Serif', serif" font-size="41.0" fill="#000" transform="translate(1269.37 27.30) scale(1.0619 1)">TTV</text>
<text font-family="'Liberation Serif', serif" font-size="41.0" fill="#000" transform="translate(144.93 482.90) scale(1.0525 1)">TV</text>
<text font-family="'Liberation Serif', serif" font-size="20.85" font-style="italic" fill="#000" transform="translate(203.39 487.40) scale(1.2702 1)">a</text>
<text font-family="'Liberation Serif', serif" font-size="41.0" fill="#000" transform="translate(228.29 485.40) scale(1.2540 1)">−</text>
<text font-family="'Liberation Serif', serif" font-size="41.0" fill="#000" transform="translate(267.64 482.90) scale(1.0265 1)">TV</text>
<text font-family="'Liberation Serif', serif" font-size="25.15" font-style="italic" fill="#000" transform="translate(323.36 487.40) scale(1.3898 1)">i</text>
<text font-family="'Liberation Serif', serif" font-size="41.0" fill="#000" transform="translate(695.84 482.90) scale(1.0309 1)">MCP-TV</text>
<text font-family="'Liberation Serif', serif" font-size="41.0" fill="#000" transform="translate(1194.65 482.90) scale(1.0149 1)">Enhanced</text>
<text font-family="'Liberation Serif', serif" font-size="41.0" fill="#000" transform="translate(1374.25 482.90) scale(1.0116 1)">TV</text>
</svg></body></html>
